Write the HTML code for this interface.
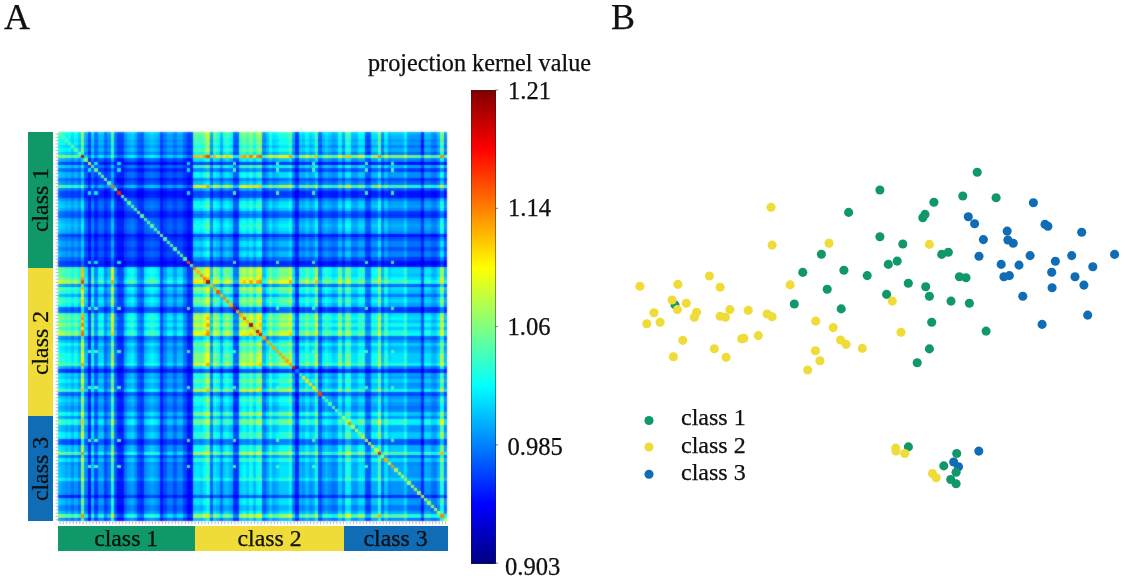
<!DOCTYPE html>
<html><head><meta charset="utf-8"><style>
html,body{margin:0;padding:0;background:#fff;}
body{width:1125px;height:580px;position:relative;overflow:hidden;font-family:"Liberation Serif","Times New Roman",serif;color:#111;}
.t{position:absolute;white-space:nowrap;line-height:1;-webkit-text-stroke:0.25px #000;}
.bar{position:absolute;}
</style></head><body>
<div class="t" style="left:4px;top:-1px;font-size:36px">A</div>
<div class="t" style="left:611px;top:-1px;font-size:36px">B</div>
<div class="t" style="left:368px;top:51px;font-size:24.2px">projection kernel value</div>
<div class="bar" style="left:471px;top:89.5px;width:25px;height:474px;background:linear-gradient(to bottom,#800000 0.0%,#ff0000 12.5%,#ff8000 25.0%,#ffff00 37.5%,#80ff80 50.0%,#00ffff 62.5%,#0080ff 75.0%,#0000ff 87.5%,#000080 100.0%);box-shadow:inset 0 0 0 1px rgba(30,30,30,0.45);"></div>
<div class="t" style="left:508px;top:78.5px;font-size:24.6px">1.21</div>
<div class="t" style="left:508px;top:196px;font-size:24.6px">1.14</div>
<div class="t" style="left:507.5px;top:315px;font-size:24.6px">1.06</div>
<div class="t" style="left:507.5px;top:434.5px;font-size:24.6px">0.985</div>
<div class="t" style="left:505px;top:554.5px;font-size:24.6px">0.903</div>
<div class="bar" style="left:28px;top:132.4px;width:25px;height:135.2px;background:#109868"></div>
<div class="bar" style="left:28px;top:267.6px;width:25px;height:148.4px;background:#efdc38"></div>
<div class="bar" style="left:28px;top:416px;width:25px;height:105.4px;background:#106db5"></div>
<div class="t" style="left:40.5px;top:200px;font-size:23.8px;transform:translate(-50%,-50%) rotate(-90deg)">class 1</div>
<div class="t" style="left:40.5px;top:342.8px;font-size:23.8px;transform:translate(-50%,-50%) rotate(-90deg)">class 2</div>
<div class="t" style="left:40.5px;top:468.7px;font-size:23.8px;transform:translate(-50%,-50%) rotate(-90deg)">class 3</div>
<div class="bar" style="left:58.4px;top:525.8px;width:136.4px;height:25px;background:#109868"></div>
<div class="bar" style="left:194.8px;top:525.8px;width:149px;height:25px;background:#efdc38"></div>
<div class="bar" style="left:343.8px;top:525.8px;width:104px;height:25px;background:#106db5"></div>
<div class="t" style="left:126.2px;top:538.6px;font-size:23.8px;transform:translate(-50%,-50%)">class 1</div>
<div class="t" style="left:269.6px;top:538.6px;font-size:23.8px;transform:translate(-50%,-50%)">class 2</div>
<div class="t" style="left:395.6px;top:538.6px;font-size:23.8px;transform:translate(-50%,-50%)">class 3</div>
<div style="position:absolute;left:58.4px;top:132.4px;width:389px;height:389px;filter:blur(0px)"><svg width="389" height="389" viewBox="0 0 389 389" style="display:block;overflow:visible" shape-rendering="crispEdges">
<defs>
<filter id="fA" x="0" y="0" width="389" height="389" filterUnits="userSpaceOnUse" color-interpolation-filters="sRGB"><feColorMatrix type="matrix" values="0.45113 0.45113 0.09775 0 0 0.45113 0.45113 0.09775 0 0 0.45113 0.45113 0.09775 0 0 0 0 0 1 0"/><feComponentTransfer><feFuncR type="table" tableValues="0.03124 0.03132 0.0314 0.03148 0.03157 0.03167 0.03177 0.03187 0.03199 0.03211 0.03223 0.03237 0.03251 0.03266 0.03282 0.03299 0.03317 0.03336 0.03357 0.03378 0.03401 0.03425 0.03451 0.03478 0.03507 0.03537 0.0357 0.03604 0.0364 0.03679 0.0372 0.03763 0.03809 0.03858 0.0391 0.03965 0.04023 0.04085 0.0415 0.04219 0.04293 0.04371 0.04453 0.04541 0.04634 0.04732 0.04837 0.04947 0.05065 0.05189 0.05321 0.05461 0.05609 0.05767 0.05934 0.06108 0.06284 0.0646 0.06635 0.06811 0.06986 0.07162 0.07338 0.07513 0.07689 0.07864 0.0804 0.08216 0.08391 0.08567 0.08742 0.08918 0.09094 0.09269 0.09445 0.0962 0.09796 0.09971 0.1015 0.1032 0.105 0.1067 0.1085 0.1103 0.112 0.1138 0.1155 0.1173 0.119 0.1208 0.1225 0.1243 0.1261 0.1278 0.1296 0.1313 0.1331 0.1348 0.1366 0.1383 0.1401 0.1419 0.1436 0.1454 0.1471 0.1489 0.1506 0.1524 0.1541 0.1559 0.1577 0.1594 0.1612 0.1629 0.1647 0.1664 0.1682 0.17 0.1717 0.1735 0.1752 0.177 0.1787 0.1805 0.1822 0.184 0.1858 0.1875 0.1893 0.191 0.1928 0.1945 0.1963 0.198 0.1998 0.2016 0.2033 0.2051 0.2068 0.2086 0.2103 0.2121 0.2139 0.2156 0.2174 0.2191 0.2209 0.2226 0.2244 0.2261 0.2279 0.2297 0.2314 0.2332 0.2349 0.2367 0.2384 0.2402 0.2419 0.2437 0.2455 0.2472 0.249 0.2507 0.2525 0.2542 0.256 0.2578 0.2595 0.2613 0.263 0.2648 0.2665 0.2683 0.27 0.2718 0.2736 0.2753 0.2771 0.2788 0.2806 0.2823 0.2841 0.2858 0.2876 0.2894 0.2911 0.2929 0.2946 0.2964 0.2981 0.2999 0.3016 0.3034 0.3052 0.3069 0.3087 0.3104 0.3122 0.3139 0.3157 0.3175 0.3192 0.321 0.3227 0.3245 0.3262 0.328 0.3297 0.3315 0.3333 0.335 0.3368 0.3385 0.3403 0.342 0.3438 0.3455 0.3473 0.3491 0.3508 0.3526 0.3543 0.3561 0.3578 0.3596 0.3614 0.3631 0.3649 0.3666 0.3684 0.3701 0.3719 0.3736 0.3754 0.3772 0.3789 0.3807 0.3824 0.3842 0.3859 0.3877 0.3894 0.3912 0.393 0.3947 0.3965 0.3982 0.4 0.4017 0.4035 0.4053 0.407 0.4088 0.4105 0.4123"/><feFuncG type="table" tableValues="0.03124 0.03132 0.0314 0.03148 0.03157 0.03167 0.03177 0.03187 0.03199 0.03211 0.03223 0.03237 0.03251 0.03266 0.03282 0.03299 0.03317 0.03336 0.03357 0.03378 0.03401 0.03425 0.03451 0.03478 0.03507 0.03537 0.0357 0.03604 0.0364 0.03679 0.0372 0.03763 0.03809 0.03858 0.0391 0.03965 0.04023 0.04085 0.0415 0.04219 0.04293 0.04371 0.04453 0.04541 0.04634 0.04732 0.04837 0.04947 0.05065 0.05189 0.05321 0.05461 0.05609 0.05767 0.05934 0.06108 0.06284 0.0646 0.06635 0.06811 0.06986 0.07162 0.07338 0.07513 0.07689 0.07864 0.0804 0.08216 0.08391 0.08567 0.08742 0.08918 0.09094 0.09269 0.09445 0.0962 0.09796 0.09971 0.1015 0.1032 0.105 0.1067 0.1085 0.1103 0.112 0.1138 0.1155 0.1173 0.119 0.1208 0.1225 0.1243 0.1261 0.1278 0.1296 0.1313 0.1331 0.1348 0.1366 0.1383 0.1401 0.1419 0.1436 0.1454 0.1471 0.1489 0.1506 0.1524 0.1541 0.1559 0.1577 0.1594 0.1612 0.1629 0.1647 0.1664 0.1682 0.17 0.1717 0.1735 0.1752 0.177 0.1787 0.1805 0.1822 0.184 0.1858 0.1875 0.1893 0.191 0.1928 0.1945 0.1963 0.198 0.1998 0.2016 0.2033 0.2051 0.2068 0.2086 0.2103 0.2121 0.2139 0.2156 0.2174 0.2191 0.2209 0.2226 0.2244 0.2261 0.2279 0.2297 0.2314 0.2332 0.2349 0.2367 0.2384 0.2402 0.2419 0.2437 0.2455 0.2472 0.249 0.2507 0.2525 0.2542 0.256 0.2578 0.2595 0.2613 0.263 0.2648 0.2665 0.2683 0.27 0.2718 0.2736 0.2753 0.2771 0.2788 0.2806 0.2823 0.2841 0.2858 0.2876 0.2894 0.2911 0.2929 0.2946 0.2964 0.2981 0.2999 0.3016 0.3034 0.3052 0.3069 0.3087 0.3104 0.3122 0.3139 0.3157 0.3175 0.3192 0.321 0.3227 0.3245 0.3262 0.328 0.3297 0.3315 0.3333 0.335 0.3368 0.3385 0.3403 0.342 0.3438 0.3455 0.3473 0.3491 0.3508 0.3526 0.3543 0.3561 0.3578 0.3596 0.3614 0.3631 0.3649 0.3666 0.3684 0.3701 0.3719 0.3736 0.3754 0.3772 0.3789 0.3807 0.3824 0.3842 0.3859 0.3877 0.3894 0.3912 0.393 0.3947 0.3965 0.3982 0.4 0.4017 0.4035 0.4053 0.407 0.4088 0.4105 0.4123"/><feFuncB type="table" tableValues="0.03124 0.03132 0.0314 0.03148 0.03157 0.03167 0.03177 0.03187 0.03199 0.03211 0.03223 0.03237 0.03251 0.03266 0.03282 0.03299 0.03317 0.03336 0.03357 0.03378 0.03401 0.03425 0.03451 0.03478 0.03507 0.03537 0.0357 0.03604 0.0364 0.03679 0.0372 0.03763 0.03809 0.03858 0.0391 0.03965 0.04023 0.04085 0.0415 0.04219 0.04293 0.04371 0.04453 0.04541 0.04634 0.04732 0.04837 0.04947 0.05065 0.05189 0.05321 0.05461 0.05609 0.05767 0.05934 0.06108 0.06284 0.0646 0.06635 0.06811 0.06986 0.07162 0.07338 0.07513 0.07689 0.07864 0.0804 0.08216 0.08391 0.08567 0.08742 0.08918 0.09094 0.09269 0.09445 0.0962 0.09796 0.09971 0.1015 0.1032 0.105 0.1067 0.1085 0.1103 0.112 0.1138 0.1155 0.1173 0.119 0.1208 0.1225 0.1243 0.1261 0.1278 0.1296 0.1313 0.1331 0.1348 0.1366 0.1383 0.1401 0.1419 0.1436 0.1454 0.1471 0.1489 0.1506 0.1524 0.1541 0.1559 0.1577 0.1594 0.1612 0.1629 0.1647 0.1664 0.1682 0.17 0.1717 0.1735 0.1752 0.177 0.1787 0.1805 0.1822 0.184 0.1858 0.1875 0.1893 0.191 0.1928 0.1945 0.1963 0.198 0.1998 0.2016 0.2033 0.2051 0.2068 0.2086 0.2103 0.2121 0.2139 0.2156 0.2174 0.2191 0.2209 0.2226 0.2244 0.2261 0.2279 0.2297 0.2314 0.2332 0.2349 0.2367 0.2384 0.2402 0.2419 0.2437 0.2455 0.2472 0.249 0.2507 0.2525 0.2542 0.256 0.2578 0.2595 0.2613 0.263 0.2648 0.2665 0.2683 0.27 0.2718 0.2736 0.2753 0.2771 0.2788 0.2806 0.2823 0.2841 0.2858 0.2876 0.2894 0.2911 0.2929 0.2946 0.2964 0.2981 0.2999 0.3016 0.3034 0.3052 0.3069 0.3087 0.3104 0.3122 0.3139 0.3157 0.3175 0.3192 0.321 0.3227 0.3245 0.3262 0.328 0.3297 0.3315 0.3333 0.335 0.3368 0.3385 0.3403 0.342 0.3438 0.3455 0.3473 0.3491 0.3508 0.3526 0.3543 0.3561 0.3578 0.3596 0.3614 0.3631 0.3649 0.3666 0.3684 0.3701 0.3719 0.3736 0.3754 0.3772 0.3789 0.3807 0.3824 0.3842 0.3859 0.3877 0.3894 0.3912 0.393 0.3947 0.3965 0.3982 0.4 0.4017 0.4035 0.4053 0.407 0.4088 0.4105 0.4123"/></feComponentTransfer></filter>
<filter id="fM" x="0" y="0" width="389" height="389" filterUnits="userSpaceOnUse" color-interpolation-filters="sRGB"><feColorMatrix type="matrix" values="0.43943 0.43943 0.12114 0 0 0.43943 0.43943 0.12114 0 0 0.43943 0.43943 0.12114 0 0 0 0 0 1 0"/><feComponentTransfer><feFuncR type="table" tableValues="0.06032 0.06033 0.06034 0.06035 0.06036 0.06037 0.06038 0.06039 0.06041 0.06042 0.06043 0.06045 0.06046 0.06048 0.06049 0.06051 0.06052 0.06054 0.06056 0.06058 0.0606 0.06061 0.06063 0.06065 0.06068 0.0607 0.06072 0.06074 0.06077 0.06079 0.06082 0.06084 0.06087 0.0609 0.06093 0.06096 0.06099 0.06102 0.06105 0.06108 0.06112 0.06115 0.06119 0.06123 0.06127 0.06131 0.06135 0.0614 0.06144 0.06149 0.06153 0.06158 0.06163 0.06169 0.06174 0.0618 0.06185 0.06191 0.06198 0.06204 0.0621 0.06217 0.06224 0.06231 0.06239 0.06246 0.06254 0.06263 0.06271 0.0628 0.06289 0.06298 0.06307 0.06317 0.06327 0.06338 0.06349 0.0636 0.06372 0.06383 0.06396 0.06408 0.06422 0.06435 0.06449 0.06463 0.06478 0.06494 0.0651 0.06526 0.06543 0.0656 0.06578 0.06597 0.06616 0.06636 0.06656 0.06677 0.06699 0.06721 0.06744 0.06768 0.06793 0.06818 0.06845 0.06872 0.069 0.06929 0.06958 0.06989 0.07021 0.07054 0.07087 0.07122 0.07158 0.07195 0.07234 0.07273 0.07314 0.07356 0.074 0.07445 0.07491 0.07539 0.07588 0.07639 0.07692 0.07746 0.07802 0.0786 0.0792 0.07981 0.08045 0.08111 0.08178 0.08248 0.0832 0.08395 0.08472 0.08551 0.08633 0.08717 0.08804 0.08894 0.08987 0.09083 0.09182 0.09284 0.09389 0.09498 0.0961 0.09726 0.09846 0.09969 0.101 0.1023 0.1036 0.105 0.1065 0.108 0.1095 0.1111 0.1127 0.1144 0.1162 0.118 0.1198 0.1218 0.1237 0.1258 0.1279 0.1301 0.1323 0.1346 0.137 0.1395 0.1421 0.1447 0.1474 0.1502 0.1531 0.1561 0.1592 0.1624 0.1657 0.169 0.1725 0.1762 0.1799 0.1837 0.1877 0.1918 0.196 0.2004 0.2049 0.2095 0.2143 0.2193 0.2244 0.2297 0.2351 0.2407 0.2465 0.2525 0.2587 0.2651 0.2717 0.2784 0.2855 0.2927 0.3002 0.3079 0.3158 0.324 0.3325 0.3412 0.3503 0.3596 0.3692 0.3791 0.3893 0.3999 0.4108 0.4221 0.4337 0.4457 0.458 0.4708 0.484 0.4976 0.5116 0.5261 0.5411 0.5565 0.5725 0.5889 0.6059 0.6234 0.6415 0.6601 0.6794 0.6992 0.7198 0.7409 0.7628 0.7853 0.8086 0.8326 0.8574 0.883 0.9094 0.9366 0.9648 0.9938 1.024 1.055"/><feFuncG type="table" tableValues="0.06032 0.06033 0.06034 0.06035 0.06036 0.06037 0.06038 0.06039 0.06041 0.06042 0.06043 0.06045 0.06046 0.06048 0.06049 0.06051 0.06052 0.06054 0.06056 0.06058 0.0606 0.06061 0.06063 0.06065 0.06068 0.0607 0.06072 0.06074 0.06077 0.06079 0.06082 0.06084 0.06087 0.0609 0.06093 0.06096 0.06099 0.06102 0.06105 0.06108 0.06112 0.06115 0.06119 0.06123 0.06127 0.06131 0.06135 0.0614 0.06144 0.06149 0.06153 0.06158 0.06163 0.06169 0.06174 0.0618 0.06185 0.06191 0.06198 0.06204 0.0621 0.06217 0.06224 0.06231 0.06239 0.06246 0.06254 0.06263 0.06271 0.0628 0.06289 0.06298 0.06307 0.06317 0.06327 0.06338 0.06349 0.0636 0.06372 0.06383 0.06396 0.06408 0.06422 0.06435 0.06449 0.06463 0.06478 0.06494 0.0651 0.06526 0.06543 0.0656 0.06578 0.06597 0.06616 0.06636 0.06656 0.06677 0.06699 0.06721 0.06744 0.06768 0.06793 0.06818 0.06845 0.06872 0.069 0.06929 0.06958 0.06989 0.07021 0.07054 0.07087 0.07122 0.07158 0.07195 0.07234 0.07273 0.07314 0.07356 0.074 0.07445 0.07491 0.07539 0.07588 0.07639 0.07692 0.07746 0.07802 0.0786 0.0792 0.07981 0.08045 0.08111 0.08178 0.08248 0.0832 0.08395 0.08472 0.08551 0.08633 0.08717 0.08804 0.08894 0.08987 0.09083 0.09182 0.09284 0.09389 0.09498 0.0961 0.09726 0.09846 0.09969 0.101 0.1023 0.1036 0.105 0.1065 0.108 0.1095 0.1111 0.1127 0.1144 0.1162 0.118 0.1198 0.1218 0.1237 0.1258 0.1279 0.1301 0.1323 0.1346 0.137 0.1395 0.1421 0.1447 0.1474 0.1502 0.1531 0.1561 0.1592 0.1624 0.1657 0.169 0.1725 0.1762 0.1799 0.1837 0.1877 0.1918 0.196 0.2004 0.2049 0.2095 0.2143 0.2193 0.2244 0.2297 0.2351 0.2407 0.2465 0.2525 0.2587 0.2651 0.2717 0.2784 0.2855 0.2927 0.3002 0.3079 0.3158 0.324 0.3325 0.3412 0.3503 0.3596 0.3692 0.3791 0.3893 0.3999 0.4108 0.4221 0.4337 0.4457 0.458 0.4708 0.484 0.4976 0.5116 0.5261 0.5411 0.5565 0.5725 0.5889 0.6059 0.6234 0.6415 0.6601 0.6794 0.6992 0.7198 0.7409 0.7628 0.7853 0.8086 0.8326 0.8574 0.883 0.9094 0.9366 0.9648 0.9938 1.024 1.055"/><feFuncB type="table" tableValues="0.06032 0.06033 0.06034 0.06035 0.06036 0.06037 0.06038 0.06039 0.06041 0.06042 0.06043 0.06045 0.06046 0.06048 0.06049 0.06051 0.06052 0.06054 0.06056 0.06058 0.0606 0.06061 0.06063 0.06065 0.06068 0.0607 0.06072 0.06074 0.06077 0.06079 0.06082 0.06084 0.06087 0.0609 0.06093 0.06096 0.06099 0.06102 0.06105 0.06108 0.06112 0.06115 0.06119 0.06123 0.06127 0.06131 0.06135 0.0614 0.06144 0.06149 0.06153 0.06158 0.06163 0.06169 0.06174 0.0618 0.06185 0.06191 0.06198 0.06204 0.0621 0.06217 0.06224 0.06231 0.06239 0.06246 0.06254 0.06263 0.06271 0.0628 0.06289 0.06298 0.06307 0.06317 0.06327 0.06338 0.06349 0.0636 0.06372 0.06383 0.06396 0.06408 0.06422 0.06435 0.06449 0.06463 0.06478 0.06494 0.0651 0.06526 0.06543 0.0656 0.06578 0.06597 0.06616 0.06636 0.06656 0.06677 0.06699 0.06721 0.06744 0.06768 0.06793 0.06818 0.06845 0.06872 0.069 0.06929 0.06958 0.06989 0.07021 0.07054 0.07087 0.07122 0.07158 0.07195 0.07234 0.07273 0.07314 0.07356 0.074 0.07445 0.07491 0.07539 0.07588 0.07639 0.07692 0.07746 0.07802 0.0786 0.0792 0.07981 0.08045 0.08111 0.08178 0.08248 0.0832 0.08395 0.08472 0.08551 0.08633 0.08717 0.08804 0.08894 0.08987 0.09083 0.09182 0.09284 0.09389 0.09498 0.0961 0.09726 0.09846 0.09969 0.101 0.1023 0.1036 0.105 0.1065 0.108 0.1095 0.1111 0.1127 0.1144 0.1162 0.118 0.1198 0.1218 0.1237 0.1258 0.1279 0.1301 0.1323 0.1346 0.137 0.1395 0.1421 0.1447 0.1474 0.1502 0.1531 0.1561 0.1592 0.1624 0.1657 0.169 0.1725 0.1762 0.1799 0.1837 0.1877 0.1918 0.196 0.2004 0.2049 0.2095 0.2143 0.2193 0.2244 0.2297 0.2351 0.2407 0.2465 0.2525 0.2587 0.2651 0.2717 0.2784 0.2855 0.2927 0.3002 0.3079 0.3158 0.324 0.3325 0.3412 0.3503 0.3596 0.3692 0.3791 0.3893 0.3999 0.4108 0.4221 0.4337 0.4457 0.458 0.4708 0.484 0.4976 0.5116 0.5261 0.5411 0.5565 0.5725 0.5889 0.6059 0.6234 0.6415 0.6601 0.6794 0.6992 0.7198 0.7409 0.7628 0.7853 0.8086 0.8326 0.8574 0.883 0.9094 0.9366 0.9648 0.9938 1.024 1.055"/></feComponentTransfer></filter>
<filter id="jet" x="0" y="0" width="389" height="389" filterUnits="userSpaceOnUse" color-interpolation-filters="sRGB"><feComponentTransfer result="cm"><feFuncR type="table" tableValues="0 0 0 0 0 0 0 0 0 0 0 0 0 0 0 0 0 0 0 0 0 0 0 0 0 0 0 0 0 0 0 0 0 0 0 0 0 0 0 0 0 0 0 0 0 0 0 0 0 0 0 0 0 0 0 0 0 0 0 0 0 0 0 0 0 0 0 0 0 0 0 0 0 0 0 0 0 0 0 0 0 0 0 0 0 0 0 0 0 0 0 0 0 0 0 0 0.005882 0.02157 0.03725 0.05294 0.06863 0.08431 0.1 0.1157 0.1314 0.1471 0.1627 0.1784 0.1941 0.2098 0.2255 0.2412 0.2569 0.2725 0.2882 0.3039 0.3196 0.3353 0.351 0.3667 0.3824 0.398 0.4137 0.4294 0.4451 0.4608 0.4765 0.4922 0.5078 0.5235 0.5392 0.5549 0.5706 0.5863 0.602 0.6176 0.6333 0.649 0.6647 0.6804 0.6961 0.7118 0.7275 0.7431 0.7588 0.7745 0.7902 0.8059 0.8216 0.8373 0.8529 0.8686 0.8843 0.9 0.9157 0.9314 0.9471 0.9627 0.9784 0.9941 1 1 1 1 1 1 1 1 1 1 1 1 1 1 1 1 1 1 1 1 1 1 1 1 1 1 1 1 1 1 1 1 1 1 1 1 1 1 1 1 1 1 1 1 1 1 1 1 1 1 1 1 1 1 1 1 1 1 1 1 1 1 1 1 0.9863 0.9706 0.9549 0.9392 0.9235 0.9078 0.8922 0.8765 0.8608 0.8451 0.8294 0.8137 0.798 0.7824 0.7667 0.751 0.7353 0.7196 0.7039 0.6882 0.6725 0.6569 0.6412 0.6255 0.6098 0.5941 0.5784 0.5627 0.5471 0.5314 0.5157 0.5"/><feFuncG type="table" tableValues="0 0 0 0 0 0 0 0 0 0 0 0 0 0 0 0 0 0 0 0 0 0 0 0 0 0 0 0 0 0 0 0 0.001961 0.01765 0.03333 0.04902 0.06471 0.08039 0.09608 0.1118 0.1275 0.1431 0.1588 0.1745 0.1902 0.2059 0.2216 0.2373 0.2529 0.2686 0.2843 0.3 0.3157 0.3314 0.3471 0.3627 0.3784 0.3941 0.4098 0.4255 0.4412 0.4569 0.4725 0.4882 0.5039 0.5196 0.5353 0.551 0.5667 0.5824 0.598 0.6137 0.6294 0.6451 0.6608 0.6765 0.6922 0.7078 0.7235 0.7392 0.7549 0.7706 0.7863 0.802 0.8176 0.8333 0.849 0.8647 0.8804 0.8961 0.9118 0.9275 0.9431 0.9588 0.9745 0.9902 1 1 1 1 1 1 1 1 1 1 1 1 1 1 1 1 1 1 1 1 1 1 1 1 1 1 1 1 1 1 1 1 1 1 1 1 1 1 1 1 1 1 1 1 1 1 1 1 1 1 1 1 1 1 1 1 1 1 1 1 1 1 1 1 0.9902 0.9745 0.9588 0.9431 0.9275 0.9118 0.8961 0.8804 0.8647 0.849 0.8333 0.8176 0.802 0.7863 0.7706 0.7549 0.7392 0.7235 0.7078 0.6922 0.6765 0.6608 0.6451 0.6294 0.6137 0.598 0.5824 0.5667 0.551 0.5353 0.5196 0.5039 0.4882 0.4725 0.4569 0.4412 0.4255 0.4098 0.3941 0.3784 0.3627 0.3471 0.3314 0.3157 0.3 0.2843 0.2686 0.2529 0.2373 0.2216 0.2059 0.1902 0.1745 0.1588 0.1431 0.1275 0.1118 0.09608 0.08039 0.06471 0.04902 0.03333 0.01765 0.001961 0 0 0 0 0 0 0 0 0 0 0 0 0 0 0 0 0 0 0 0 0 0 0 0 0 0 0 0 0 0 0 0"/><feFuncB type="table" tableValues="0.5 0.5157 0.5314 0.5471 0.5627 0.5784 0.5941 0.6098 0.6255 0.6412 0.6569 0.6725 0.6882 0.7039 0.7196 0.7353 0.751 0.7667 0.7824 0.798 0.8137 0.8294 0.8451 0.8608 0.8765 0.8922 0.9078 0.9235 0.9392 0.9549 0.9706 0.9863 1 1 1 1 1 1 1 1 1 1 1 1 1 1 1 1 1 1 1 1 1 1 1 1 1 1 1 1 1 1 1 1 1 1 1 1 1 1 1 1 1 1 1 1 1 1 1 1 1 1 1 1 1 1 1 1 1 1 1 1 1 1 1 1 0.9941 0.9784 0.9627 0.9471 0.9314 0.9157 0.9 0.8843 0.8686 0.8529 0.8373 0.8216 0.8059 0.7902 0.7745 0.7588 0.7431 0.7275 0.7118 0.6961 0.6804 0.6647 0.649 0.6333 0.6176 0.602 0.5863 0.5706 0.5549 0.5392 0.5235 0.5078 0.4922 0.4765 0.4608 0.4451 0.4294 0.4137 0.398 0.3824 0.3667 0.351 0.3353 0.3196 0.3039 0.2882 0.2725 0.2569 0.2412 0.2255 0.2098 0.1941 0.1784 0.1627 0.1471 0.1314 0.1157 0.1 0.08431 0.06863 0.05294 0.03725 0.02157 0.005882 0 0 0 0 0 0 0 0 0 0 0 0 0 0 0 0 0 0 0 0 0 0 0 0 0 0 0 0 0 0 0 0 0 0 0 0 0 0 0 0 0 0 0 0 0 0 0 0 0 0 0 0 0 0 0 0 0 0 0 0 0 0 0 0 0 0 0 0 0 0 0 0 0 0 0 0 0 0 0 0 0 0 0 0 0 0 0 0 0 0 0 0 0 0 0 0"/></feComponentTransfer></filter>
<filter id="soft" x="-3" y="-3" width="395" height="395" filterUnits="userSpaceOnUse" color-interpolation-filters="sRGB"><feGaussianBlur in="SourceGraphic" stdDeviation="0.9" result="bl"/><feComposite in="SourceGraphic" in2="bl" operator="arithmetic" k1="0" k2="0.400" k3="0.600" k4="0"/></filter>
</defs>
<g filter="url(#soft)">
<g filter="url(#jet)"><rect width="389" height="389" fill="#000"/>
<g filter="url(#fA)" style="mix-blend-mode:plus-lighter"><rect width="389" height="389" fill="#000"/><g>
<rect x="0.00" y="0.00" width="23.08" height="3.33" fill="rgb(138,0,0)"/>
<rect x="23.08" y="0.00" width="112.08" height="3.33" fill="rgb(138,0,0)"/>
<rect x="135.16" y="0.00" width="69.23" height="3.33" fill="rgb(153,0,0)"/>
<rect x="204.39" y="0.00" width="79.12" height="3.33" fill="rgb(153,0,0)"/>
<rect x="283.51" y="0.00" width="105.49" height="3.33" fill="rgb(153,0,0)"/>
<rect x="0.00" y="3.30" width="23.08" height="3.33" fill="rgb(130,0,0)"/>
<rect x="23.08" y="3.30" width="112.08" height="3.33" fill="rgb(130,0,0)"/>
<rect x="135.16" y="3.30" width="69.23" height="3.33" fill="rgb(141,0,0)"/>
<rect x="204.39" y="3.30" width="79.12" height="3.33" fill="rgb(141,0,0)"/>
<rect x="283.51" y="3.30" width="105.49" height="3.33" fill="rgb(141,0,0)"/>
<rect x="0.00" y="6.59" width="23.08" height="3.33" fill="rgb(119,0,0)"/>
<rect x="23.08" y="6.59" width="112.08" height="3.33" fill="rgb(119,0,0)"/>
<rect x="135.16" y="6.59" width="69.23" height="3.33" fill="rgb(124,0,0)"/>
<rect x="204.39" y="6.59" width="79.12" height="3.33" fill="rgb(124,0,0)"/>
<rect x="283.51" y="6.59" width="105.49" height="3.33" fill="rgb(124,0,0)"/>
<rect x="0.00" y="9.89" width="23.08" height="3.33" fill="rgb(126,0,0)"/>
<rect x="23.08" y="9.89" width="112.08" height="3.33" fill="rgb(126,0,0)"/>
<rect x="135.16" y="9.89" width="69.23" height="3.33" fill="rgb(136,0,0)"/>
<rect x="204.39" y="9.89" width="79.12" height="3.33" fill="rgb(136,0,0)"/>
<rect x="283.51" y="9.89" width="105.49" height="3.33" fill="rgb(136,0,0)"/>
<rect x="0.00" y="13.19" width="23.08" height="3.33" fill="rgb(107,0,0)"/>
<rect x="23.08" y="13.19" width="112.08" height="3.33" fill="rgb(107,0,0)"/>
<rect x="135.16" y="13.19" width="69.23" height="3.33" fill="rgb(107,0,0)"/>
<rect x="204.39" y="13.19" width="79.12" height="3.33" fill="rgb(107,0,0)"/>
<rect x="283.51" y="13.19" width="105.49" height="3.33" fill="rgb(107,0,0)"/>
<rect x="0.00" y="16.48" width="23.08" height="3.33" fill="rgb(126,0,0)"/>
<rect x="23.08" y="16.48" width="112.08" height="3.33" fill="rgb(126,0,0)"/>
<rect x="135.16" y="16.48" width="69.23" height="3.33" fill="rgb(136,0,0)"/>
<rect x="204.39" y="16.48" width="79.12" height="3.33" fill="rgb(136,0,0)"/>
<rect x="283.51" y="16.48" width="105.49" height="3.33" fill="rgb(136,0,0)"/>
<rect x="0.00" y="19.78" width="23.08" height="3.33" fill="rgb(100,0,0)"/>
<rect x="23.08" y="19.78" width="112.08" height="3.33" fill="rgb(100,0,0)"/>
<rect x="135.16" y="19.78" width="69.23" height="3.33" fill="rgb(96,0,0)"/>
<rect x="204.39" y="19.78" width="79.12" height="3.33" fill="rgb(96,0,0)"/>
<rect x="283.51" y="19.78" width="105.49" height="3.33" fill="rgb(96,0,0)"/>
<rect x="0.00" y="23.08" width="23.08" height="3.33" fill="rgb(206,0,0)"/>
<rect x="23.08" y="23.08" width="112.08" height="3.33" fill="rgb(206,0,0)"/>
<rect x="135.16" y="23.08" width="69.23" height="3.33" fill="rgb(255,0,0)"/>
<rect x="204.39" y="23.08" width="79.12" height="3.33" fill="rgb(255,0,0)"/>
<rect x="283.51" y="23.08" width="105.49" height="3.33" fill="rgb(255,0,0)"/>
<rect x="0.00" y="26.37" width="23.08" height="3.33" fill="rgb(100,0,0)"/>
<rect x="23.08" y="26.37" width="112.08" height="3.33" fill="rgb(100,0,0)"/>
<rect x="135.16" y="26.37" width="69.23" height="3.33" fill="rgb(96,0,0)"/>
<rect x="204.39" y="26.37" width="79.12" height="3.33" fill="rgb(96,0,0)"/>
<rect x="283.51" y="26.37" width="105.49" height="3.33" fill="rgb(96,0,0)"/>
<rect x="0.00" y="29.67" width="23.08" height="3.33" fill="rgb(47,0,0)"/>
<rect x="23.08" y="29.67" width="112.08" height="3.33" fill="rgb(47,0,0)"/>
<rect x="135.16" y="29.67" width="69.23" height="3.33" fill="rgb(16,0,0)"/>
<rect x="204.39" y="29.67" width="79.12" height="3.33" fill="rgb(16,0,0)"/>
<rect x="283.51" y="29.67" width="105.49" height="3.33" fill="rgb(16,0,0)"/>
<rect x="0.00" y="32.97" width="23.08" height="3.33" fill="rgb(122,0,0)"/>
<rect x="23.08" y="32.97" width="112.08" height="3.33" fill="rgb(122,0,0)"/>
<rect x="135.16" y="32.97" width="69.23" height="3.33" fill="rgb(130,0,0)"/>
<rect x="204.39" y="32.97" width="79.12" height="3.33" fill="rgb(130,0,0)"/>
<rect x="283.51" y="32.97" width="105.49" height="3.33" fill="rgb(130,0,0)"/>
<rect x="0.00" y="36.26" width="23.08" height="3.33" fill="rgb(69,0,0)"/>
<rect x="23.08" y="36.26" width="112.08" height="3.33" fill="rgb(69,0,0)"/>
<rect x="135.16" y="36.26" width="69.23" height="3.33" fill="rgb(50,0,0)"/>
<rect x="204.39" y="36.26" width="79.12" height="3.33" fill="rgb(50,0,0)"/>
<rect x="283.51" y="36.26" width="105.49" height="3.33" fill="rgb(50,0,0)"/>
<rect x="0.00" y="39.56" width="23.08" height="3.33" fill="rgb(107,0,0)"/>
<rect x="23.08" y="39.56" width="112.08" height="3.33" fill="rgb(107,0,0)"/>
<rect x="135.16" y="39.56" width="69.23" height="3.33" fill="rgb(107,0,0)"/>
<rect x="204.39" y="39.56" width="79.12" height="3.33" fill="rgb(107,0,0)"/>
<rect x="283.51" y="39.56" width="105.49" height="3.33" fill="rgb(107,0,0)"/>
<rect x="0.00" y="42.86" width="23.08" height="3.33" fill="rgb(107,0,0)"/>
<rect x="23.08" y="42.86" width="112.08" height="3.33" fill="rgb(107,0,0)"/>
<rect x="135.16" y="42.86" width="69.23" height="3.33" fill="rgb(107,0,0)"/>
<rect x="204.39" y="42.86" width="79.12" height="3.33" fill="rgb(107,0,0)"/>
<rect x="283.51" y="42.86" width="105.49" height="3.33" fill="rgb(107,0,0)"/>
<rect x="0.00" y="46.15" width="23.08" height="3.33" fill="rgb(69,0,0)"/>
<rect x="23.08" y="46.15" width="112.08" height="3.33" fill="rgb(69,0,0)"/>
<rect x="135.16" y="46.15" width="69.23" height="3.33" fill="rgb(50,0,0)"/>
<rect x="204.39" y="46.15" width="79.12" height="3.33" fill="rgb(50,0,0)"/>
<rect x="283.51" y="46.15" width="105.49" height="3.33" fill="rgb(50,0,0)"/>
<rect x="0.00" y="49.45" width="23.08" height="3.33" fill="rgb(88,0,0)"/>
<rect x="23.08" y="49.45" width="112.08" height="3.33" fill="rgb(88,0,0)"/>
<rect x="135.16" y="49.45" width="69.23" height="3.33" fill="rgb(79,0,0)"/>
<rect x="204.39" y="49.45" width="79.12" height="3.33" fill="rgb(79,0,0)"/>
<rect x="283.51" y="49.45" width="105.49" height="3.33" fill="rgb(79,0,0)"/>
<rect x="0.00" y="52.75" width="23.08" height="3.33" fill="rgb(175,0,0)"/>
<rect x="23.08" y="52.75" width="112.08" height="3.33" fill="rgb(175,0,0)"/>
<rect x="135.16" y="52.75" width="69.23" height="3.33" fill="rgb(210,0,0)"/>
<rect x="204.39" y="52.75" width="79.12" height="3.33" fill="rgb(210,0,0)"/>
<rect x="283.51" y="52.75" width="105.49" height="3.33" fill="rgb(210,0,0)"/>
<rect x="0.00" y="56.04" width="23.08" height="3.33" fill="rgb(77,0,0)"/>
<rect x="23.08" y="56.04" width="112.08" height="3.33" fill="rgb(77,0,0)"/>
<rect x="135.16" y="56.04" width="69.23" height="3.33" fill="rgb(62,0,0)"/>
<rect x="204.39" y="56.04" width="79.12" height="3.33" fill="rgb(62,0,0)"/>
<rect x="283.51" y="56.04" width="105.49" height="3.33" fill="rgb(62,0,0)"/>
<rect x="0.00" y="59.34" width="23.08" height="3.33" fill="rgb(50,0,0)"/>
<rect x="23.08" y="59.34" width="112.08" height="3.33" fill="rgb(50,0,0)"/>
<rect x="135.16" y="59.34" width="69.23" height="3.33" fill="rgb(22,0,0)"/>
<rect x="204.39" y="59.34" width="79.12" height="3.33" fill="rgb(22,0,0)"/>
<rect x="283.51" y="59.34" width="105.49" height="3.33" fill="rgb(22,0,0)"/>
<rect x="0.00" y="62.64" width="23.08" height="3.33" fill="rgb(50,0,0)"/>
<rect x="23.08" y="62.64" width="112.08" height="3.33" fill="rgb(50,0,0)"/>
<rect x="135.16" y="62.64" width="69.23" height="3.33" fill="rgb(22,0,0)"/>
<rect x="204.39" y="62.64" width="79.12" height="3.33" fill="rgb(22,0,0)"/>
<rect x="283.51" y="62.64" width="105.49" height="3.33" fill="rgb(22,0,0)"/>
<rect x="0.00" y="65.93" width="23.08" height="3.33" fill="rgb(88,0,0)"/>
<rect x="23.08" y="65.93" width="112.08" height="3.33" fill="rgb(88,0,0)"/>
<rect x="135.16" y="65.93" width="69.23" height="3.33" fill="rgb(79,0,0)"/>
<rect x="204.39" y="65.93" width="79.12" height="3.33" fill="rgb(79,0,0)"/>
<rect x="283.51" y="65.93" width="105.49" height="3.33" fill="rgb(79,0,0)"/>
<rect x="0.00" y="69.23" width="23.08" height="3.33" fill="rgb(107,0,0)"/>
<rect x="23.08" y="69.23" width="112.08" height="3.33" fill="rgb(107,0,0)"/>
<rect x="135.16" y="69.23" width="69.23" height="3.33" fill="rgb(107,0,0)"/>
<rect x="204.39" y="69.23" width="79.12" height="3.33" fill="rgb(107,0,0)"/>
<rect x="283.51" y="69.23" width="105.49" height="3.33" fill="rgb(107,0,0)"/>
<rect x="0.00" y="72.53" width="23.08" height="3.33" fill="rgb(115,0,0)"/>
<rect x="23.08" y="72.53" width="112.08" height="3.33" fill="rgb(115,0,0)"/>
<rect x="135.16" y="72.53" width="69.23" height="3.33" fill="rgb(119,0,0)"/>
<rect x="204.39" y="72.53" width="79.12" height="3.33" fill="rgb(119,0,0)"/>
<rect x="283.51" y="72.53" width="105.49" height="3.33" fill="rgb(119,0,0)"/>
<rect x="0.00" y="75.82" width="23.08" height="3.33" fill="rgb(100,0,0)"/>
<rect x="23.08" y="75.82" width="112.08" height="3.33" fill="rgb(100,0,0)"/>
<rect x="135.16" y="75.82" width="69.23" height="3.33" fill="rgb(96,0,0)"/>
<rect x="204.39" y="75.82" width="79.12" height="3.33" fill="rgb(96,0,0)"/>
<rect x="283.51" y="75.82" width="105.49" height="3.33" fill="rgb(96,0,0)"/>
<rect x="0.00" y="79.12" width="23.08" height="3.33" fill="rgb(69,0,0)"/>
<rect x="23.08" y="79.12" width="112.08" height="3.33" fill="rgb(69,0,0)"/>
<rect x="135.16" y="79.12" width="69.23" height="3.33" fill="rgb(50,0,0)"/>
<rect x="204.39" y="79.12" width="79.12" height="3.33" fill="rgb(50,0,0)"/>
<rect x="283.51" y="79.12" width="105.49" height="3.33" fill="rgb(50,0,0)"/>
<rect x="0.00" y="82.42" width="23.08" height="3.33" fill="rgb(62,0,0)"/>
<rect x="23.08" y="82.42" width="112.08" height="3.33" fill="rgb(62,0,0)"/>
<rect x="135.16" y="82.42" width="69.23" height="3.33" fill="rgb(39,0,0)"/>
<rect x="204.39" y="82.42" width="79.12" height="3.33" fill="rgb(39,0,0)"/>
<rect x="283.51" y="82.42" width="105.49" height="3.33" fill="rgb(39,0,0)"/>
<rect x="0.00" y="85.71" width="23.08" height="3.33" fill="rgb(100,0,0)"/>
<rect x="23.08" y="85.71" width="112.08" height="3.33" fill="rgb(100,0,0)"/>
<rect x="135.16" y="85.71" width="69.23" height="3.33" fill="rgb(96,0,0)"/>
<rect x="204.39" y="85.71" width="79.12" height="3.33" fill="rgb(96,0,0)"/>
<rect x="283.51" y="85.71" width="105.49" height="3.33" fill="rgb(96,0,0)"/>
<rect x="0.00" y="89.01" width="23.08" height="3.33" fill="rgb(107,0,0)"/>
<rect x="23.08" y="89.01" width="112.08" height="3.33" fill="rgb(107,0,0)"/>
<rect x="135.16" y="89.01" width="69.23" height="3.33" fill="rgb(107,0,0)"/>
<rect x="204.39" y="89.01" width="79.12" height="3.33" fill="rgb(107,0,0)"/>
<rect x="283.51" y="89.01" width="105.49" height="3.33" fill="rgb(107,0,0)"/>
<rect x="0.00" y="92.31" width="23.08" height="3.33" fill="rgb(115,0,0)"/>
<rect x="23.08" y="92.31" width="112.08" height="3.33" fill="rgb(115,0,0)"/>
<rect x="135.16" y="92.31" width="69.23" height="3.33" fill="rgb(119,0,0)"/>
<rect x="204.39" y="92.31" width="79.12" height="3.33" fill="rgb(119,0,0)"/>
<rect x="283.51" y="92.31" width="105.49" height="3.33" fill="rgb(119,0,0)"/>
<rect x="0.00" y="95.60" width="23.08" height="3.33" fill="rgb(107,0,0)"/>
<rect x="23.08" y="95.60" width="112.08" height="3.33" fill="rgb(107,0,0)"/>
<rect x="135.16" y="95.60" width="69.23" height="3.33" fill="rgb(107,0,0)"/>
<rect x="204.39" y="95.60" width="79.12" height="3.33" fill="rgb(107,0,0)"/>
<rect x="283.51" y="95.60" width="105.49" height="3.33" fill="rgb(107,0,0)"/>
<rect x="0.00" y="98.90" width="23.08" height="3.33" fill="rgb(100,0,0)"/>
<rect x="23.08" y="98.90" width="112.08" height="3.33" fill="rgb(100,0,0)"/>
<rect x="135.16" y="98.90" width="69.23" height="3.33" fill="rgb(96,0,0)"/>
<rect x="204.39" y="98.90" width="79.12" height="3.33" fill="rgb(96,0,0)"/>
<rect x="283.51" y="98.90" width="105.49" height="3.33" fill="rgb(96,0,0)"/>
<rect x="0.00" y="102.19" width="23.08" height="3.33" fill="rgb(50,0,0)"/>
<rect x="23.08" y="102.19" width="112.08" height="3.33" fill="rgb(50,0,0)"/>
<rect x="135.16" y="102.19" width="69.23" height="3.33" fill="rgb(22,0,0)"/>
<rect x="204.39" y="102.19" width="79.12" height="3.33" fill="rgb(22,0,0)"/>
<rect x="283.51" y="102.19" width="105.49" height="3.33" fill="rgb(22,0,0)"/>
<rect x="0.00" y="105.49" width="23.08" height="3.33" fill="rgb(77,0,0)"/>
<rect x="23.08" y="105.49" width="112.08" height="3.33" fill="rgb(77,0,0)"/>
<rect x="135.16" y="105.49" width="69.23" height="3.33" fill="rgb(62,0,0)"/>
<rect x="204.39" y="105.49" width="79.12" height="3.33" fill="rgb(62,0,0)"/>
<rect x="283.51" y="105.49" width="105.49" height="3.33" fill="rgb(62,0,0)"/>
<rect x="0.00" y="108.79" width="23.08" height="3.33" fill="rgb(96,0,0)"/>
<rect x="23.08" y="108.79" width="112.08" height="3.33" fill="rgb(96,0,0)"/>
<rect x="135.16" y="108.79" width="69.23" height="3.33" fill="rgb(90,0,0)"/>
<rect x="204.39" y="108.79" width="79.12" height="3.33" fill="rgb(90,0,0)"/>
<rect x="283.51" y="108.79" width="105.49" height="3.33" fill="rgb(90,0,0)"/>
<rect x="0.00" y="112.08" width="23.08" height="3.33" fill="rgb(96,0,0)"/>
<rect x="23.08" y="112.08" width="112.08" height="3.33" fill="rgb(96,0,0)"/>
<rect x="135.16" y="112.08" width="69.23" height="3.33" fill="rgb(90,0,0)"/>
<rect x="204.39" y="112.08" width="79.12" height="3.33" fill="rgb(90,0,0)"/>
<rect x="283.51" y="112.08" width="105.49" height="3.33" fill="rgb(90,0,0)"/>
<rect x="0.00" y="115.38" width="23.08" height="3.33" fill="rgb(77,0,0)"/>
<rect x="23.08" y="115.38" width="112.08" height="3.33" fill="rgb(77,0,0)"/>
<rect x="135.16" y="115.38" width="69.23" height="3.33" fill="rgb(62,0,0)"/>
<rect x="204.39" y="115.38" width="79.12" height="3.33" fill="rgb(62,0,0)"/>
<rect x="283.51" y="115.38" width="105.49" height="3.33" fill="rgb(62,0,0)"/>
<rect x="0.00" y="118.68" width="23.08" height="3.33" fill="rgb(96,0,0)"/>
<rect x="23.08" y="118.68" width="112.08" height="3.33" fill="rgb(96,0,0)"/>
<rect x="135.16" y="118.68" width="69.23" height="3.33" fill="rgb(90,0,0)"/>
<rect x="204.39" y="118.68" width="79.12" height="3.33" fill="rgb(90,0,0)"/>
<rect x="283.51" y="118.68" width="105.49" height="3.33" fill="rgb(90,0,0)"/>
<rect x="0.00" y="121.97" width="23.08" height="3.33" fill="rgb(96,0,0)"/>
<rect x="23.08" y="121.97" width="112.08" height="3.33" fill="rgb(96,0,0)"/>
<rect x="135.16" y="121.97" width="69.23" height="3.33" fill="rgb(90,0,0)"/>
<rect x="204.39" y="121.97" width="79.12" height="3.33" fill="rgb(90,0,0)"/>
<rect x="283.51" y="121.97" width="105.49" height="3.33" fill="rgb(90,0,0)"/>
<rect x="0.00" y="125.27" width="23.08" height="3.33" fill="rgb(69,0,0)"/>
<rect x="23.08" y="125.27" width="112.08" height="3.33" fill="rgb(69,0,0)"/>
<rect x="135.16" y="125.27" width="69.23" height="3.33" fill="rgb(50,0,0)"/>
<rect x="204.39" y="125.27" width="79.12" height="3.33" fill="rgb(50,0,0)"/>
<rect x="283.51" y="125.27" width="105.49" height="3.33" fill="rgb(50,0,0)"/>
<rect x="0.00" y="128.57" width="23.08" height="3.33" fill="rgb(43,0,0)"/>
<rect x="23.08" y="128.57" width="112.08" height="3.33" fill="rgb(43,0,0)"/>
<rect x="135.16" y="128.57" width="69.23" height="3.33" fill="rgb(11,0,0)"/>
<rect x="204.39" y="128.57" width="79.12" height="3.33" fill="rgb(11,0,0)"/>
<rect x="283.51" y="128.57" width="105.49" height="3.33" fill="rgb(11,0,0)"/>
<rect x="0.00" y="131.86" width="23.08" height="3.33" fill="rgb(47,0,0)"/>
<rect x="23.08" y="131.86" width="112.08" height="3.33" fill="rgb(47,0,0)"/>
<rect x="135.16" y="131.86" width="69.23" height="3.33" fill="rgb(16,0,0)"/>
<rect x="204.39" y="131.86" width="79.12" height="3.33" fill="rgb(16,0,0)"/>
<rect x="283.51" y="131.86" width="105.49" height="3.33" fill="rgb(16,0,0)"/>
<rect x="0.00" y="135.16" width="23.08" height="3.33" fill="rgb(183,0,0)"/>
<rect x="23.08" y="135.16" width="112.08" height="3.33" fill="rgb(141,0,0)"/>
<rect x="135.16" y="135.16" width="69.23" height="3.33" fill="rgb(175,0,0)"/>
<rect x="204.39" y="135.16" width="79.12" height="3.33" fill="rgb(175,0,0)"/>
<rect x="283.51" y="135.16" width="105.49" height="3.33" fill="rgb(153,0,0)"/>
<rect x="0.00" y="138.46" width="23.08" height="3.33" fill="rgb(183,0,0)"/>
<rect x="23.08" y="138.46" width="112.08" height="3.33" fill="rgb(141,0,0)"/>
<rect x="135.16" y="138.46" width="69.23" height="3.33" fill="rgb(175,0,0)"/>
<rect x="204.39" y="138.46" width="79.12" height="3.33" fill="rgb(175,0,0)"/>
<rect x="283.51" y="138.46" width="105.49" height="3.33" fill="rgb(153,0,0)"/>
<rect x="0.00" y="141.75" width="23.08" height="3.33" fill="rgb(170,0,0)"/>
<rect x="23.08" y="141.75" width="112.08" height="3.33" fill="rgb(136,0,0)"/>
<rect x="135.16" y="141.75" width="69.23" height="3.33" fill="rgb(164,0,0)"/>
<rect x="204.39" y="141.75" width="79.12" height="3.33" fill="rgb(164,0,0)"/>
<rect x="283.51" y="141.75" width="105.49" height="3.33" fill="rgb(145,0,0)"/>
<rect x="0.00" y="145.05" width="23.08" height="3.33" fill="rgb(202,0,0)"/>
<rect x="23.08" y="145.05" width="112.08" height="3.33" fill="rgb(150,0,0)"/>
<rect x="135.16" y="145.05" width="69.23" height="3.33" fill="rgb(193,0,0)"/>
<rect x="204.39" y="145.05" width="79.12" height="3.33" fill="rgb(193,0,0)"/>
<rect x="283.51" y="145.05" width="105.49" height="3.33" fill="rgb(164,0,0)"/>
<rect x="0.00" y="148.35" width="23.08" height="3.33" fill="rgb(246,0,0)"/>
<rect x="23.08" y="148.35" width="112.08" height="3.33" fill="rgb(170,0,0)"/>
<rect x="135.16" y="148.35" width="69.23" height="3.33" fill="rgb(232,0,0)"/>
<rect x="204.39" y="148.35" width="79.12" height="3.33" fill="rgb(232,0,0)"/>
<rect x="283.51" y="148.35" width="105.49" height="3.33" fill="rgb(191,0,0)"/>
<rect x="0.00" y="151.64" width="23.08" height="3.33" fill="rgb(69,0,0)"/>
<rect x="23.08" y="151.64" width="112.08" height="3.33" fill="rgb(90,0,0)"/>
<rect x="135.16" y="151.64" width="69.23" height="3.33" fill="rgb(73,0,0)"/>
<rect x="204.39" y="151.64" width="79.12" height="3.33" fill="rgb(73,0,0)"/>
<rect x="283.51" y="151.64" width="105.49" height="3.33" fill="rgb(85,0,0)"/>
<rect x="0.00" y="154.94" width="23.08" height="3.33" fill="rgb(183,0,0)"/>
<rect x="23.08" y="154.94" width="112.08" height="3.33" fill="rgb(141,0,0)"/>
<rect x="135.16" y="154.94" width="69.23" height="3.33" fill="rgb(175,0,0)"/>
<rect x="204.39" y="154.94" width="79.12" height="3.33" fill="rgb(175,0,0)"/>
<rect x="283.51" y="154.94" width="105.49" height="3.33" fill="rgb(153,0,0)"/>
<rect x="0.00" y="158.24" width="23.08" height="3.33" fill="rgb(158,0,0)"/>
<rect x="23.08" y="158.24" width="112.08" height="3.33" fill="rgb(130,0,0)"/>
<rect x="135.16" y="158.24" width="69.23" height="3.33" fill="rgb(153,0,0)"/>
<rect x="204.39" y="158.24" width="79.12" height="3.33" fill="rgb(153,0,0)"/>
<rect x="283.51" y="158.24" width="105.49" height="3.33" fill="rgb(138,0,0)"/>
<rect x="0.00" y="161.53" width="23.08" height="3.33" fill="rgb(88,0,0)"/>
<rect x="23.08" y="161.53" width="112.08" height="3.33" fill="rgb(99,0,0)"/>
<rect x="135.16" y="161.53" width="69.23" height="3.33" fill="rgb(90,0,0)"/>
<rect x="204.39" y="161.53" width="79.12" height="3.33" fill="rgb(90,0,0)"/>
<rect x="283.51" y="161.53" width="105.49" height="3.33" fill="rgb(96,0,0)"/>
<rect x="0.00" y="164.83" width="23.08" height="3.33" fill="rgb(158,0,0)"/>
<rect x="23.08" y="164.83" width="112.08" height="3.33" fill="rgb(130,0,0)"/>
<rect x="135.16" y="164.83" width="69.23" height="3.33" fill="rgb(153,0,0)"/>
<rect x="204.39" y="164.83" width="79.12" height="3.33" fill="rgb(153,0,0)"/>
<rect x="283.51" y="164.83" width="105.49" height="3.33" fill="rgb(138,0,0)"/>
<rect x="0.00" y="168.13" width="23.08" height="3.33" fill="rgb(170,0,0)"/>
<rect x="23.08" y="168.13" width="112.08" height="3.33" fill="rgb(136,0,0)"/>
<rect x="135.16" y="168.13" width="69.23" height="3.33" fill="rgb(164,0,0)"/>
<rect x="204.39" y="168.13" width="79.12" height="3.33" fill="rgb(164,0,0)"/>
<rect x="283.51" y="168.13" width="105.49" height="3.33" fill="rgb(145,0,0)"/>
<rect x="0.00" y="171.42" width="23.08" height="3.33" fill="rgb(139,0,0)"/>
<rect x="23.08" y="171.42" width="112.08" height="3.33" fill="rgb(122,0,0)"/>
<rect x="135.16" y="171.42" width="69.23" height="3.33" fill="rgb(136,0,0)"/>
<rect x="204.39" y="171.42" width="79.12" height="3.33" fill="rgb(136,0,0)"/>
<rect x="283.51" y="171.42" width="105.49" height="3.33" fill="rgb(126,0,0)"/>
<rect x="0.00" y="174.72" width="23.08" height="3.33" fill="rgb(32,0,0)"/>
<rect x="23.08" y="174.72" width="112.08" height="3.33" fill="rgb(73,0,0)"/>
<rect x="135.16" y="174.72" width="69.23" height="3.33" fill="rgb(39,0,0)"/>
<rect x="204.39" y="174.72" width="79.12" height="3.33" fill="rgb(39,0,0)"/>
<rect x="283.51" y="174.72" width="105.49" height="3.33" fill="rgb(62,0,0)"/>
<rect x="0.00" y="178.02" width="23.08" height="3.33" fill="rgb(32,0,0)"/>
<rect x="23.08" y="178.02" width="112.08" height="3.33" fill="rgb(73,0,0)"/>
<rect x="135.16" y="178.02" width="69.23" height="3.33" fill="rgb(39,0,0)"/>
<rect x="204.39" y="178.02" width="79.12" height="3.33" fill="rgb(39,0,0)"/>
<rect x="283.51" y="178.02" width="105.49" height="3.33" fill="rgb(62,0,0)"/>
<rect x="0.00" y="181.31" width="23.08" height="3.33" fill="rgb(183,0,0)"/>
<rect x="23.08" y="181.31" width="112.08" height="3.33" fill="rgb(141,0,0)"/>
<rect x="135.16" y="181.31" width="69.23" height="3.33" fill="rgb(175,0,0)"/>
<rect x="204.39" y="181.31" width="79.12" height="3.33" fill="rgb(175,0,0)"/>
<rect x="283.51" y="181.31" width="105.49" height="3.33" fill="rgb(153,0,0)"/>
<rect x="0.00" y="184.61" width="23.08" height="3.33" fill="rgb(202,0,0)"/>
<rect x="23.08" y="184.61" width="112.08" height="3.33" fill="rgb(150,0,0)"/>
<rect x="135.16" y="184.61" width="69.23" height="3.33" fill="rgb(193,0,0)"/>
<rect x="204.39" y="184.61" width="79.12" height="3.33" fill="rgb(193,0,0)"/>
<rect x="283.51" y="184.61" width="105.49" height="3.33" fill="rgb(164,0,0)"/>
<rect x="0.00" y="187.91" width="23.08" height="3.33" fill="rgb(170,0,0)"/>
<rect x="23.08" y="187.91" width="112.08" height="3.33" fill="rgb(136,0,0)"/>
<rect x="135.16" y="187.91" width="69.23" height="3.33" fill="rgb(164,0,0)"/>
<rect x="204.39" y="187.91" width="79.12" height="3.33" fill="rgb(164,0,0)"/>
<rect x="283.51" y="187.91" width="105.49" height="3.33" fill="rgb(145,0,0)"/>
<rect x="0.00" y="191.20" width="23.08" height="3.33" fill="rgb(215,0,0)"/>
<rect x="23.08" y="191.20" width="112.08" height="3.33" fill="rgb(156,0,0)"/>
<rect x="135.16" y="191.20" width="69.23" height="3.33" fill="rgb(204,0,0)"/>
<rect x="204.39" y="191.20" width="79.12" height="3.33" fill="rgb(204,0,0)"/>
<rect x="283.51" y="191.20" width="105.49" height="3.33" fill="rgb(172,0,0)"/>
<rect x="0.00" y="194.50" width="23.08" height="3.33" fill="rgb(158,0,0)"/>
<rect x="23.08" y="194.50" width="112.08" height="3.33" fill="rgb(130,0,0)"/>
<rect x="135.16" y="194.50" width="69.23" height="3.33" fill="rgb(153,0,0)"/>
<rect x="204.39" y="194.50" width="79.12" height="3.33" fill="rgb(153,0,0)"/>
<rect x="283.51" y="194.50" width="105.49" height="3.33" fill="rgb(138,0,0)"/>
<rect x="0.00" y="197.80" width="23.08" height="3.33" fill="rgb(215,0,0)"/>
<rect x="23.08" y="197.80" width="112.08" height="3.33" fill="rgb(156,0,0)"/>
<rect x="135.16" y="197.80" width="69.23" height="3.33" fill="rgb(204,0,0)"/>
<rect x="204.39" y="197.80" width="79.12" height="3.33" fill="rgb(204,0,0)"/>
<rect x="283.51" y="197.80" width="105.49" height="3.33" fill="rgb(172,0,0)"/>
<rect x="0.00" y="201.09" width="23.08" height="3.33" fill="rgb(234,0,0)"/>
<rect x="23.08" y="201.09" width="112.08" height="3.33" fill="rgb(164,0,0)"/>
<rect x="135.16" y="201.09" width="69.23" height="3.33" fill="rgb(221,0,0)"/>
<rect x="204.39" y="201.09" width="79.12" height="3.33" fill="rgb(221,0,0)"/>
<rect x="283.51" y="201.09" width="105.49" height="3.33" fill="rgb(183,0,0)"/>
<rect x="0.00" y="204.39" width="23.08" height="3.33" fill="rgb(57,0,0)"/>
<rect x="23.08" y="204.39" width="112.08" height="3.33" fill="rgb(85,0,0)"/>
<rect x="135.16" y="204.39" width="69.23" height="3.33" fill="rgb(62,0,0)"/>
<rect x="204.39" y="204.39" width="79.12" height="3.33" fill="rgb(62,0,0)"/>
<rect x="283.51" y="204.39" width="105.49" height="3.33" fill="rgb(77,0,0)"/>
<rect x="0.00" y="207.69" width="23.08" height="3.33" fill="rgb(95,0,0)"/>
<rect x="23.08" y="207.69" width="112.08" height="3.33" fill="rgb(102,0,0)"/>
<rect x="135.16" y="207.69" width="69.23" height="3.33" fill="rgb(96,0,0)"/>
<rect x="204.39" y="207.69" width="79.12" height="3.33" fill="rgb(96,0,0)"/>
<rect x="283.51" y="207.69" width="105.49" height="3.33" fill="rgb(100,0,0)"/>
<rect x="0.00" y="210.98" width="23.08" height="3.33" fill="rgb(145,0,0)"/>
<rect x="23.08" y="210.98" width="112.08" height="3.33" fill="rgb(124,0,0)"/>
<rect x="135.16" y="210.98" width="69.23" height="3.33" fill="rgb(141,0,0)"/>
<rect x="204.39" y="210.98" width="79.12" height="3.33" fill="rgb(141,0,0)"/>
<rect x="283.51" y="210.98" width="105.49" height="3.33" fill="rgb(130,0,0)"/>
<rect x="0.00" y="214.28" width="23.08" height="3.33" fill="rgb(107,0,0)"/>
<rect x="23.08" y="214.28" width="112.08" height="3.33" fill="rgb(107,0,0)"/>
<rect x="135.16" y="214.28" width="69.23" height="3.33" fill="rgb(107,0,0)"/>
<rect x="204.39" y="214.28" width="79.12" height="3.33" fill="rgb(107,0,0)"/>
<rect x="283.51" y="214.28" width="105.49" height="3.33" fill="rgb(107,0,0)"/>
<rect x="0.00" y="217.58" width="23.08" height="3.33" fill="rgb(120,0,0)"/>
<rect x="23.08" y="217.58" width="112.08" height="3.33" fill="rgb(113,0,0)"/>
<rect x="135.16" y="217.58" width="69.23" height="3.33" fill="rgb(119,0,0)"/>
<rect x="204.39" y="217.58" width="79.12" height="3.33" fill="rgb(119,0,0)"/>
<rect x="283.51" y="217.58" width="105.49" height="3.33" fill="rgb(115,0,0)"/>
<rect x="0.00" y="220.87" width="23.08" height="3.33" fill="rgb(145,0,0)"/>
<rect x="23.08" y="220.87" width="112.08" height="3.33" fill="rgb(124,0,0)"/>
<rect x="135.16" y="220.87" width="69.23" height="3.33" fill="rgb(141,0,0)"/>
<rect x="204.39" y="220.87" width="79.12" height="3.33" fill="rgb(141,0,0)"/>
<rect x="283.51" y="220.87" width="105.49" height="3.33" fill="rgb(130,0,0)"/>
<rect x="0.00" y="224.17" width="23.08" height="3.33" fill="rgb(145,0,0)"/>
<rect x="23.08" y="224.17" width="112.08" height="3.33" fill="rgb(124,0,0)"/>
<rect x="135.16" y="224.17" width="69.23" height="3.33" fill="rgb(141,0,0)"/>
<rect x="204.39" y="224.17" width="79.12" height="3.33" fill="rgb(141,0,0)"/>
<rect x="283.51" y="224.17" width="105.49" height="3.33" fill="rgb(130,0,0)"/>
<rect x="0.00" y="227.47" width="23.08" height="3.33" fill="rgb(145,0,0)"/>
<rect x="23.08" y="227.47" width="112.08" height="3.33" fill="rgb(124,0,0)"/>
<rect x="135.16" y="227.47" width="69.23" height="3.33" fill="rgb(141,0,0)"/>
<rect x="204.39" y="227.47" width="79.12" height="3.33" fill="rgb(141,0,0)"/>
<rect x="283.51" y="227.47" width="105.49" height="3.33" fill="rgb(130,0,0)"/>
<rect x="0.00" y="230.76" width="23.08" height="3.33" fill="rgb(183,0,0)"/>
<rect x="23.08" y="230.76" width="112.08" height="3.33" fill="rgb(141,0,0)"/>
<rect x="135.16" y="230.76" width="69.23" height="3.33" fill="rgb(175,0,0)"/>
<rect x="204.39" y="230.76" width="79.12" height="3.33" fill="rgb(175,0,0)"/>
<rect x="283.51" y="230.76" width="105.49" height="3.33" fill="rgb(153,0,0)"/>
<rect x="0.00" y="234.06" width="23.08" height="3.33" fill="rgb(76,0,0)"/>
<rect x="23.08" y="234.06" width="112.08" height="3.33" fill="rgb(93,0,0)"/>
<rect x="135.16" y="234.06" width="69.23" height="3.33" fill="rgb(79,0,0)"/>
<rect x="204.39" y="234.06" width="79.12" height="3.33" fill="rgb(79,0,0)"/>
<rect x="283.51" y="234.06" width="105.49" height="3.33" fill="rgb(88,0,0)"/>
<rect x="0.00" y="237.36" width="23.08" height="3.33" fill="rgb(0,0,0)"/>
<rect x="23.08" y="237.36" width="112.08" height="3.33" fill="rgb(59,0,0)"/>
<rect x="135.16" y="237.36" width="69.23" height="3.33" fill="rgb(11,0,0)"/>
<rect x="204.39" y="237.36" width="79.12" height="3.33" fill="rgb(11,0,0)"/>
<rect x="283.51" y="237.36" width="105.49" height="3.33" fill="rgb(43,0,0)"/>
<rect x="0.00" y="240.65" width="23.08" height="3.33" fill="rgb(107,0,0)"/>
<rect x="23.08" y="240.65" width="112.08" height="3.33" fill="rgb(107,0,0)"/>
<rect x="135.16" y="240.65" width="69.23" height="3.33" fill="rgb(107,0,0)"/>
<rect x="204.39" y="240.65" width="79.12" height="3.33" fill="rgb(107,0,0)"/>
<rect x="283.51" y="240.65" width="105.49" height="3.33" fill="rgb(107,0,0)"/>
<rect x="0.00" y="243.95" width="23.08" height="3.33" fill="rgb(95,0,0)"/>
<rect x="23.08" y="243.95" width="112.08" height="3.33" fill="rgb(102,0,0)"/>
<rect x="135.16" y="243.95" width="69.23" height="3.33" fill="rgb(96,0,0)"/>
<rect x="204.39" y="243.95" width="79.12" height="3.33" fill="rgb(96,0,0)"/>
<rect x="283.51" y="243.95" width="105.49" height="3.33" fill="rgb(100,0,0)"/>
<rect x="0.00" y="247.25" width="23.08" height="3.33" fill="rgb(126,0,0)"/>
<rect x="23.08" y="247.25" width="112.08" height="3.33" fill="rgb(116,0,0)"/>
<rect x="135.16" y="247.25" width="69.23" height="3.33" fill="rgb(124,0,0)"/>
<rect x="204.39" y="247.25" width="79.12" height="3.33" fill="rgb(124,0,0)"/>
<rect x="283.51" y="247.25" width="105.49" height="3.33" fill="rgb(119,0,0)"/>
<rect x="0.00" y="250.54" width="23.08" height="3.33" fill="rgb(95,0,0)"/>
<rect x="23.08" y="250.54" width="112.08" height="3.33" fill="rgb(102,0,0)"/>
<rect x="135.16" y="250.54" width="69.23" height="3.33" fill="rgb(96,0,0)"/>
<rect x="204.39" y="250.54" width="79.12" height="3.33" fill="rgb(96,0,0)"/>
<rect x="283.51" y="250.54" width="105.49" height="3.33" fill="rgb(100,0,0)"/>
<rect x="0.00" y="253.84" width="23.08" height="3.33" fill="rgb(107,0,0)"/>
<rect x="23.08" y="253.84" width="112.08" height="3.33" fill="rgb(107,0,0)"/>
<rect x="135.16" y="253.84" width="69.23" height="3.33" fill="rgb(107,0,0)"/>
<rect x="204.39" y="253.84" width="79.12" height="3.33" fill="rgb(107,0,0)"/>
<rect x="283.51" y="253.84" width="105.49" height="3.33" fill="rgb(107,0,0)"/>
<rect x="0.00" y="257.14" width="23.08" height="3.33" fill="rgb(170,0,0)"/>
<rect x="23.08" y="257.14" width="112.08" height="3.33" fill="rgb(136,0,0)"/>
<rect x="135.16" y="257.14" width="69.23" height="3.33" fill="rgb(164,0,0)"/>
<rect x="204.39" y="257.14" width="79.12" height="3.33" fill="rgb(164,0,0)"/>
<rect x="283.51" y="257.14" width="105.49" height="3.33" fill="rgb(145,0,0)"/>
<rect x="0.00" y="260.43" width="23.08" height="3.33" fill="rgb(32,0,0)"/>
<rect x="23.08" y="260.43" width="112.08" height="3.33" fill="rgb(73,0,0)"/>
<rect x="135.16" y="260.43" width="69.23" height="3.33" fill="rgb(39,0,0)"/>
<rect x="204.39" y="260.43" width="79.12" height="3.33" fill="rgb(39,0,0)"/>
<rect x="283.51" y="260.43" width="105.49" height="3.33" fill="rgb(62,0,0)"/>
<rect x="0.00" y="263.73" width="23.08" height="3.33" fill="rgb(88,0,0)"/>
<rect x="23.08" y="263.73" width="112.08" height="3.33" fill="rgb(99,0,0)"/>
<rect x="135.16" y="263.73" width="69.23" height="3.33" fill="rgb(90,0,0)"/>
<rect x="204.39" y="263.73" width="79.12" height="3.33" fill="rgb(90,0,0)"/>
<rect x="283.51" y="263.73" width="105.49" height="3.33" fill="rgb(96,0,0)"/>
<rect x="0.00" y="267.03" width="23.08" height="3.33" fill="rgb(107,0,0)"/>
<rect x="23.08" y="267.03" width="112.08" height="3.33" fill="rgb(107,0,0)"/>
<rect x="135.16" y="267.03" width="69.23" height="3.33" fill="rgb(107,0,0)"/>
<rect x="204.39" y="267.03" width="79.12" height="3.33" fill="rgb(107,0,0)"/>
<rect x="283.51" y="267.03" width="105.49" height="3.33" fill="rgb(107,0,0)"/>
<rect x="0.00" y="270.32" width="23.08" height="3.33" fill="rgb(88,0,0)"/>
<rect x="23.08" y="270.32" width="112.08" height="3.33" fill="rgb(99,0,0)"/>
<rect x="135.16" y="270.32" width="69.23" height="3.33" fill="rgb(90,0,0)"/>
<rect x="204.39" y="270.32" width="79.12" height="3.33" fill="rgb(90,0,0)"/>
<rect x="283.51" y="270.32" width="105.49" height="3.33" fill="rgb(96,0,0)"/>
<rect x="0.00" y="273.62" width="23.08" height="3.33" fill="rgb(69,0,0)"/>
<rect x="23.08" y="273.62" width="112.08" height="3.33" fill="rgb(90,0,0)"/>
<rect x="135.16" y="273.62" width="69.23" height="3.33" fill="rgb(73,0,0)"/>
<rect x="204.39" y="273.62" width="79.12" height="3.33" fill="rgb(73,0,0)"/>
<rect x="283.51" y="273.62" width="105.49" height="3.33" fill="rgb(85,0,0)"/>
<rect x="0.00" y="276.92" width="23.08" height="3.33" fill="rgb(76,0,0)"/>
<rect x="23.08" y="276.92" width="112.08" height="3.33" fill="rgb(93,0,0)"/>
<rect x="135.16" y="276.92" width="69.23" height="3.33" fill="rgb(79,0,0)"/>
<rect x="204.39" y="276.92" width="79.12" height="3.33" fill="rgb(79,0,0)"/>
<rect x="283.51" y="276.92" width="105.49" height="3.33" fill="rgb(88,0,0)"/>
<rect x="0.00" y="280.21" width="23.08" height="3.33" fill="rgb(139,0,0)"/>
<rect x="23.08" y="280.21" width="112.08" height="3.33" fill="rgb(122,0,0)"/>
<rect x="135.16" y="280.21" width="69.23" height="3.33" fill="rgb(136,0,0)"/>
<rect x="204.39" y="280.21" width="79.12" height="3.33" fill="rgb(136,0,0)"/>
<rect x="283.51" y="280.21" width="105.49" height="3.33" fill="rgb(126,0,0)"/>
<rect x="0.00" y="283.51" width="23.08" height="3.33" fill="rgb(95,0,0)"/>
<rect x="23.08" y="283.51" width="112.08" height="3.33" fill="rgb(102,0,0)"/>
<rect x="135.16" y="283.51" width="69.23" height="3.33" fill="rgb(100,0,0)"/>
<rect x="204.39" y="283.51" width="79.12" height="3.33" fill="rgb(100,0,0)"/>
<rect x="283.51" y="283.51" width="105.49" height="3.33" fill="rgb(98,0,0)"/>
<rect x="0.00" y="286.81" width="23.08" height="3.33" fill="rgb(183,0,0)"/>
<rect x="23.08" y="286.81" width="112.08" height="3.33" fill="rgb(141,0,0)"/>
<rect x="135.16" y="286.81" width="69.23" height="3.33" fill="rgb(153,0,0)"/>
<rect x="204.39" y="286.81" width="79.12" height="3.33" fill="rgb(153,0,0)"/>
<rect x="283.51" y="286.81" width="105.49" height="3.33" fill="rgb(164,0,0)"/>
<rect x="0.00" y="290.10" width="23.08" height="3.33" fill="rgb(183,0,0)"/>
<rect x="23.08" y="290.10" width="112.08" height="3.33" fill="rgb(141,0,0)"/>
<rect x="135.16" y="290.10" width="69.23" height="3.33" fill="rgb(153,0,0)"/>
<rect x="204.39" y="290.10" width="79.12" height="3.33" fill="rgb(153,0,0)"/>
<rect x="283.51" y="290.10" width="105.49" height="3.33" fill="rgb(164,0,0)"/>
<rect x="0.00" y="293.40" width="23.08" height="3.33" fill="rgb(107,0,0)"/>
<rect x="23.08" y="293.40" width="112.08" height="3.33" fill="rgb(107,0,0)"/>
<rect x="135.16" y="293.40" width="69.23" height="3.33" fill="rgb(107,0,0)"/>
<rect x="204.39" y="293.40" width="79.12" height="3.33" fill="rgb(107,0,0)"/>
<rect x="283.51" y="293.40" width="105.49" height="3.33" fill="rgb(107,0,0)"/>
<rect x="0.00" y="296.69" width="23.08" height="3.33" fill="rgb(107,0,0)"/>
<rect x="23.08" y="296.69" width="112.08" height="3.33" fill="rgb(107,0,0)"/>
<rect x="135.16" y="296.69" width="69.23" height="3.33" fill="rgb(107,0,0)"/>
<rect x="204.39" y="296.69" width="79.12" height="3.33" fill="rgb(107,0,0)"/>
<rect x="283.51" y="296.69" width="105.49" height="3.33" fill="rgb(107,0,0)"/>
<rect x="0.00" y="299.99" width="23.08" height="3.33" fill="rgb(145,0,0)"/>
<rect x="23.08" y="299.99" width="112.08" height="3.33" fill="rgb(124,0,0)"/>
<rect x="135.16" y="299.99" width="69.23" height="3.33" fill="rgb(130,0,0)"/>
<rect x="204.39" y="299.99" width="79.12" height="3.33" fill="rgb(130,0,0)"/>
<rect x="283.51" y="299.99" width="105.49" height="3.33" fill="rgb(136,0,0)"/>
<rect x="0.00" y="303.29" width="23.08" height="3.33" fill="rgb(145,0,0)"/>
<rect x="23.08" y="303.29" width="112.08" height="3.33" fill="rgb(124,0,0)"/>
<rect x="135.16" y="303.29" width="69.23" height="3.33" fill="rgb(130,0,0)"/>
<rect x="204.39" y="303.29" width="79.12" height="3.33" fill="rgb(130,0,0)"/>
<rect x="283.51" y="303.29" width="105.49" height="3.33" fill="rgb(136,0,0)"/>
<rect x="0.00" y="306.58" width="23.08" height="3.33" fill="rgb(44,0,0)"/>
<rect x="23.08" y="306.58" width="112.08" height="3.33" fill="rgb(79,0,0)"/>
<rect x="135.16" y="306.58" width="69.23" height="3.33" fill="rgb(69,0,0)"/>
<rect x="204.39" y="306.58" width="79.12" height="3.33" fill="rgb(69,0,0)"/>
<rect x="283.51" y="306.58" width="105.49" height="3.33" fill="rgb(60,0,0)"/>
<rect x="0.00" y="309.88" width="23.08" height="3.33" fill="rgb(44,0,0)"/>
<rect x="23.08" y="309.88" width="112.08" height="3.33" fill="rgb(79,0,0)"/>
<rect x="135.16" y="309.88" width="69.23" height="3.33" fill="rgb(69,0,0)"/>
<rect x="204.39" y="309.88" width="79.12" height="3.33" fill="rgb(69,0,0)"/>
<rect x="283.51" y="309.88" width="105.49" height="3.33" fill="rgb(60,0,0)"/>
<rect x="0.00" y="313.18" width="23.08" height="3.33" fill="rgb(126,0,0)"/>
<rect x="23.08" y="313.18" width="112.08" height="3.33" fill="rgb(116,0,0)"/>
<rect x="135.16" y="313.18" width="69.23" height="3.33" fill="rgb(119,0,0)"/>
<rect x="204.39" y="313.18" width="79.12" height="3.33" fill="rgb(119,0,0)"/>
<rect x="283.51" y="313.18" width="105.49" height="3.33" fill="rgb(122,0,0)"/>
<rect x="0.00" y="316.47" width="23.08" height="3.33" fill="rgb(126,0,0)"/>
<rect x="23.08" y="316.47" width="112.08" height="3.33" fill="rgb(116,0,0)"/>
<rect x="135.16" y="316.47" width="69.23" height="3.33" fill="rgb(119,0,0)"/>
<rect x="204.39" y="316.47" width="79.12" height="3.33" fill="rgb(119,0,0)"/>
<rect x="283.51" y="316.47" width="105.49" height="3.33" fill="rgb(122,0,0)"/>
<rect x="0.00" y="319.77" width="23.08" height="3.33" fill="rgb(221,0,0)"/>
<rect x="23.08" y="319.77" width="112.08" height="3.33" fill="rgb(158,0,0)"/>
<rect x="135.16" y="319.77" width="69.23" height="3.33" fill="rgb(175,0,0)"/>
<rect x="204.39" y="319.77" width="79.12" height="3.33" fill="rgb(175,0,0)"/>
<rect x="283.51" y="319.77" width="105.49" height="3.33" fill="rgb(193,0,0)"/>
<rect x="0.00" y="323.07" width="23.08" height="3.33" fill="rgb(76,0,0)"/>
<rect x="23.08" y="323.07" width="112.08" height="3.33" fill="rgb(93,0,0)"/>
<rect x="135.16" y="323.07" width="69.23" height="3.33" fill="rgb(88,0,0)"/>
<rect x="204.39" y="323.07" width="79.12" height="3.33" fill="rgb(88,0,0)"/>
<rect x="283.51" y="323.07" width="105.49" height="3.33" fill="rgb(84,0,0)"/>
<rect x="0.00" y="326.36" width="23.08" height="3.33" fill="rgb(145,0,0)"/>
<rect x="23.08" y="326.36" width="112.08" height="3.33" fill="rgb(124,0,0)"/>
<rect x="135.16" y="326.36" width="69.23" height="3.33" fill="rgb(130,0,0)"/>
<rect x="204.39" y="326.36" width="79.12" height="3.33" fill="rgb(130,0,0)"/>
<rect x="283.51" y="326.36" width="105.49" height="3.33" fill="rgb(136,0,0)"/>
<rect x="0.00" y="329.66" width="23.08" height="3.33" fill="rgb(95,0,0)"/>
<rect x="23.08" y="329.66" width="112.08" height="3.33" fill="rgb(102,0,0)"/>
<rect x="135.16" y="329.66" width="69.23" height="3.33" fill="rgb(100,0,0)"/>
<rect x="204.39" y="329.66" width="79.12" height="3.33" fill="rgb(100,0,0)"/>
<rect x="283.51" y="329.66" width="105.49" height="3.33" fill="rgb(98,0,0)"/>
<rect x="0.00" y="332.96" width="23.08" height="3.33" fill="rgb(107,0,0)"/>
<rect x="23.08" y="332.96" width="112.08" height="3.33" fill="rgb(107,0,0)"/>
<rect x="135.16" y="332.96" width="69.23" height="3.33" fill="rgb(107,0,0)"/>
<rect x="204.39" y="332.96" width="79.12" height="3.33" fill="rgb(107,0,0)"/>
<rect x="283.51" y="332.96" width="105.49" height="3.33" fill="rgb(107,0,0)"/>
<rect x="0.00" y="336.25" width="23.08" height="3.33" fill="rgb(107,0,0)"/>
<rect x="23.08" y="336.25" width="112.08" height="3.33" fill="rgb(107,0,0)"/>
<rect x="135.16" y="336.25" width="69.23" height="3.33" fill="rgb(107,0,0)"/>
<rect x="204.39" y="336.25" width="79.12" height="3.33" fill="rgb(107,0,0)"/>
<rect x="283.51" y="336.25" width="105.49" height="3.33" fill="rgb(107,0,0)"/>
<rect x="0.00" y="339.55" width="23.08" height="3.33" fill="rgb(107,0,0)"/>
<rect x="23.08" y="339.55" width="112.08" height="3.33" fill="rgb(107,0,0)"/>
<rect x="135.16" y="339.55" width="69.23" height="3.33" fill="rgb(107,0,0)"/>
<rect x="204.39" y="339.55" width="79.12" height="3.33" fill="rgb(107,0,0)"/>
<rect x="283.51" y="339.55" width="105.49" height="3.33" fill="rgb(107,0,0)"/>
<rect x="0.00" y="342.85" width="23.08" height="3.33" fill="rgb(107,0,0)"/>
<rect x="23.08" y="342.85" width="112.08" height="3.33" fill="rgb(107,0,0)"/>
<rect x="135.16" y="342.85" width="69.23" height="3.33" fill="rgb(107,0,0)"/>
<rect x="204.39" y="342.85" width="79.12" height="3.33" fill="rgb(107,0,0)"/>
<rect x="283.51" y="342.85" width="105.49" height="3.33" fill="rgb(107,0,0)"/>
<rect x="0.00" y="346.14" width="23.08" height="3.33" fill="rgb(145,0,0)"/>
<rect x="23.08" y="346.14" width="112.08" height="3.33" fill="rgb(124,0,0)"/>
<rect x="135.16" y="346.14" width="69.23" height="3.33" fill="rgb(130,0,0)"/>
<rect x="204.39" y="346.14" width="79.12" height="3.33" fill="rgb(130,0,0)"/>
<rect x="283.51" y="346.14" width="105.49" height="3.33" fill="rgb(136,0,0)"/>
<rect x="0.00" y="349.44" width="23.08" height="3.33" fill="rgb(88,0,0)"/>
<rect x="23.08" y="349.44" width="112.08" height="3.33" fill="rgb(99,0,0)"/>
<rect x="135.16" y="349.44" width="69.23" height="3.33" fill="rgb(96,0,0)"/>
<rect x="204.39" y="349.44" width="79.12" height="3.33" fill="rgb(96,0,0)"/>
<rect x="283.51" y="349.44" width="105.49" height="3.33" fill="rgb(93,0,0)"/>
<rect x="0.00" y="352.74" width="23.08" height="3.33" fill="rgb(88,0,0)"/>
<rect x="23.08" y="352.74" width="112.08" height="3.33" fill="rgb(99,0,0)"/>
<rect x="135.16" y="352.74" width="69.23" height="3.33" fill="rgb(96,0,0)"/>
<rect x="204.39" y="352.74" width="79.12" height="3.33" fill="rgb(96,0,0)"/>
<rect x="283.51" y="352.74" width="105.49" height="3.33" fill="rgb(93,0,0)"/>
<rect x="0.00" y="356.03" width="23.08" height="3.33" fill="rgb(88,0,0)"/>
<rect x="23.08" y="356.03" width="112.08" height="3.33" fill="rgb(99,0,0)"/>
<rect x="135.16" y="356.03" width="69.23" height="3.33" fill="rgb(96,0,0)"/>
<rect x="204.39" y="356.03" width="79.12" height="3.33" fill="rgb(96,0,0)"/>
<rect x="283.51" y="356.03" width="105.49" height="3.33" fill="rgb(93,0,0)"/>
<rect x="0.00" y="359.33" width="23.08" height="3.33" fill="rgb(88,0,0)"/>
<rect x="23.08" y="359.33" width="112.08" height="3.33" fill="rgb(99,0,0)"/>
<rect x="135.16" y="359.33" width="69.23" height="3.33" fill="rgb(96,0,0)"/>
<rect x="204.39" y="359.33" width="79.12" height="3.33" fill="rgb(96,0,0)"/>
<rect x="283.51" y="359.33" width="105.49" height="3.33" fill="rgb(93,0,0)"/>
<rect x="0.00" y="362.63" width="23.08" height="3.33" fill="rgb(13,0,0)"/>
<rect x="23.08" y="362.63" width="112.08" height="3.33" fill="rgb(65,0,0)"/>
<rect x="135.16" y="362.63" width="69.23" height="3.33" fill="rgb(50,0,0)"/>
<rect x="204.39" y="362.63" width="79.12" height="3.33" fill="rgb(50,0,0)"/>
<rect x="283.51" y="362.63" width="105.49" height="3.33" fill="rgb(36,0,0)"/>
<rect x="0.00" y="365.92" width="23.08" height="3.33" fill="rgb(107,0,0)"/>
<rect x="23.08" y="365.92" width="112.08" height="3.33" fill="rgb(107,0,0)"/>
<rect x="135.16" y="365.92" width="69.23" height="3.33" fill="rgb(107,0,0)"/>
<rect x="204.39" y="365.92" width="79.12" height="3.33" fill="rgb(107,0,0)"/>
<rect x="283.51" y="365.92" width="105.49" height="3.33" fill="rgb(107,0,0)"/>
<rect x="0.00" y="369.22" width="23.08" height="3.33" fill="rgb(107,0,0)"/>
<rect x="23.08" y="369.22" width="112.08" height="3.33" fill="rgb(107,0,0)"/>
<rect x="135.16" y="369.22" width="69.23" height="3.33" fill="rgb(107,0,0)"/>
<rect x="204.39" y="369.22" width="79.12" height="3.33" fill="rgb(107,0,0)"/>
<rect x="283.51" y="369.22" width="105.49" height="3.33" fill="rgb(107,0,0)"/>
<rect x="0.00" y="372.52" width="23.08" height="3.33" fill="rgb(76,0,0)"/>
<rect x="23.08" y="372.52" width="112.08" height="3.33" fill="rgb(93,0,0)"/>
<rect x="135.16" y="372.52" width="69.23" height="3.33" fill="rgb(88,0,0)"/>
<rect x="204.39" y="372.52" width="79.12" height="3.33" fill="rgb(88,0,0)"/>
<rect x="283.51" y="372.52" width="105.49" height="3.33" fill="rgb(84,0,0)"/>
<rect x="0.00" y="375.81" width="23.08" height="3.33" fill="rgb(76,0,0)"/>
<rect x="23.08" y="375.81" width="112.08" height="3.33" fill="rgb(93,0,0)"/>
<rect x="135.16" y="375.81" width="69.23" height="3.33" fill="rgb(88,0,0)"/>
<rect x="204.39" y="375.81" width="79.12" height="3.33" fill="rgb(88,0,0)"/>
<rect x="283.51" y="375.81" width="105.49" height="3.33" fill="rgb(84,0,0)"/>
<rect x="0.00" y="379.11" width="23.08" height="3.33" fill="rgb(107,0,0)"/>
<rect x="23.08" y="379.11" width="112.08" height="3.33" fill="rgb(107,0,0)"/>
<rect x="135.16" y="379.11" width="69.23" height="3.33" fill="rgb(107,0,0)"/>
<rect x="204.39" y="379.11" width="79.12" height="3.33" fill="rgb(107,0,0)"/>
<rect x="283.51" y="379.11" width="105.49" height="3.33" fill="rgb(107,0,0)"/>
<rect x="0.00" y="382.41" width="23.08" height="3.33" fill="rgb(221,0,0)"/>
<rect x="23.08" y="382.41" width="112.08" height="3.33" fill="rgb(158,0,0)"/>
<rect x="135.16" y="382.41" width="69.23" height="3.33" fill="rgb(175,0,0)"/>
<rect x="204.39" y="382.41" width="79.12" height="3.33" fill="rgb(175,0,0)"/>
<rect x="283.51" y="382.41" width="105.49" height="3.33" fill="rgb(193,0,0)"/>
<rect x="0.00" y="385.70" width="23.08" height="3.33" fill="rgb(76,0,0)"/>
<rect x="23.08" y="385.70" width="112.08" height="3.33" fill="rgb(93,0,0)"/>
<rect x="135.16" y="385.70" width="69.23" height="3.33" fill="rgb(88,0,0)"/>
<rect x="204.39" y="385.70" width="79.12" height="3.33" fill="rgb(88,0,0)"/>
<rect x="283.51" y="385.70" width="105.49" height="3.33" fill="rgb(84,0,0)"/>
</g><g style="mix-blend-mode:screen">
<rect x="0.00" y="0.00" width="3.33" height="23.08" fill="rgb(0,138,0)"/>
<rect x="0.00" y="23.08" width="3.33" height="112.08" fill="rgb(0,138,0)"/>
<rect x="0.00" y="135.16" width="3.33" height="69.23" fill="rgb(0,153,0)"/>
<rect x="0.00" y="204.39" width="3.33" height="79.12" fill="rgb(0,153,0)"/>
<rect x="0.00" y="283.51" width="3.33" height="105.49" fill="rgb(0,153,0)"/>
<rect x="3.30" y="0.00" width="3.33" height="23.08" fill="rgb(0,130,0)"/>
<rect x="3.30" y="23.08" width="3.33" height="112.08" fill="rgb(0,130,0)"/>
<rect x="3.30" y="135.16" width="3.33" height="69.23" fill="rgb(0,141,0)"/>
<rect x="3.30" y="204.39" width="3.33" height="79.12" fill="rgb(0,141,0)"/>
<rect x="3.30" y="283.51" width="3.33" height="105.49" fill="rgb(0,141,0)"/>
<rect x="6.59" y="0.00" width="3.33" height="23.08" fill="rgb(0,119,0)"/>
<rect x="6.59" y="23.08" width="3.33" height="112.08" fill="rgb(0,119,0)"/>
<rect x="6.59" y="135.16" width="3.33" height="69.23" fill="rgb(0,124,0)"/>
<rect x="6.59" y="204.39" width="3.33" height="79.12" fill="rgb(0,124,0)"/>
<rect x="6.59" y="283.51" width="3.33" height="105.49" fill="rgb(0,124,0)"/>
<rect x="9.89" y="0.00" width="3.33" height="23.08" fill="rgb(0,126,0)"/>
<rect x="9.89" y="23.08" width="3.33" height="112.08" fill="rgb(0,126,0)"/>
<rect x="9.89" y="135.16" width="3.33" height="69.23" fill="rgb(0,136,0)"/>
<rect x="9.89" y="204.39" width="3.33" height="79.12" fill="rgb(0,136,0)"/>
<rect x="9.89" y="283.51" width="3.33" height="105.49" fill="rgb(0,136,0)"/>
<rect x="13.19" y="0.00" width="3.33" height="23.08" fill="rgb(0,107,0)"/>
<rect x="13.19" y="23.08" width="3.33" height="112.08" fill="rgb(0,107,0)"/>
<rect x="13.19" y="135.16" width="3.33" height="69.23" fill="rgb(0,107,0)"/>
<rect x="13.19" y="204.39" width="3.33" height="79.12" fill="rgb(0,107,0)"/>
<rect x="13.19" y="283.51" width="3.33" height="105.49" fill="rgb(0,107,0)"/>
<rect x="16.48" y="0.00" width="3.33" height="23.08" fill="rgb(0,126,0)"/>
<rect x="16.48" y="23.08" width="3.33" height="112.08" fill="rgb(0,126,0)"/>
<rect x="16.48" y="135.16" width="3.33" height="69.23" fill="rgb(0,136,0)"/>
<rect x="16.48" y="204.39" width="3.33" height="79.12" fill="rgb(0,136,0)"/>
<rect x="16.48" y="283.51" width="3.33" height="105.49" fill="rgb(0,136,0)"/>
<rect x="19.78" y="0.00" width="3.33" height="23.08" fill="rgb(0,100,0)"/>
<rect x="19.78" y="23.08" width="3.33" height="112.08" fill="rgb(0,100,0)"/>
<rect x="19.78" y="135.16" width="3.33" height="69.23" fill="rgb(0,96,0)"/>
<rect x="19.78" y="204.39" width="3.33" height="79.12" fill="rgb(0,96,0)"/>
<rect x="19.78" y="283.51" width="3.33" height="105.49" fill="rgb(0,96,0)"/>
<rect x="23.08" y="0.00" width="3.33" height="23.08" fill="rgb(0,206,0)"/>
<rect x="23.08" y="23.08" width="3.33" height="112.08" fill="rgb(0,206,0)"/>
<rect x="23.08" y="135.16" width="3.33" height="69.23" fill="rgb(0,255,0)"/>
<rect x="23.08" y="204.39" width="3.33" height="79.12" fill="rgb(0,255,0)"/>
<rect x="23.08" y="283.51" width="3.33" height="105.49" fill="rgb(0,255,0)"/>
<rect x="26.37" y="0.00" width="3.33" height="23.08" fill="rgb(0,100,0)"/>
<rect x="26.37" y="23.08" width="3.33" height="112.08" fill="rgb(0,100,0)"/>
<rect x="26.37" y="135.16" width="3.33" height="69.23" fill="rgb(0,96,0)"/>
<rect x="26.37" y="204.39" width="3.33" height="79.12" fill="rgb(0,96,0)"/>
<rect x="26.37" y="283.51" width="3.33" height="105.49" fill="rgb(0,96,0)"/>
<rect x="29.67" y="0.00" width="3.33" height="23.08" fill="rgb(0,47,0)"/>
<rect x="29.67" y="23.08" width="3.33" height="112.08" fill="rgb(0,47,0)"/>
<rect x="29.67" y="135.16" width="3.33" height="69.23" fill="rgb(0,16,0)"/>
<rect x="29.67" y="204.39" width="3.33" height="79.12" fill="rgb(0,16,0)"/>
<rect x="29.67" y="283.51" width="3.33" height="105.49" fill="rgb(0,16,0)"/>
<rect x="32.97" y="0.00" width="3.33" height="23.08" fill="rgb(0,122,0)"/>
<rect x="32.97" y="23.08" width="3.33" height="112.08" fill="rgb(0,122,0)"/>
<rect x="32.97" y="135.16" width="3.33" height="69.23" fill="rgb(0,130,0)"/>
<rect x="32.97" y="204.39" width="3.33" height="79.12" fill="rgb(0,130,0)"/>
<rect x="32.97" y="283.51" width="3.33" height="105.49" fill="rgb(0,130,0)"/>
<rect x="36.26" y="0.00" width="3.33" height="23.08" fill="rgb(0,69,0)"/>
<rect x="36.26" y="23.08" width="3.33" height="112.08" fill="rgb(0,69,0)"/>
<rect x="36.26" y="135.16" width="3.33" height="69.23" fill="rgb(0,50,0)"/>
<rect x="36.26" y="204.39" width="3.33" height="79.12" fill="rgb(0,50,0)"/>
<rect x="36.26" y="283.51" width="3.33" height="105.49" fill="rgb(0,50,0)"/>
<rect x="39.56" y="0.00" width="3.33" height="23.08" fill="rgb(0,107,0)"/>
<rect x="39.56" y="23.08" width="3.33" height="112.08" fill="rgb(0,107,0)"/>
<rect x="39.56" y="135.16" width="3.33" height="69.23" fill="rgb(0,107,0)"/>
<rect x="39.56" y="204.39" width="3.33" height="79.12" fill="rgb(0,107,0)"/>
<rect x="39.56" y="283.51" width="3.33" height="105.49" fill="rgb(0,107,0)"/>
<rect x="42.86" y="0.00" width="3.33" height="23.08" fill="rgb(0,107,0)"/>
<rect x="42.86" y="23.08" width="3.33" height="112.08" fill="rgb(0,107,0)"/>
<rect x="42.86" y="135.16" width="3.33" height="69.23" fill="rgb(0,107,0)"/>
<rect x="42.86" y="204.39" width="3.33" height="79.12" fill="rgb(0,107,0)"/>
<rect x="42.86" y="283.51" width="3.33" height="105.49" fill="rgb(0,107,0)"/>
<rect x="46.15" y="0.00" width="3.33" height="23.08" fill="rgb(0,69,0)"/>
<rect x="46.15" y="23.08" width="3.33" height="112.08" fill="rgb(0,69,0)"/>
<rect x="46.15" y="135.16" width="3.33" height="69.23" fill="rgb(0,50,0)"/>
<rect x="46.15" y="204.39" width="3.33" height="79.12" fill="rgb(0,50,0)"/>
<rect x="46.15" y="283.51" width="3.33" height="105.49" fill="rgb(0,50,0)"/>
<rect x="49.45" y="0.00" width="3.33" height="23.08" fill="rgb(0,88,0)"/>
<rect x="49.45" y="23.08" width="3.33" height="112.08" fill="rgb(0,88,0)"/>
<rect x="49.45" y="135.16" width="3.33" height="69.23" fill="rgb(0,79,0)"/>
<rect x="49.45" y="204.39" width="3.33" height="79.12" fill="rgb(0,79,0)"/>
<rect x="49.45" y="283.51" width="3.33" height="105.49" fill="rgb(0,79,0)"/>
<rect x="52.75" y="0.00" width="3.33" height="23.08" fill="rgb(0,175,0)"/>
<rect x="52.75" y="23.08" width="3.33" height="112.08" fill="rgb(0,175,0)"/>
<rect x="52.75" y="135.16" width="3.33" height="69.23" fill="rgb(0,210,0)"/>
<rect x="52.75" y="204.39" width="3.33" height="79.12" fill="rgb(0,210,0)"/>
<rect x="52.75" y="283.51" width="3.33" height="105.49" fill="rgb(0,210,0)"/>
<rect x="56.04" y="0.00" width="3.33" height="23.08" fill="rgb(0,77,0)"/>
<rect x="56.04" y="23.08" width="3.33" height="112.08" fill="rgb(0,77,0)"/>
<rect x="56.04" y="135.16" width="3.33" height="69.23" fill="rgb(0,62,0)"/>
<rect x="56.04" y="204.39" width="3.33" height="79.12" fill="rgb(0,62,0)"/>
<rect x="56.04" y="283.51" width="3.33" height="105.49" fill="rgb(0,62,0)"/>
<rect x="59.34" y="0.00" width="3.33" height="23.08" fill="rgb(0,50,0)"/>
<rect x="59.34" y="23.08" width="3.33" height="112.08" fill="rgb(0,50,0)"/>
<rect x="59.34" y="135.16" width="3.33" height="69.23" fill="rgb(0,22,0)"/>
<rect x="59.34" y="204.39" width="3.33" height="79.12" fill="rgb(0,22,0)"/>
<rect x="59.34" y="283.51" width="3.33" height="105.49" fill="rgb(0,22,0)"/>
<rect x="62.64" y="0.00" width="3.33" height="23.08" fill="rgb(0,50,0)"/>
<rect x="62.64" y="23.08" width="3.33" height="112.08" fill="rgb(0,50,0)"/>
<rect x="62.64" y="135.16" width="3.33" height="69.23" fill="rgb(0,22,0)"/>
<rect x="62.64" y="204.39" width="3.33" height="79.12" fill="rgb(0,22,0)"/>
<rect x="62.64" y="283.51" width="3.33" height="105.49" fill="rgb(0,22,0)"/>
<rect x="65.93" y="0.00" width="3.33" height="23.08" fill="rgb(0,88,0)"/>
<rect x="65.93" y="23.08" width="3.33" height="112.08" fill="rgb(0,88,0)"/>
<rect x="65.93" y="135.16" width="3.33" height="69.23" fill="rgb(0,79,0)"/>
<rect x="65.93" y="204.39" width="3.33" height="79.12" fill="rgb(0,79,0)"/>
<rect x="65.93" y="283.51" width="3.33" height="105.49" fill="rgb(0,79,0)"/>
<rect x="69.23" y="0.00" width="3.33" height="23.08" fill="rgb(0,107,0)"/>
<rect x="69.23" y="23.08" width="3.33" height="112.08" fill="rgb(0,107,0)"/>
<rect x="69.23" y="135.16" width="3.33" height="69.23" fill="rgb(0,107,0)"/>
<rect x="69.23" y="204.39" width="3.33" height="79.12" fill="rgb(0,107,0)"/>
<rect x="69.23" y="283.51" width="3.33" height="105.49" fill="rgb(0,107,0)"/>
<rect x="72.53" y="0.00" width="3.33" height="23.08" fill="rgb(0,115,0)"/>
<rect x="72.53" y="23.08" width="3.33" height="112.08" fill="rgb(0,115,0)"/>
<rect x="72.53" y="135.16" width="3.33" height="69.23" fill="rgb(0,119,0)"/>
<rect x="72.53" y="204.39" width="3.33" height="79.12" fill="rgb(0,119,0)"/>
<rect x="72.53" y="283.51" width="3.33" height="105.49" fill="rgb(0,119,0)"/>
<rect x="75.82" y="0.00" width="3.33" height="23.08" fill="rgb(0,100,0)"/>
<rect x="75.82" y="23.08" width="3.33" height="112.08" fill="rgb(0,100,0)"/>
<rect x="75.82" y="135.16" width="3.33" height="69.23" fill="rgb(0,96,0)"/>
<rect x="75.82" y="204.39" width="3.33" height="79.12" fill="rgb(0,96,0)"/>
<rect x="75.82" y="283.51" width="3.33" height="105.49" fill="rgb(0,96,0)"/>
<rect x="79.12" y="0.00" width="3.33" height="23.08" fill="rgb(0,69,0)"/>
<rect x="79.12" y="23.08" width="3.33" height="112.08" fill="rgb(0,69,0)"/>
<rect x="79.12" y="135.16" width="3.33" height="69.23" fill="rgb(0,50,0)"/>
<rect x="79.12" y="204.39" width="3.33" height="79.12" fill="rgb(0,50,0)"/>
<rect x="79.12" y="283.51" width="3.33" height="105.49" fill="rgb(0,50,0)"/>
<rect x="82.42" y="0.00" width="3.33" height="23.08" fill="rgb(0,62,0)"/>
<rect x="82.42" y="23.08" width="3.33" height="112.08" fill="rgb(0,62,0)"/>
<rect x="82.42" y="135.16" width="3.33" height="69.23" fill="rgb(0,39,0)"/>
<rect x="82.42" y="204.39" width="3.33" height="79.12" fill="rgb(0,39,0)"/>
<rect x="82.42" y="283.51" width="3.33" height="105.49" fill="rgb(0,39,0)"/>
<rect x="85.71" y="0.00" width="3.33" height="23.08" fill="rgb(0,100,0)"/>
<rect x="85.71" y="23.08" width="3.33" height="112.08" fill="rgb(0,100,0)"/>
<rect x="85.71" y="135.16" width="3.33" height="69.23" fill="rgb(0,96,0)"/>
<rect x="85.71" y="204.39" width="3.33" height="79.12" fill="rgb(0,96,0)"/>
<rect x="85.71" y="283.51" width="3.33" height="105.49" fill="rgb(0,96,0)"/>
<rect x="89.01" y="0.00" width="3.33" height="23.08" fill="rgb(0,107,0)"/>
<rect x="89.01" y="23.08" width="3.33" height="112.08" fill="rgb(0,107,0)"/>
<rect x="89.01" y="135.16" width="3.33" height="69.23" fill="rgb(0,107,0)"/>
<rect x="89.01" y="204.39" width="3.33" height="79.12" fill="rgb(0,107,0)"/>
<rect x="89.01" y="283.51" width="3.33" height="105.49" fill="rgb(0,107,0)"/>
<rect x="92.31" y="0.00" width="3.33" height="23.08" fill="rgb(0,115,0)"/>
<rect x="92.31" y="23.08" width="3.33" height="112.08" fill="rgb(0,115,0)"/>
<rect x="92.31" y="135.16" width="3.33" height="69.23" fill="rgb(0,119,0)"/>
<rect x="92.31" y="204.39" width="3.33" height="79.12" fill="rgb(0,119,0)"/>
<rect x="92.31" y="283.51" width="3.33" height="105.49" fill="rgb(0,119,0)"/>
<rect x="95.60" y="0.00" width="3.33" height="23.08" fill="rgb(0,107,0)"/>
<rect x="95.60" y="23.08" width="3.33" height="112.08" fill="rgb(0,107,0)"/>
<rect x="95.60" y="135.16" width="3.33" height="69.23" fill="rgb(0,107,0)"/>
<rect x="95.60" y="204.39" width="3.33" height="79.12" fill="rgb(0,107,0)"/>
<rect x="95.60" y="283.51" width="3.33" height="105.49" fill="rgb(0,107,0)"/>
<rect x="98.90" y="0.00" width="3.33" height="23.08" fill="rgb(0,100,0)"/>
<rect x="98.90" y="23.08" width="3.33" height="112.08" fill="rgb(0,100,0)"/>
<rect x="98.90" y="135.16" width="3.33" height="69.23" fill="rgb(0,96,0)"/>
<rect x="98.90" y="204.39" width="3.33" height="79.12" fill="rgb(0,96,0)"/>
<rect x="98.90" y="283.51" width="3.33" height="105.49" fill="rgb(0,96,0)"/>
<rect x="102.19" y="0.00" width="3.33" height="23.08" fill="rgb(0,50,0)"/>
<rect x="102.19" y="23.08" width="3.33" height="112.08" fill="rgb(0,50,0)"/>
<rect x="102.19" y="135.16" width="3.33" height="69.23" fill="rgb(0,22,0)"/>
<rect x="102.19" y="204.39" width="3.33" height="79.12" fill="rgb(0,22,0)"/>
<rect x="102.19" y="283.51" width="3.33" height="105.49" fill="rgb(0,22,0)"/>
<rect x="105.49" y="0.00" width="3.33" height="23.08" fill="rgb(0,77,0)"/>
<rect x="105.49" y="23.08" width="3.33" height="112.08" fill="rgb(0,77,0)"/>
<rect x="105.49" y="135.16" width="3.33" height="69.23" fill="rgb(0,62,0)"/>
<rect x="105.49" y="204.39" width="3.33" height="79.12" fill="rgb(0,62,0)"/>
<rect x="105.49" y="283.51" width="3.33" height="105.49" fill="rgb(0,62,0)"/>
<rect x="108.79" y="0.00" width="3.33" height="23.08" fill="rgb(0,96,0)"/>
<rect x="108.79" y="23.08" width="3.33" height="112.08" fill="rgb(0,96,0)"/>
<rect x="108.79" y="135.16" width="3.33" height="69.23" fill="rgb(0,90,0)"/>
<rect x="108.79" y="204.39" width="3.33" height="79.12" fill="rgb(0,90,0)"/>
<rect x="108.79" y="283.51" width="3.33" height="105.49" fill="rgb(0,90,0)"/>
<rect x="112.08" y="0.00" width="3.33" height="23.08" fill="rgb(0,96,0)"/>
<rect x="112.08" y="23.08" width="3.33" height="112.08" fill="rgb(0,96,0)"/>
<rect x="112.08" y="135.16" width="3.33" height="69.23" fill="rgb(0,90,0)"/>
<rect x="112.08" y="204.39" width="3.33" height="79.12" fill="rgb(0,90,0)"/>
<rect x="112.08" y="283.51" width="3.33" height="105.49" fill="rgb(0,90,0)"/>
<rect x="115.38" y="0.00" width="3.33" height="23.08" fill="rgb(0,77,0)"/>
<rect x="115.38" y="23.08" width="3.33" height="112.08" fill="rgb(0,77,0)"/>
<rect x="115.38" y="135.16" width="3.33" height="69.23" fill="rgb(0,62,0)"/>
<rect x="115.38" y="204.39" width="3.33" height="79.12" fill="rgb(0,62,0)"/>
<rect x="115.38" y="283.51" width="3.33" height="105.49" fill="rgb(0,62,0)"/>
<rect x="118.68" y="0.00" width="3.33" height="23.08" fill="rgb(0,96,0)"/>
<rect x="118.68" y="23.08" width="3.33" height="112.08" fill="rgb(0,96,0)"/>
<rect x="118.68" y="135.16" width="3.33" height="69.23" fill="rgb(0,90,0)"/>
<rect x="118.68" y="204.39" width="3.33" height="79.12" fill="rgb(0,90,0)"/>
<rect x="118.68" y="283.51" width="3.33" height="105.49" fill="rgb(0,90,0)"/>
<rect x="121.97" y="0.00" width="3.33" height="23.08" fill="rgb(0,96,0)"/>
<rect x="121.97" y="23.08" width="3.33" height="112.08" fill="rgb(0,96,0)"/>
<rect x="121.97" y="135.16" width="3.33" height="69.23" fill="rgb(0,90,0)"/>
<rect x="121.97" y="204.39" width="3.33" height="79.12" fill="rgb(0,90,0)"/>
<rect x="121.97" y="283.51" width="3.33" height="105.49" fill="rgb(0,90,0)"/>
<rect x="125.27" y="0.00" width="3.33" height="23.08" fill="rgb(0,69,0)"/>
<rect x="125.27" y="23.08" width="3.33" height="112.08" fill="rgb(0,69,0)"/>
<rect x="125.27" y="135.16" width="3.33" height="69.23" fill="rgb(0,50,0)"/>
<rect x="125.27" y="204.39" width="3.33" height="79.12" fill="rgb(0,50,0)"/>
<rect x="125.27" y="283.51" width="3.33" height="105.49" fill="rgb(0,50,0)"/>
<rect x="128.57" y="0.00" width="3.33" height="23.08" fill="rgb(0,43,0)"/>
<rect x="128.57" y="23.08" width="3.33" height="112.08" fill="rgb(0,43,0)"/>
<rect x="128.57" y="135.16" width="3.33" height="69.23" fill="rgb(0,11,0)"/>
<rect x="128.57" y="204.39" width="3.33" height="79.12" fill="rgb(0,11,0)"/>
<rect x="128.57" y="283.51" width="3.33" height="105.49" fill="rgb(0,11,0)"/>
<rect x="131.86" y="0.00" width="3.33" height="23.08" fill="rgb(0,47,0)"/>
<rect x="131.86" y="23.08" width="3.33" height="112.08" fill="rgb(0,47,0)"/>
<rect x="131.86" y="135.16" width="3.33" height="69.23" fill="rgb(0,16,0)"/>
<rect x="131.86" y="204.39" width="3.33" height="79.12" fill="rgb(0,16,0)"/>
<rect x="131.86" y="283.51" width="3.33" height="105.49" fill="rgb(0,16,0)"/>
<rect x="135.16" y="0.00" width="3.33" height="23.08" fill="rgb(0,183,0)"/>
<rect x="135.16" y="23.08" width="3.33" height="112.08" fill="rgb(0,141,0)"/>
<rect x="135.16" y="135.16" width="3.33" height="69.23" fill="rgb(0,175,0)"/>
<rect x="135.16" y="204.39" width="3.33" height="79.12" fill="rgb(0,175,0)"/>
<rect x="135.16" y="283.51" width="3.33" height="105.49" fill="rgb(0,153,0)"/>
<rect x="138.46" y="0.00" width="3.33" height="23.08" fill="rgb(0,183,0)"/>
<rect x="138.46" y="23.08" width="3.33" height="112.08" fill="rgb(0,141,0)"/>
<rect x="138.46" y="135.16" width="3.33" height="69.23" fill="rgb(0,175,0)"/>
<rect x="138.46" y="204.39" width="3.33" height="79.12" fill="rgb(0,175,0)"/>
<rect x="138.46" y="283.51" width="3.33" height="105.49" fill="rgb(0,153,0)"/>
<rect x="141.75" y="0.00" width="3.33" height="23.08" fill="rgb(0,170,0)"/>
<rect x="141.75" y="23.08" width="3.33" height="112.08" fill="rgb(0,136,0)"/>
<rect x="141.75" y="135.16" width="3.33" height="69.23" fill="rgb(0,164,0)"/>
<rect x="141.75" y="204.39" width="3.33" height="79.12" fill="rgb(0,164,0)"/>
<rect x="141.75" y="283.51" width="3.33" height="105.49" fill="rgb(0,145,0)"/>
<rect x="145.05" y="0.00" width="3.33" height="23.08" fill="rgb(0,202,0)"/>
<rect x="145.05" y="23.08" width="3.33" height="112.08" fill="rgb(0,150,0)"/>
<rect x="145.05" y="135.16" width="3.33" height="69.23" fill="rgb(0,193,0)"/>
<rect x="145.05" y="204.39" width="3.33" height="79.12" fill="rgb(0,193,0)"/>
<rect x="145.05" y="283.51" width="3.33" height="105.49" fill="rgb(0,164,0)"/>
<rect x="148.35" y="0.00" width="3.33" height="23.08" fill="rgb(0,246,0)"/>
<rect x="148.35" y="23.08" width="3.33" height="112.08" fill="rgb(0,170,0)"/>
<rect x="148.35" y="135.16" width="3.33" height="69.23" fill="rgb(0,232,0)"/>
<rect x="148.35" y="204.39" width="3.33" height="79.12" fill="rgb(0,232,0)"/>
<rect x="148.35" y="283.51" width="3.33" height="105.49" fill="rgb(0,191,0)"/>
<rect x="151.64" y="0.00" width="3.33" height="23.08" fill="rgb(0,69,0)"/>
<rect x="151.64" y="23.08" width="3.33" height="112.08" fill="rgb(0,90,0)"/>
<rect x="151.64" y="135.16" width="3.33" height="69.23" fill="rgb(0,73,0)"/>
<rect x="151.64" y="204.39" width="3.33" height="79.12" fill="rgb(0,73,0)"/>
<rect x="151.64" y="283.51" width="3.33" height="105.49" fill="rgb(0,85,0)"/>
<rect x="154.94" y="0.00" width="3.33" height="23.08" fill="rgb(0,183,0)"/>
<rect x="154.94" y="23.08" width="3.33" height="112.08" fill="rgb(0,141,0)"/>
<rect x="154.94" y="135.16" width="3.33" height="69.23" fill="rgb(0,175,0)"/>
<rect x="154.94" y="204.39" width="3.33" height="79.12" fill="rgb(0,175,0)"/>
<rect x="154.94" y="283.51" width="3.33" height="105.49" fill="rgb(0,153,0)"/>
<rect x="158.24" y="0.00" width="3.33" height="23.08" fill="rgb(0,158,0)"/>
<rect x="158.24" y="23.08" width="3.33" height="112.08" fill="rgb(0,130,0)"/>
<rect x="158.24" y="135.16" width="3.33" height="69.23" fill="rgb(0,153,0)"/>
<rect x="158.24" y="204.39" width="3.33" height="79.12" fill="rgb(0,153,0)"/>
<rect x="158.24" y="283.51" width="3.33" height="105.49" fill="rgb(0,138,0)"/>
<rect x="161.53" y="0.00" width="3.33" height="23.08" fill="rgb(0,88,0)"/>
<rect x="161.53" y="23.08" width="3.33" height="112.08" fill="rgb(0,99,0)"/>
<rect x="161.53" y="135.16" width="3.33" height="69.23" fill="rgb(0,90,0)"/>
<rect x="161.53" y="204.39" width="3.33" height="79.12" fill="rgb(0,90,0)"/>
<rect x="161.53" y="283.51" width="3.33" height="105.49" fill="rgb(0,96,0)"/>
<rect x="164.83" y="0.00" width="3.33" height="23.08" fill="rgb(0,158,0)"/>
<rect x="164.83" y="23.08" width="3.33" height="112.08" fill="rgb(0,130,0)"/>
<rect x="164.83" y="135.16" width="3.33" height="69.23" fill="rgb(0,153,0)"/>
<rect x="164.83" y="204.39" width="3.33" height="79.12" fill="rgb(0,153,0)"/>
<rect x="164.83" y="283.51" width="3.33" height="105.49" fill="rgb(0,138,0)"/>
<rect x="168.13" y="0.00" width="3.33" height="23.08" fill="rgb(0,170,0)"/>
<rect x="168.13" y="23.08" width="3.33" height="112.08" fill="rgb(0,136,0)"/>
<rect x="168.13" y="135.16" width="3.33" height="69.23" fill="rgb(0,164,0)"/>
<rect x="168.13" y="204.39" width="3.33" height="79.12" fill="rgb(0,164,0)"/>
<rect x="168.13" y="283.51" width="3.33" height="105.49" fill="rgb(0,145,0)"/>
<rect x="171.42" y="0.00" width="3.33" height="23.08" fill="rgb(0,139,0)"/>
<rect x="171.42" y="23.08" width="3.33" height="112.08" fill="rgb(0,122,0)"/>
<rect x="171.42" y="135.16" width="3.33" height="69.23" fill="rgb(0,136,0)"/>
<rect x="171.42" y="204.39" width="3.33" height="79.12" fill="rgb(0,136,0)"/>
<rect x="171.42" y="283.51" width="3.33" height="105.49" fill="rgb(0,126,0)"/>
<rect x="174.72" y="0.00" width="3.33" height="23.08" fill="rgb(0,32,0)"/>
<rect x="174.72" y="23.08" width="3.33" height="112.08" fill="rgb(0,73,0)"/>
<rect x="174.72" y="135.16" width="3.33" height="69.23" fill="rgb(0,39,0)"/>
<rect x="174.72" y="204.39" width="3.33" height="79.12" fill="rgb(0,39,0)"/>
<rect x="174.72" y="283.51" width="3.33" height="105.49" fill="rgb(0,62,0)"/>
<rect x="178.02" y="0.00" width="3.33" height="23.08" fill="rgb(0,32,0)"/>
<rect x="178.02" y="23.08" width="3.33" height="112.08" fill="rgb(0,73,0)"/>
<rect x="178.02" y="135.16" width="3.33" height="69.23" fill="rgb(0,39,0)"/>
<rect x="178.02" y="204.39" width="3.33" height="79.12" fill="rgb(0,39,0)"/>
<rect x="178.02" y="283.51" width="3.33" height="105.49" fill="rgb(0,62,0)"/>
<rect x="181.31" y="0.00" width="3.33" height="23.08" fill="rgb(0,183,0)"/>
<rect x="181.31" y="23.08" width="3.33" height="112.08" fill="rgb(0,141,0)"/>
<rect x="181.31" y="135.16" width="3.33" height="69.23" fill="rgb(0,175,0)"/>
<rect x="181.31" y="204.39" width="3.33" height="79.12" fill="rgb(0,175,0)"/>
<rect x="181.31" y="283.51" width="3.33" height="105.49" fill="rgb(0,153,0)"/>
<rect x="184.61" y="0.00" width="3.33" height="23.08" fill="rgb(0,202,0)"/>
<rect x="184.61" y="23.08" width="3.33" height="112.08" fill="rgb(0,150,0)"/>
<rect x="184.61" y="135.16" width="3.33" height="69.23" fill="rgb(0,193,0)"/>
<rect x="184.61" y="204.39" width="3.33" height="79.12" fill="rgb(0,193,0)"/>
<rect x="184.61" y="283.51" width="3.33" height="105.49" fill="rgb(0,164,0)"/>
<rect x="187.91" y="0.00" width="3.33" height="23.08" fill="rgb(0,170,0)"/>
<rect x="187.91" y="23.08" width="3.33" height="112.08" fill="rgb(0,136,0)"/>
<rect x="187.91" y="135.16" width="3.33" height="69.23" fill="rgb(0,164,0)"/>
<rect x="187.91" y="204.39" width="3.33" height="79.12" fill="rgb(0,164,0)"/>
<rect x="187.91" y="283.51" width="3.33" height="105.49" fill="rgb(0,145,0)"/>
<rect x="191.20" y="0.00" width="3.33" height="23.08" fill="rgb(0,215,0)"/>
<rect x="191.20" y="23.08" width="3.33" height="112.08" fill="rgb(0,156,0)"/>
<rect x="191.20" y="135.16" width="3.33" height="69.23" fill="rgb(0,204,0)"/>
<rect x="191.20" y="204.39" width="3.33" height="79.12" fill="rgb(0,204,0)"/>
<rect x="191.20" y="283.51" width="3.33" height="105.49" fill="rgb(0,172,0)"/>
<rect x="194.50" y="0.00" width="3.33" height="23.08" fill="rgb(0,158,0)"/>
<rect x="194.50" y="23.08" width="3.33" height="112.08" fill="rgb(0,130,0)"/>
<rect x="194.50" y="135.16" width="3.33" height="69.23" fill="rgb(0,153,0)"/>
<rect x="194.50" y="204.39" width="3.33" height="79.12" fill="rgb(0,153,0)"/>
<rect x="194.50" y="283.51" width="3.33" height="105.49" fill="rgb(0,138,0)"/>
<rect x="197.80" y="0.00" width="3.33" height="23.08" fill="rgb(0,215,0)"/>
<rect x="197.80" y="23.08" width="3.33" height="112.08" fill="rgb(0,156,0)"/>
<rect x="197.80" y="135.16" width="3.33" height="69.23" fill="rgb(0,204,0)"/>
<rect x="197.80" y="204.39" width="3.33" height="79.12" fill="rgb(0,204,0)"/>
<rect x="197.80" y="283.51" width="3.33" height="105.49" fill="rgb(0,172,0)"/>
<rect x="201.09" y="0.00" width="3.33" height="23.08" fill="rgb(0,234,0)"/>
<rect x="201.09" y="23.08" width="3.33" height="112.08" fill="rgb(0,164,0)"/>
<rect x="201.09" y="135.16" width="3.33" height="69.23" fill="rgb(0,221,0)"/>
<rect x="201.09" y="204.39" width="3.33" height="79.12" fill="rgb(0,221,0)"/>
<rect x="201.09" y="283.51" width="3.33" height="105.49" fill="rgb(0,183,0)"/>
<rect x="204.39" y="0.00" width="3.33" height="23.08" fill="rgb(0,57,0)"/>
<rect x="204.39" y="23.08" width="3.33" height="112.08" fill="rgb(0,85,0)"/>
<rect x="204.39" y="135.16" width="3.33" height="69.23" fill="rgb(0,62,0)"/>
<rect x="204.39" y="204.39" width="3.33" height="79.12" fill="rgb(0,62,0)"/>
<rect x="204.39" y="283.51" width="3.33" height="105.49" fill="rgb(0,77,0)"/>
<rect x="207.69" y="0.00" width="3.33" height="23.08" fill="rgb(0,95,0)"/>
<rect x="207.69" y="23.08" width="3.33" height="112.08" fill="rgb(0,102,0)"/>
<rect x="207.69" y="135.16" width="3.33" height="69.23" fill="rgb(0,96,0)"/>
<rect x="207.69" y="204.39" width="3.33" height="79.12" fill="rgb(0,96,0)"/>
<rect x="207.69" y="283.51" width="3.33" height="105.49" fill="rgb(0,100,0)"/>
<rect x="210.98" y="0.00" width="3.33" height="23.08" fill="rgb(0,145,0)"/>
<rect x="210.98" y="23.08" width="3.33" height="112.08" fill="rgb(0,124,0)"/>
<rect x="210.98" y="135.16" width="3.33" height="69.23" fill="rgb(0,141,0)"/>
<rect x="210.98" y="204.39" width="3.33" height="79.12" fill="rgb(0,141,0)"/>
<rect x="210.98" y="283.51" width="3.33" height="105.49" fill="rgb(0,130,0)"/>
<rect x="214.28" y="0.00" width="3.33" height="23.08" fill="rgb(0,107,0)"/>
<rect x="214.28" y="23.08" width="3.33" height="112.08" fill="rgb(0,107,0)"/>
<rect x="214.28" y="135.16" width="3.33" height="69.23" fill="rgb(0,107,0)"/>
<rect x="214.28" y="204.39" width="3.33" height="79.12" fill="rgb(0,107,0)"/>
<rect x="214.28" y="283.51" width="3.33" height="105.49" fill="rgb(0,107,0)"/>
<rect x="217.58" y="0.00" width="3.33" height="23.08" fill="rgb(0,120,0)"/>
<rect x="217.58" y="23.08" width="3.33" height="112.08" fill="rgb(0,113,0)"/>
<rect x="217.58" y="135.16" width="3.33" height="69.23" fill="rgb(0,119,0)"/>
<rect x="217.58" y="204.39" width="3.33" height="79.12" fill="rgb(0,119,0)"/>
<rect x="217.58" y="283.51" width="3.33" height="105.49" fill="rgb(0,115,0)"/>
<rect x="220.87" y="0.00" width="3.33" height="23.08" fill="rgb(0,145,0)"/>
<rect x="220.87" y="23.08" width="3.33" height="112.08" fill="rgb(0,124,0)"/>
<rect x="220.87" y="135.16" width="3.33" height="69.23" fill="rgb(0,141,0)"/>
<rect x="220.87" y="204.39" width="3.33" height="79.12" fill="rgb(0,141,0)"/>
<rect x="220.87" y="283.51" width="3.33" height="105.49" fill="rgb(0,130,0)"/>
<rect x="224.17" y="0.00" width="3.33" height="23.08" fill="rgb(0,145,0)"/>
<rect x="224.17" y="23.08" width="3.33" height="112.08" fill="rgb(0,124,0)"/>
<rect x="224.17" y="135.16" width="3.33" height="69.23" fill="rgb(0,141,0)"/>
<rect x="224.17" y="204.39" width="3.33" height="79.12" fill="rgb(0,141,0)"/>
<rect x="224.17" y="283.51" width="3.33" height="105.49" fill="rgb(0,130,0)"/>
<rect x="227.47" y="0.00" width="3.33" height="23.08" fill="rgb(0,145,0)"/>
<rect x="227.47" y="23.08" width="3.33" height="112.08" fill="rgb(0,124,0)"/>
<rect x="227.47" y="135.16" width="3.33" height="69.23" fill="rgb(0,141,0)"/>
<rect x="227.47" y="204.39" width="3.33" height="79.12" fill="rgb(0,141,0)"/>
<rect x="227.47" y="283.51" width="3.33" height="105.49" fill="rgb(0,130,0)"/>
<rect x="230.76" y="0.00" width="3.33" height="23.08" fill="rgb(0,183,0)"/>
<rect x="230.76" y="23.08" width="3.33" height="112.08" fill="rgb(0,141,0)"/>
<rect x="230.76" y="135.16" width="3.33" height="69.23" fill="rgb(0,175,0)"/>
<rect x="230.76" y="204.39" width="3.33" height="79.12" fill="rgb(0,175,0)"/>
<rect x="230.76" y="283.51" width="3.33" height="105.49" fill="rgb(0,153,0)"/>
<rect x="234.06" y="0.00" width="3.33" height="23.08" fill="rgb(0,76,0)"/>
<rect x="234.06" y="23.08" width="3.33" height="112.08" fill="rgb(0,93,0)"/>
<rect x="234.06" y="135.16" width="3.33" height="69.23" fill="rgb(0,79,0)"/>
<rect x="234.06" y="204.39" width="3.33" height="79.12" fill="rgb(0,79,0)"/>
<rect x="234.06" y="283.51" width="3.33" height="105.49" fill="rgb(0,88,0)"/>
<rect x="237.36" y="0.00" width="3.33" height="23.08" fill="rgb(0,0,0)"/>
<rect x="237.36" y="23.08" width="3.33" height="112.08" fill="rgb(0,59,0)"/>
<rect x="237.36" y="135.16" width="3.33" height="69.23" fill="rgb(0,11,0)"/>
<rect x="237.36" y="204.39" width="3.33" height="79.12" fill="rgb(0,11,0)"/>
<rect x="237.36" y="283.51" width="3.33" height="105.49" fill="rgb(0,43,0)"/>
<rect x="240.65" y="0.00" width="3.33" height="23.08" fill="rgb(0,107,0)"/>
<rect x="240.65" y="23.08" width="3.33" height="112.08" fill="rgb(0,107,0)"/>
<rect x="240.65" y="135.16" width="3.33" height="69.23" fill="rgb(0,107,0)"/>
<rect x="240.65" y="204.39" width="3.33" height="79.12" fill="rgb(0,107,0)"/>
<rect x="240.65" y="283.51" width="3.33" height="105.49" fill="rgb(0,107,0)"/>
<rect x="243.95" y="0.00" width="3.33" height="23.08" fill="rgb(0,95,0)"/>
<rect x="243.95" y="23.08" width="3.33" height="112.08" fill="rgb(0,102,0)"/>
<rect x="243.95" y="135.16" width="3.33" height="69.23" fill="rgb(0,96,0)"/>
<rect x="243.95" y="204.39" width="3.33" height="79.12" fill="rgb(0,96,0)"/>
<rect x="243.95" y="283.51" width="3.33" height="105.49" fill="rgb(0,100,0)"/>
<rect x="247.25" y="0.00" width="3.33" height="23.08" fill="rgb(0,126,0)"/>
<rect x="247.25" y="23.08" width="3.33" height="112.08" fill="rgb(0,116,0)"/>
<rect x="247.25" y="135.16" width="3.33" height="69.23" fill="rgb(0,124,0)"/>
<rect x="247.25" y="204.39" width="3.33" height="79.12" fill="rgb(0,124,0)"/>
<rect x="247.25" y="283.51" width="3.33" height="105.49" fill="rgb(0,119,0)"/>
<rect x="250.54" y="0.00" width="3.33" height="23.08" fill="rgb(0,95,0)"/>
<rect x="250.54" y="23.08" width="3.33" height="112.08" fill="rgb(0,102,0)"/>
<rect x="250.54" y="135.16" width="3.33" height="69.23" fill="rgb(0,96,0)"/>
<rect x="250.54" y="204.39" width="3.33" height="79.12" fill="rgb(0,96,0)"/>
<rect x="250.54" y="283.51" width="3.33" height="105.49" fill="rgb(0,100,0)"/>
<rect x="253.84" y="0.00" width="3.33" height="23.08" fill="rgb(0,107,0)"/>
<rect x="253.84" y="23.08" width="3.33" height="112.08" fill="rgb(0,107,0)"/>
<rect x="253.84" y="135.16" width="3.33" height="69.23" fill="rgb(0,107,0)"/>
<rect x="253.84" y="204.39" width="3.33" height="79.12" fill="rgb(0,107,0)"/>
<rect x="253.84" y="283.51" width="3.33" height="105.49" fill="rgb(0,107,0)"/>
<rect x="257.14" y="0.00" width="3.33" height="23.08" fill="rgb(0,170,0)"/>
<rect x="257.14" y="23.08" width="3.33" height="112.08" fill="rgb(0,136,0)"/>
<rect x="257.14" y="135.16" width="3.33" height="69.23" fill="rgb(0,164,0)"/>
<rect x="257.14" y="204.39" width="3.33" height="79.12" fill="rgb(0,164,0)"/>
<rect x="257.14" y="283.51" width="3.33" height="105.49" fill="rgb(0,145,0)"/>
<rect x="260.43" y="0.00" width="3.33" height="23.08" fill="rgb(0,32,0)"/>
<rect x="260.43" y="23.08" width="3.33" height="112.08" fill="rgb(0,73,0)"/>
<rect x="260.43" y="135.16" width="3.33" height="69.23" fill="rgb(0,39,0)"/>
<rect x="260.43" y="204.39" width="3.33" height="79.12" fill="rgb(0,39,0)"/>
<rect x="260.43" y="283.51" width="3.33" height="105.49" fill="rgb(0,62,0)"/>
<rect x="263.73" y="0.00" width="3.33" height="23.08" fill="rgb(0,88,0)"/>
<rect x="263.73" y="23.08" width="3.33" height="112.08" fill="rgb(0,99,0)"/>
<rect x="263.73" y="135.16" width="3.33" height="69.23" fill="rgb(0,90,0)"/>
<rect x="263.73" y="204.39" width="3.33" height="79.12" fill="rgb(0,90,0)"/>
<rect x="263.73" y="283.51" width="3.33" height="105.49" fill="rgb(0,96,0)"/>
<rect x="267.03" y="0.00" width="3.33" height="23.08" fill="rgb(0,107,0)"/>
<rect x="267.03" y="23.08" width="3.33" height="112.08" fill="rgb(0,107,0)"/>
<rect x="267.03" y="135.16" width="3.33" height="69.23" fill="rgb(0,107,0)"/>
<rect x="267.03" y="204.39" width="3.33" height="79.12" fill="rgb(0,107,0)"/>
<rect x="267.03" y="283.51" width="3.33" height="105.49" fill="rgb(0,107,0)"/>
<rect x="270.32" y="0.00" width="3.33" height="23.08" fill="rgb(0,88,0)"/>
<rect x="270.32" y="23.08" width="3.33" height="112.08" fill="rgb(0,99,0)"/>
<rect x="270.32" y="135.16" width="3.33" height="69.23" fill="rgb(0,90,0)"/>
<rect x="270.32" y="204.39" width="3.33" height="79.12" fill="rgb(0,90,0)"/>
<rect x="270.32" y="283.51" width="3.33" height="105.49" fill="rgb(0,96,0)"/>
<rect x="273.62" y="0.00" width="3.33" height="23.08" fill="rgb(0,69,0)"/>
<rect x="273.62" y="23.08" width="3.33" height="112.08" fill="rgb(0,90,0)"/>
<rect x="273.62" y="135.16" width="3.33" height="69.23" fill="rgb(0,73,0)"/>
<rect x="273.62" y="204.39" width="3.33" height="79.12" fill="rgb(0,73,0)"/>
<rect x="273.62" y="283.51" width="3.33" height="105.49" fill="rgb(0,85,0)"/>
<rect x="276.92" y="0.00" width="3.33" height="23.08" fill="rgb(0,76,0)"/>
<rect x="276.92" y="23.08" width="3.33" height="112.08" fill="rgb(0,93,0)"/>
<rect x="276.92" y="135.16" width="3.33" height="69.23" fill="rgb(0,79,0)"/>
<rect x="276.92" y="204.39" width="3.33" height="79.12" fill="rgb(0,79,0)"/>
<rect x="276.92" y="283.51" width="3.33" height="105.49" fill="rgb(0,88,0)"/>
<rect x="280.21" y="0.00" width="3.33" height="23.08" fill="rgb(0,139,0)"/>
<rect x="280.21" y="23.08" width="3.33" height="112.08" fill="rgb(0,122,0)"/>
<rect x="280.21" y="135.16" width="3.33" height="69.23" fill="rgb(0,136,0)"/>
<rect x="280.21" y="204.39" width="3.33" height="79.12" fill="rgb(0,136,0)"/>
<rect x="280.21" y="283.51" width="3.33" height="105.49" fill="rgb(0,126,0)"/>
<rect x="283.51" y="0.00" width="3.33" height="23.08" fill="rgb(0,95,0)"/>
<rect x="283.51" y="23.08" width="3.33" height="112.08" fill="rgb(0,102,0)"/>
<rect x="283.51" y="135.16" width="3.33" height="69.23" fill="rgb(0,100,0)"/>
<rect x="283.51" y="204.39" width="3.33" height="79.12" fill="rgb(0,100,0)"/>
<rect x="283.51" y="283.51" width="3.33" height="105.49" fill="rgb(0,98,0)"/>
<rect x="286.81" y="0.00" width="3.33" height="23.08" fill="rgb(0,183,0)"/>
<rect x="286.81" y="23.08" width="3.33" height="112.08" fill="rgb(0,141,0)"/>
<rect x="286.81" y="135.16" width="3.33" height="69.23" fill="rgb(0,153,0)"/>
<rect x="286.81" y="204.39" width="3.33" height="79.12" fill="rgb(0,153,0)"/>
<rect x="286.81" y="283.51" width="3.33" height="105.49" fill="rgb(0,164,0)"/>
<rect x="290.10" y="0.00" width="3.33" height="23.08" fill="rgb(0,183,0)"/>
<rect x="290.10" y="23.08" width="3.33" height="112.08" fill="rgb(0,141,0)"/>
<rect x="290.10" y="135.16" width="3.33" height="69.23" fill="rgb(0,153,0)"/>
<rect x="290.10" y="204.39" width="3.33" height="79.12" fill="rgb(0,153,0)"/>
<rect x="290.10" y="283.51" width="3.33" height="105.49" fill="rgb(0,164,0)"/>
<rect x="293.40" y="0.00" width="3.33" height="23.08" fill="rgb(0,107,0)"/>
<rect x="293.40" y="23.08" width="3.33" height="112.08" fill="rgb(0,107,0)"/>
<rect x="293.40" y="135.16" width="3.33" height="69.23" fill="rgb(0,107,0)"/>
<rect x="293.40" y="204.39" width="3.33" height="79.12" fill="rgb(0,107,0)"/>
<rect x="293.40" y="283.51" width="3.33" height="105.49" fill="rgb(0,107,0)"/>
<rect x="296.69" y="0.00" width="3.33" height="23.08" fill="rgb(0,107,0)"/>
<rect x="296.69" y="23.08" width="3.33" height="112.08" fill="rgb(0,107,0)"/>
<rect x="296.69" y="135.16" width="3.33" height="69.23" fill="rgb(0,107,0)"/>
<rect x="296.69" y="204.39" width="3.33" height="79.12" fill="rgb(0,107,0)"/>
<rect x="296.69" y="283.51" width="3.33" height="105.49" fill="rgb(0,107,0)"/>
<rect x="299.99" y="0.00" width="3.33" height="23.08" fill="rgb(0,145,0)"/>
<rect x="299.99" y="23.08" width="3.33" height="112.08" fill="rgb(0,124,0)"/>
<rect x="299.99" y="135.16" width="3.33" height="69.23" fill="rgb(0,130,0)"/>
<rect x="299.99" y="204.39" width="3.33" height="79.12" fill="rgb(0,130,0)"/>
<rect x="299.99" y="283.51" width="3.33" height="105.49" fill="rgb(0,136,0)"/>
<rect x="303.29" y="0.00" width="3.33" height="23.08" fill="rgb(0,145,0)"/>
<rect x="303.29" y="23.08" width="3.33" height="112.08" fill="rgb(0,124,0)"/>
<rect x="303.29" y="135.16" width="3.33" height="69.23" fill="rgb(0,130,0)"/>
<rect x="303.29" y="204.39" width="3.33" height="79.12" fill="rgb(0,130,0)"/>
<rect x="303.29" y="283.51" width="3.33" height="105.49" fill="rgb(0,136,0)"/>
<rect x="306.58" y="0.00" width="3.33" height="23.08" fill="rgb(0,44,0)"/>
<rect x="306.58" y="23.08" width="3.33" height="112.08" fill="rgb(0,79,0)"/>
<rect x="306.58" y="135.16" width="3.33" height="69.23" fill="rgb(0,69,0)"/>
<rect x="306.58" y="204.39" width="3.33" height="79.12" fill="rgb(0,69,0)"/>
<rect x="306.58" y="283.51" width="3.33" height="105.49" fill="rgb(0,60,0)"/>
<rect x="309.88" y="0.00" width="3.33" height="23.08" fill="rgb(0,44,0)"/>
<rect x="309.88" y="23.08" width="3.33" height="112.08" fill="rgb(0,79,0)"/>
<rect x="309.88" y="135.16" width="3.33" height="69.23" fill="rgb(0,69,0)"/>
<rect x="309.88" y="204.39" width="3.33" height="79.12" fill="rgb(0,69,0)"/>
<rect x="309.88" y="283.51" width="3.33" height="105.49" fill="rgb(0,60,0)"/>
<rect x="313.18" y="0.00" width="3.33" height="23.08" fill="rgb(0,126,0)"/>
<rect x="313.18" y="23.08" width="3.33" height="112.08" fill="rgb(0,116,0)"/>
<rect x="313.18" y="135.16" width="3.33" height="69.23" fill="rgb(0,119,0)"/>
<rect x="313.18" y="204.39" width="3.33" height="79.12" fill="rgb(0,119,0)"/>
<rect x="313.18" y="283.51" width="3.33" height="105.49" fill="rgb(0,122,0)"/>
<rect x="316.47" y="0.00" width="3.33" height="23.08" fill="rgb(0,126,0)"/>
<rect x="316.47" y="23.08" width="3.33" height="112.08" fill="rgb(0,116,0)"/>
<rect x="316.47" y="135.16" width="3.33" height="69.23" fill="rgb(0,119,0)"/>
<rect x="316.47" y="204.39" width="3.33" height="79.12" fill="rgb(0,119,0)"/>
<rect x="316.47" y="283.51" width="3.33" height="105.49" fill="rgb(0,122,0)"/>
<rect x="319.77" y="0.00" width="3.33" height="23.08" fill="rgb(0,221,0)"/>
<rect x="319.77" y="23.08" width="3.33" height="112.08" fill="rgb(0,158,0)"/>
<rect x="319.77" y="135.16" width="3.33" height="69.23" fill="rgb(0,175,0)"/>
<rect x="319.77" y="204.39" width="3.33" height="79.12" fill="rgb(0,175,0)"/>
<rect x="319.77" y="283.51" width="3.33" height="105.49" fill="rgb(0,193,0)"/>
<rect x="323.07" y="0.00" width="3.33" height="23.08" fill="rgb(0,76,0)"/>
<rect x="323.07" y="23.08" width="3.33" height="112.08" fill="rgb(0,93,0)"/>
<rect x="323.07" y="135.16" width="3.33" height="69.23" fill="rgb(0,88,0)"/>
<rect x="323.07" y="204.39" width="3.33" height="79.12" fill="rgb(0,88,0)"/>
<rect x="323.07" y="283.51" width="3.33" height="105.49" fill="rgb(0,84,0)"/>
<rect x="326.36" y="0.00" width="3.33" height="23.08" fill="rgb(0,145,0)"/>
<rect x="326.36" y="23.08" width="3.33" height="112.08" fill="rgb(0,124,0)"/>
<rect x="326.36" y="135.16" width="3.33" height="69.23" fill="rgb(0,130,0)"/>
<rect x="326.36" y="204.39" width="3.33" height="79.12" fill="rgb(0,130,0)"/>
<rect x="326.36" y="283.51" width="3.33" height="105.49" fill="rgb(0,136,0)"/>
<rect x="329.66" y="0.00" width="3.33" height="23.08" fill="rgb(0,95,0)"/>
<rect x="329.66" y="23.08" width="3.33" height="112.08" fill="rgb(0,102,0)"/>
<rect x="329.66" y="135.16" width="3.33" height="69.23" fill="rgb(0,100,0)"/>
<rect x="329.66" y="204.39" width="3.33" height="79.12" fill="rgb(0,100,0)"/>
<rect x="329.66" y="283.51" width="3.33" height="105.49" fill="rgb(0,98,0)"/>
<rect x="332.96" y="0.00" width="3.33" height="23.08" fill="rgb(0,107,0)"/>
<rect x="332.96" y="23.08" width="3.33" height="112.08" fill="rgb(0,107,0)"/>
<rect x="332.96" y="135.16" width="3.33" height="69.23" fill="rgb(0,107,0)"/>
<rect x="332.96" y="204.39" width="3.33" height="79.12" fill="rgb(0,107,0)"/>
<rect x="332.96" y="283.51" width="3.33" height="105.49" fill="rgb(0,107,0)"/>
<rect x="336.25" y="0.00" width="3.33" height="23.08" fill="rgb(0,107,0)"/>
<rect x="336.25" y="23.08" width="3.33" height="112.08" fill="rgb(0,107,0)"/>
<rect x="336.25" y="135.16" width="3.33" height="69.23" fill="rgb(0,107,0)"/>
<rect x="336.25" y="204.39" width="3.33" height="79.12" fill="rgb(0,107,0)"/>
<rect x="336.25" y="283.51" width="3.33" height="105.49" fill="rgb(0,107,0)"/>
<rect x="339.55" y="0.00" width="3.33" height="23.08" fill="rgb(0,107,0)"/>
<rect x="339.55" y="23.08" width="3.33" height="112.08" fill="rgb(0,107,0)"/>
<rect x="339.55" y="135.16" width="3.33" height="69.23" fill="rgb(0,107,0)"/>
<rect x="339.55" y="204.39" width="3.33" height="79.12" fill="rgb(0,107,0)"/>
<rect x="339.55" y="283.51" width="3.33" height="105.49" fill="rgb(0,107,0)"/>
<rect x="342.85" y="0.00" width="3.33" height="23.08" fill="rgb(0,107,0)"/>
<rect x="342.85" y="23.08" width="3.33" height="112.08" fill="rgb(0,107,0)"/>
<rect x="342.85" y="135.16" width="3.33" height="69.23" fill="rgb(0,107,0)"/>
<rect x="342.85" y="204.39" width="3.33" height="79.12" fill="rgb(0,107,0)"/>
<rect x="342.85" y="283.51" width="3.33" height="105.49" fill="rgb(0,107,0)"/>
<rect x="346.14" y="0.00" width="3.33" height="23.08" fill="rgb(0,145,0)"/>
<rect x="346.14" y="23.08" width="3.33" height="112.08" fill="rgb(0,124,0)"/>
<rect x="346.14" y="135.16" width="3.33" height="69.23" fill="rgb(0,130,0)"/>
<rect x="346.14" y="204.39" width="3.33" height="79.12" fill="rgb(0,130,0)"/>
<rect x="346.14" y="283.51" width="3.33" height="105.49" fill="rgb(0,136,0)"/>
<rect x="349.44" y="0.00" width="3.33" height="23.08" fill="rgb(0,88,0)"/>
<rect x="349.44" y="23.08" width="3.33" height="112.08" fill="rgb(0,99,0)"/>
<rect x="349.44" y="135.16" width="3.33" height="69.23" fill="rgb(0,96,0)"/>
<rect x="349.44" y="204.39" width="3.33" height="79.12" fill="rgb(0,96,0)"/>
<rect x="349.44" y="283.51" width="3.33" height="105.49" fill="rgb(0,93,0)"/>
<rect x="352.74" y="0.00" width="3.33" height="23.08" fill="rgb(0,88,0)"/>
<rect x="352.74" y="23.08" width="3.33" height="112.08" fill="rgb(0,99,0)"/>
<rect x="352.74" y="135.16" width="3.33" height="69.23" fill="rgb(0,96,0)"/>
<rect x="352.74" y="204.39" width="3.33" height="79.12" fill="rgb(0,96,0)"/>
<rect x="352.74" y="283.51" width="3.33" height="105.49" fill="rgb(0,93,0)"/>
<rect x="356.03" y="0.00" width="3.33" height="23.08" fill="rgb(0,88,0)"/>
<rect x="356.03" y="23.08" width="3.33" height="112.08" fill="rgb(0,99,0)"/>
<rect x="356.03" y="135.16" width="3.33" height="69.23" fill="rgb(0,96,0)"/>
<rect x="356.03" y="204.39" width="3.33" height="79.12" fill="rgb(0,96,0)"/>
<rect x="356.03" y="283.51" width="3.33" height="105.49" fill="rgb(0,93,0)"/>
<rect x="359.33" y="0.00" width="3.33" height="23.08" fill="rgb(0,88,0)"/>
<rect x="359.33" y="23.08" width="3.33" height="112.08" fill="rgb(0,99,0)"/>
<rect x="359.33" y="135.16" width="3.33" height="69.23" fill="rgb(0,96,0)"/>
<rect x="359.33" y="204.39" width="3.33" height="79.12" fill="rgb(0,96,0)"/>
<rect x="359.33" y="283.51" width="3.33" height="105.49" fill="rgb(0,93,0)"/>
<rect x="362.63" y="0.00" width="3.33" height="23.08" fill="rgb(0,13,0)"/>
<rect x="362.63" y="23.08" width="3.33" height="112.08" fill="rgb(0,65,0)"/>
<rect x="362.63" y="135.16" width="3.33" height="69.23" fill="rgb(0,50,0)"/>
<rect x="362.63" y="204.39" width="3.33" height="79.12" fill="rgb(0,50,0)"/>
<rect x="362.63" y="283.51" width="3.33" height="105.49" fill="rgb(0,36,0)"/>
<rect x="365.92" y="0.00" width="3.33" height="23.08" fill="rgb(0,107,0)"/>
<rect x="365.92" y="23.08" width="3.33" height="112.08" fill="rgb(0,107,0)"/>
<rect x="365.92" y="135.16" width="3.33" height="69.23" fill="rgb(0,107,0)"/>
<rect x="365.92" y="204.39" width="3.33" height="79.12" fill="rgb(0,107,0)"/>
<rect x="365.92" y="283.51" width="3.33" height="105.49" fill="rgb(0,107,0)"/>
<rect x="369.22" y="0.00" width="3.33" height="23.08" fill="rgb(0,107,0)"/>
<rect x="369.22" y="23.08" width="3.33" height="112.08" fill="rgb(0,107,0)"/>
<rect x="369.22" y="135.16" width="3.33" height="69.23" fill="rgb(0,107,0)"/>
<rect x="369.22" y="204.39" width="3.33" height="79.12" fill="rgb(0,107,0)"/>
<rect x="369.22" y="283.51" width="3.33" height="105.49" fill="rgb(0,107,0)"/>
<rect x="372.52" y="0.00" width="3.33" height="23.08" fill="rgb(0,76,0)"/>
<rect x="372.52" y="23.08" width="3.33" height="112.08" fill="rgb(0,93,0)"/>
<rect x="372.52" y="135.16" width="3.33" height="69.23" fill="rgb(0,88,0)"/>
<rect x="372.52" y="204.39" width="3.33" height="79.12" fill="rgb(0,88,0)"/>
<rect x="372.52" y="283.51" width="3.33" height="105.49" fill="rgb(0,84,0)"/>
<rect x="375.81" y="0.00" width="3.33" height="23.08" fill="rgb(0,76,0)"/>
<rect x="375.81" y="23.08" width="3.33" height="112.08" fill="rgb(0,93,0)"/>
<rect x="375.81" y="135.16" width="3.33" height="69.23" fill="rgb(0,88,0)"/>
<rect x="375.81" y="204.39" width="3.33" height="79.12" fill="rgb(0,88,0)"/>
<rect x="375.81" y="283.51" width="3.33" height="105.49" fill="rgb(0,84,0)"/>
<rect x="379.11" y="0.00" width="3.33" height="23.08" fill="rgb(0,107,0)"/>
<rect x="379.11" y="23.08" width="3.33" height="112.08" fill="rgb(0,107,0)"/>
<rect x="379.11" y="135.16" width="3.33" height="69.23" fill="rgb(0,107,0)"/>
<rect x="379.11" y="204.39" width="3.33" height="79.12" fill="rgb(0,107,0)"/>
<rect x="379.11" y="283.51" width="3.33" height="105.49" fill="rgb(0,107,0)"/>
<rect x="382.41" y="0.00" width="3.33" height="23.08" fill="rgb(0,221,0)"/>
<rect x="382.41" y="23.08" width="3.33" height="112.08" fill="rgb(0,158,0)"/>
<rect x="382.41" y="135.16" width="3.33" height="69.23" fill="rgb(0,175,0)"/>
<rect x="382.41" y="204.39" width="3.33" height="79.12" fill="rgb(0,175,0)"/>
<rect x="382.41" y="283.51" width="3.33" height="105.49" fill="rgb(0,193,0)"/>
<rect x="385.70" y="0.00" width="3.33" height="23.08" fill="rgb(0,76,0)"/>
<rect x="385.70" y="23.08" width="3.33" height="112.08" fill="rgb(0,93,0)"/>
<rect x="385.70" y="135.16" width="3.33" height="69.23" fill="rgb(0,88,0)"/>
<rect x="385.70" y="204.39" width="3.33" height="79.12" fill="rgb(0,88,0)"/>
<rect x="385.70" y="283.51" width="3.33" height="105.49" fill="rgb(0,84,0)"/>
</g><g style="mix-blend-mode:screen">
<rect x="0.00" y="0.00" width="23.08" height="23.08" fill="rgb(0,0,183)"/>
<rect x="23.08" y="0.00" width="112.08" height="23.08" fill="rgb(0,0,122)"/>
<rect x="135.16" y="0.00" width="69.23" height="23.08" fill="rgb(0,0,240)"/>
<rect x="204.39" y="0.00" width="79.12" height="23.08" fill="rgb(0,0,255)"/>
<rect x="283.51" y="0.00" width="105.49" height="23.08" fill="rgb(0,0,10)"/>
<rect x="0.00" y="23.08" width="23.08" height="112.08" fill="rgb(0,0,122)"/>
<rect x="23.08" y="23.08" width="112.08" height="112.08" fill="rgb(0,0,36)"/>
<rect x="135.16" y="23.08" width="69.23" height="112.08" fill="rgb(0,0,148)"/>
<rect x="204.39" y="23.08" width="79.12" height="112.08" fill="rgb(0,0,149)"/>
<rect x="283.51" y="23.08" width="105.49" height="112.08" fill="rgb(0,0,62)"/>
<rect x="0.00" y="135.16" width="23.08" height="69.23" fill="rgb(0,0,240)"/>
<rect x="23.08" y="135.16" width="112.08" height="69.23" fill="rgb(0,0,148)"/>
<rect x="135.16" y="135.16" width="69.23" height="69.23" fill="rgb(0,0,81)"/>
<rect x="204.39" y="135.16" width="79.12" height="69.23" fill="rgb(0,0,145)"/>
<rect x="283.51" y="135.16" width="105.49" height="69.23" fill="rgb(0,0,0)"/>
<rect x="0.00" y="204.39" width="23.08" height="79.12" fill="rgb(0,0,255)"/>
<rect x="23.08" y="204.39" width="112.08" height="79.12" fill="rgb(0,0,149)"/>
<rect x="135.16" y="204.39" width="69.23" height="79.12" fill="rgb(0,0,145)"/>
<rect x="204.39" y="204.39" width="79.12" height="79.12" fill="rgb(0,0,200)"/>
<rect x="283.51" y="204.39" width="105.49" height="79.12" fill="rgb(0,0,97)"/>
<rect x="0.00" y="283.51" width="23.08" height="105.49" fill="rgb(0,0,10)"/>
<rect x="23.08" y="283.51" width="112.08" height="105.49" fill="rgb(0,0,62)"/>
<rect x="135.16" y="283.51" width="69.23" height="105.49" fill="rgb(0,0,0)"/>
<rect x="204.39" y="283.51" width="79.12" height="105.49" fill="rgb(0,0,97)"/>
<rect x="283.51" y="283.51" width="105.49" height="105.49" fill="rgb(0,0,96)"/>
</g></g>
<g filter="url(#fM)" style="mix-blend-mode:plus-lighter"><rect width="389" height="389" fill="#000"/><g>
<rect y="0.00" width="389" height="3.33" fill="rgb(190,0,0)"/>
<rect y="3.30" width="389" height="3.33" fill="rgb(184,0,0)"/>
<rect y="6.59" width="389" height="3.33" fill="rgb(175,0,0)"/>
<rect y="9.89" width="389" height="3.33" fill="rgb(181,0,0)"/>
<rect y="13.19" width="389" height="3.33" fill="rgb(164,0,0)"/>
<rect y="16.48" width="389" height="3.33" fill="rgb(181,0,0)"/>
<rect y="19.78" width="389" height="3.33" fill="rgb(155,0,0)"/>
<rect y="23.08" width="389" height="3.33" fill="rgb(228,0,0)"/>
<rect y="26.37" width="389" height="3.33" fill="rgb(155,0,0)"/>
<rect y="29.67" width="389" height="3.33" fill="rgb(5,0,0)"/>
<rect y="32.97" width="389" height="3.33" fill="rgb(178,0,0)"/>
<rect y="36.26" width="389" height="3.33" fill="rgb(105,0,0)"/>
<rect y="39.56" width="389" height="3.33" fill="rgb(164,0,0)"/>
<rect y="42.86" width="389" height="3.33" fill="rgb(164,0,0)"/>
<rect y="46.15" width="389" height="3.33" fill="rgb(105,0,0)"/>
<rect y="49.45" width="389" height="3.33" fill="rgb(140,0,0)"/>
<rect y="52.75" width="389" height="3.33" fill="rgb(214,0,0)"/>
<rect y="56.04" width="389" height="3.33" fill="rgb(121,0,0)"/>
<rect y="59.34" width="389" height="3.33" fill="rgb(34,0,0)"/>
<rect y="62.64" width="389" height="3.33" fill="rgb(34,0,0)"/>
<rect y="65.93" width="389" height="3.33" fill="rgb(140,0,0)"/>
<rect y="69.23" width="389" height="3.33" fill="rgb(164,0,0)"/>
<rect y="72.53" width="389" height="3.33" fill="rgb(171,0,0)"/>
<rect y="75.82" width="389" height="3.33" fill="rgb(155,0,0)"/>
<rect y="79.12" width="389" height="3.33" fill="rgb(105,0,0)"/>
<rect y="82.42" width="389" height="3.33" fill="rgb(84,0,0)"/>
<rect y="85.71" width="389" height="3.33" fill="rgb(155,0,0)"/>
<rect y="89.01" width="389" height="3.33" fill="rgb(164,0,0)"/>
<rect y="92.31" width="389" height="3.33" fill="rgb(171,0,0)"/>
<rect y="95.60" width="389" height="3.33" fill="rgb(164,0,0)"/>
<rect y="98.90" width="389" height="3.33" fill="rgb(155,0,0)"/>
<rect y="102.19" width="389" height="3.33" fill="rgb(34,0,0)"/>
<rect y="105.49" width="389" height="3.33" fill="rgb(121,0,0)"/>
<rect y="108.79" width="389" height="3.33" fill="rgb(150,0,0)"/>
<rect y="112.08" width="389" height="3.33" fill="rgb(150,0,0)"/>
<rect y="115.38" width="389" height="3.33" fill="rgb(121,0,0)"/>
<rect y="118.68" width="389" height="3.33" fill="rgb(150,0,0)"/>
<rect y="121.97" width="389" height="3.33" fill="rgb(150,0,0)"/>
<rect y="125.27" width="389" height="3.33" fill="rgb(105,0,0)"/>
<rect y="128.57" width="389" height="3.33" fill="rgb(0,0,0)"/>
<rect y="131.86" width="389" height="3.33" fill="rgb(5,0,0)"/>
<rect y="135.16" width="389" height="3.33" fill="rgb(234,0,0)"/>
<rect y="138.46" width="389" height="3.33" fill="rgb(234,0,0)"/>
<rect y="141.75" width="389" height="3.33" fill="rgb(229,0,0)"/>
<rect y="145.05" width="389" height="3.33" fill="rgb(241,0,0)"/>
<rect y="148.35" width="389" height="3.33" fill="rgb(255,0,0)"/>
<rect y="151.64" width="389" height="3.33" fill="rgb(168,0,0)"/>
<rect y="154.94" width="389" height="3.33" fill="rgb(234,0,0)"/>
<rect y="158.24" width="389" height="3.33" fill="rgb(224,0,0)"/>
<rect y="161.53" width="389" height="3.33" fill="rgb(184,0,0)"/>
<rect y="164.83" width="389" height="3.33" fill="rgb(224,0,0)"/>
<rect y="168.13" width="389" height="3.33" fill="rgb(229,0,0)"/>
<rect y="171.42" width="389" height="3.33" fill="rgb(215,0,0)"/>
<rect y="174.72" width="389" height="3.33" fill="rgb(118,0,0)"/>
<rect y="178.02" width="389" height="3.33" fill="rgb(118,0,0)"/>
<rect y="181.31" width="389" height="3.33" fill="rgb(234,0,0)"/>
<rect y="184.61" width="389" height="3.33" fill="rgb(241,0,0)"/>
<rect y="187.91" width="389" height="3.33" fill="rgb(229,0,0)"/>
<rect y="191.20" width="389" height="3.33" fill="rgb(245,0,0)"/>
<rect y="194.50" width="389" height="3.33" fill="rgb(224,0,0)"/>
<rect y="197.80" width="389" height="3.33" fill="rgb(245,0,0)"/>
<rect y="201.09" width="389" height="3.33" fill="rgb(251,0,0)"/>
<rect y="204.39" width="389" height="3.33" fill="rgb(155,0,0)"/>
<rect y="207.69" width="389" height="3.33" fill="rgb(189,0,0)"/>
<rect y="210.98" width="389" height="3.33" fill="rgb(218,0,0)"/>
<rect y="214.28" width="389" height="3.33" fill="rgb(197,0,0)"/>
<rect y="217.58" width="389" height="3.33" fill="rgb(205,0,0)"/>
<rect y="220.87" width="389" height="3.33" fill="rgb(218,0,0)"/>
<rect y="224.17" width="389" height="3.33" fill="rgb(218,0,0)"/>
<rect y="227.47" width="389" height="3.33" fill="rgb(218,0,0)"/>
<rect y="230.76" width="389" height="3.33" fill="rgb(234,0,0)"/>
<rect y="234.06" width="389" height="3.33" fill="rgb(174,0,0)"/>
<rect y="237.36" width="389" height="3.33" fill="rgb(0,0,0)"/>
<rect y="240.65" width="389" height="3.33" fill="rgb(197,0,0)"/>
<rect y="243.95" width="389" height="3.33" fill="rgb(189,0,0)"/>
<rect y="247.25" width="389" height="3.33" fill="rgb(209,0,0)"/>
<rect y="250.54" width="389" height="3.33" fill="rgb(189,0,0)"/>
<rect y="253.84" width="389" height="3.33" fill="rgb(197,0,0)"/>
<rect y="257.14" width="389" height="3.33" fill="rgb(229,0,0)"/>
<rect y="260.43" width="389" height="3.33" fill="rgb(118,0,0)"/>
<rect y="263.73" width="389" height="3.33" fill="rgb(184,0,0)"/>
<rect y="267.03" width="389" height="3.33" fill="rgb(197,0,0)"/>
<rect y="270.32" width="389" height="3.33" fill="rgb(184,0,0)"/>
<rect y="273.62" width="389" height="3.33" fill="rgb(168,0,0)"/>
<rect y="276.92" width="389" height="3.33" fill="rgb(174,0,0)"/>
<rect y="280.21" width="389" height="3.33" fill="rgb(215,0,0)"/>
<rect y="283.51" width="389" height="3.33" fill="rgb(189,0,0)"/>
<rect y="286.81" width="389" height="3.33" fill="rgb(234,0,0)"/>
<rect y="290.10" width="389" height="3.33" fill="rgb(234,0,0)"/>
<rect y="293.40" width="389" height="3.33" fill="rgb(197,0,0)"/>
<rect y="296.69" width="389" height="3.33" fill="rgb(197,0,0)"/>
<rect y="299.99" width="389" height="3.33" fill="rgb(218,0,0)"/>
<rect y="303.29" width="389" height="3.33" fill="rgb(218,0,0)"/>
<rect y="306.58" width="389" height="3.33" fill="rgb(139,0,0)"/>
<rect y="309.88" width="389" height="3.33" fill="rgb(139,0,0)"/>
<rect y="313.18" width="389" height="3.33" fill="rgb(209,0,0)"/>
<rect y="316.47" width="389" height="3.33" fill="rgb(209,0,0)"/>
<rect y="319.77" width="389" height="3.33" fill="rgb(247,0,0)"/>
<rect y="323.07" width="389" height="3.33" fill="rgb(174,0,0)"/>
<rect y="326.36" width="389" height="3.33" fill="rgb(218,0,0)"/>
<rect y="329.66" width="389" height="3.33" fill="rgb(189,0,0)"/>
<rect y="332.96" width="389" height="3.33" fill="rgb(197,0,0)"/>
<rect y="336.25" width="389" height="3.33" fill="rgb(197,0,0)"/>
<rect y="339.55" width="389" height="3.33" fill="rgb(197,0,0)"/>
<rect y="342.85" width="389" height="3.33" fill="rgb(197,0,0)"/>
<rect y="346.14" width="389" height="3.33" fill="rgb(218,0,0)"/>
<rect y="349.44" width="389" height="3.33" fill="rgb(184,0,0)"/>
<rect y="352.74" width="389" height="3.33" fill="rgb(184,0,0)"/>
<rect y="356.03" width="389" height="3.33" fill="rgb(184,0,0)"/>
<rect y="359.33" width="389" height="3.33" fill="rgb(184,0,0)"/>
<rect y="362.63" width="389" height="3.33" fill="rgb(68,0,0)"/>
<rect y="365.92" width="389" height="3.33" fill="rgb(197,0,0)"/>
<rect y="369.22" width="389" height="3.33" fill="rgb(197,0,0)"/>
<rect y="372.52" width="389" height="3.33" fill="rgb(174,0,0)"/>
<rect y="375.81" width="389" height="3.33" fill="rgb(174,0,0)"/>
<rect y="379.11" width="389" height="3.33" fill="rgb(197,0,0)"/>
<rect y="382.41" width="389" height="3.33" fill="rgb(247,0,0)"/>
<rect y="385.70" width="389" height="3.33" fill="rgb(174,0,0)"/>
</g><g style="mix-blend-mode:screen">
<rect x="0.00" width="3.33" height="389" fill="rgb(0,190,0)"/>
<rect x="3.30" width="3.33" height="389" fill="rgb(0,184,0)"/>
<rect x="6.59" width="3.33" height="389" fill="rgb(0,175,0)"/>
<rect x="9.89" width="3.33" height="389" fill="rgb(0,181,0)"/>
<rect x="13.19" width="3.33" height="389" fill="rgb(0,164,0)"/>
<rect x="16.48" width="3.33" height="389" fill="rgb(0,181,0)"/>
<rect x="19.78" width="3.33" height="389" fill="rgb(0,155,0)"/>
<rect x="23.08" width="3.33" height="389" fill="rgb(0,228,0)"/>
<rect x="26.37" width="3.33" height="389" fill="rgb(0,155,0)"/>
<rect x="29.67" width="3.33" height="389" fill="rgb(0,5,0)"/>
<rect x="32.97" width="3.33" height="389" fill="rgb(0,178,0)"/>
<rect x="36.26" width="3.33" height="389" fill="rgb(0,105,0)"/>
<rect x="39.56" width="3.33" height="389" fill="rgb(0,164,0)"/>
<rect x="42.86" width="3.33" height="389" fill="rgb(0,164,0)"/>
<rect x="46.15" width="3.33" height="389" fill="rgb(0,105,0)"/>
<rect x="49.45" width="3.33" height="389" fill="rgb(0,140,0)"/>
<rect x="52.75" width="3.33" height="389" fill="rgb(0,214,0)"/>
<rect x="56.04" width="3.33" height="389" fill="rgb(0,121,0)"/>
<rect x="59.34" width="3.33" height="389" fill="rgb(0,34,0)"/>
<rect x="62.64" width="3.33" height="389" fill="rgb(0,34,0)"/>
<rect x="65.93" width="3.33" height="389" fill="rgb(0,140,0)"/>
<rect x="69.23" width="3.33" height="389" fill="rgb(0,164,0)"/>
<rect x="72.53" width="3.33" height="389" fill="rgb(0,171,0)"/>
<rect x="75.82" width="3.33" height="389" fill="rgb(0,155,0)"/>
<rect x="79.12" width="3.33" height="389" fill="rgb(0,105,0)"/>
<rect x="82.42" width="3.33" height="389" fill="rgb(0,84,0)"/>
<rect x="85.71" width="3.33" height="389" fill="rgb(0,155,0)"/>
<rect x="89.01" width="3.33" height="389" fill="rgb(0,164,0)"/>
<rect x="92.31" width="3.33" height="389" fill="rgb(0,171,0)"/>
<rect x="95.60" width="3.33" height="389" fill="rgb(0,164,0)"/>
<rect x="98.90" width="3.33" height="389" fill="rgb(0,155,0)"/>
<rect x="102.19" width="3.33" height="389" fill="rgb(0,34,0)"/>
<rect x="105.49" width="3.33" height="389" fill="rgb(0,121,0)"/>
<rect x="108.79" width="3.33" height="389" fill="rgb(0,150,0)"/>
<rect x="112.08" width="3.33" height="389" fill="rgb(0,150,0)"/>
<rect x="115.38" width="3.33" height="389" fill="rgb(0,121,0)"/>
<rect x="118.68" width="3.33" height="389" fill="rgb(0,150,0)"/>
<rect x="121.97" width="3.33" height="389" fill="rgb(0,150,0)"/>
<rect x="125.27" width="3.33" height="389" fill="rgb(0,105,0)"/>
<rect x="128.57" width="3.33" height="389" fill="rgb(0,0,0)"/>
<rect x="131.86" width="3.33" height="389" fill="rgb(0,5,0)"/>
<rect x="135.16" width="3.33" height="389" fill="rgb(0,234,0)"/>
<rect x="138.46" width="3.33" height="389" fill="rgb(0,234,0)"/>
<rect x="141.75" width="3.33" height="389" fill="rgb(0,229,0)"/>
<rect x="145.05" width="3.33" height="389" fill="rgb(0,241,0)"/>
<rect x="148.35" width="3.33" height="389" fill="rgb(0,255,0)"/>
<rect x="151.64" width="3.33" height="389" fill="rgb(0,168,0)"/>
<rect x="154.94" width="3.33" height="389" fill="rgb(0,234,0)"/>
<rect x="158.24" width="3.33" height="389" fill="rgb(0,224,0)"/>
<rect x="161.53" width="3.33" height="389" fill="rgb(0,184,0)"/>
<rect x="164.83" width="3.33" height="389" fill="rgb(0,224,0)"/>
<rect x="168.13" width="3.33" height="389" fill="rgb(0,229,0)"/>
<rect x="171.42" width="3.33" height="389" fill="rgb(0,215,0)"/>
<rect x="174.72" width="3.33" height="389" fill="rgb(0,118,0)"/>
<rect x="178.02" width="3.33" height="389" fill="rgb(0,118,0)"/>
<rect x="181.31" width="3.33" height="389" fill="rgb(0,234,0)"/>
<rect x="184.61" width="3.33" height="389" fill="rgb(0,241,0)"/>
<rect x="187.91" width="3.33" height="389" fill="rgb(0,229,0)"/>
<rect x="191.20" width="3.33" height="389" fill="rgb(0,245,0)"/>
<rect x="194.50" width="3.33" height="389" fill="rgb(0,224,0)"/>
<rect x="197.80" width="3.33" height="389" fill="rgb(0,245,0)"/>
<rect x="201.09" width="3.33" height="389" fill="rgb(0,251,0)"/>
<rect x="204.39" width="3.33" height="389" fill="rgb(0,155,0)"/>
<rect x="207.69" width="3.33" height="389" fill="rgb(0,189,0)"/>
<rect x="210.98" width="3.33" height="389" fill="rgb(0,218,0)"/>
<rect x="214.28" width="3.33" height="389" fill="rgb(0,197,0)"/>
<rect x="217.58" width="3.33" height="389" fill="rgb(0,205,0)"/>
<rect x="220.87" width="3.33" height="389" fill="rgb(0,218,0)"/>
<rect x="224.17" width="3.33" height="389" fill="rgb(0,218,0)"/>
<rect x="227.47" width="3.33" height="389" fill="rgb(0,218,0)"/>
<rect x="230.76" width="3.33" height="389" fill="rgb(0,234,0)"/>
<rect x="234.06" width="3.33" height="389" fill="rgb(0,174,0)"/>
<rect x="237.36" width="3.33" height="389" fill="rgb(0,0,0)"/>
<rect x="240.65" width="3.33" height="389" fill="rgb(0,197,0)"/>
<rect x="243.95" width="3.33" height="389" fill="rgb(0,189,0)"/>
<rect x="247.25" width="3.33" height="389" fill="rgb(0,209,0)"/>
<rect x="250.54" width="3.33" height="389" fill="rgb(0,189,0)"/>
<rect x="253.84" width="3.33" height="389" fill="rgb(0,197,0)"/>
<rect x="257.14" width="3.33" height="389" fill="rgb(0,229,0)"/>
<rect x="260.43" width="3.33" height="389" fill="rgb(0,118,0)"/>
<rect x="263.73" width="3.33" height="389" fill="rgb(0,184,0)"/>
<rect x="267.03" width="3.33" height="389" fill="rgb(0,197,0)"/>
<rect x="270.32" width="3.33" height="389" fill="rgb(0,184,0)"/>
<rect x="273.62" width="3.33" height="389" fill="rgb(0,168,0)"/>
<rect x="276.92" width="3.33" height="389" fill="rgb(0,174,0)"/>
<rect x="280.21" width="3.33" height="389" fill="rgb(0,215,0)"/>
<rect x="283.51" width="3.33" height="389" fill="rgb(0,189,0)"/>
<rect x="286.81" width="3.33" height="389" fill="rgb(0,234,0)"/>
<rect x="290.10" width="3.33" height="389" fill="rgb(0,234,0)"/>
<rect x="293.40" width="3.33" height="389" fill="rgb(0,197,0)"/>
<rect x="296.69" width="3.33" height="389" fill="rgb(0,197,0)"/>
<rect x="299.99" width="3.33" height="389" fill="rgb(0,218,0)"/>
<rect x="303.29" width="3.33" height="389" fill="rgb(0,218,0)"/>
<rect x="306.58" width="3.33" height="389" fill="rgb(0,139,0)"/>
<rect x="309.88" width="3.33" height="389" fill="rgb(0,139,0)"/>
<rect x="313.18" width="3.33" height="389" fill="rgb(0,209,0)"/>
<rect x="316.47" width="3.33" height="389" fill="rgb(0,209,0)"/>
<rect x="319.77" width="3.33" height="389" fill="rgb(0,247,0)"/>
<rect x="323.07" width="3.33" height="389" fill="rgb(0,174,0)"/>
<rect x="326.36" width="3.33" height="389" fill="rgb(0,218,0)"/>
<rect x="329.66" width="3.33" height="389" fill="rgb(0,189,0)"/>
<rect x="332.96" width="3.33" height="389" fill="rgb(0,197,0)"/>
<rect x="336.25" width="3.33" height="389" fill="rgb(0,197,0)"/>
<rect x="339.55" width="3.33" height="389" fill="rgb(0,197,0)"/>
<rect x="342.85" width="3.33" height="389" fill="rgb(0,197,0)"/>
<rect x="346.14" width="3.33" height="389" fill="rgb(0,218,0)"/>
<rect x="349.44" width="3.33" height="389" fill="rgb(0,184,0)"/>
<rect x="352.74" width="3.33" height="389" fill="rgb(0,184,0)"/>
<rect x="356.03" width="3.33" height="389" fill="rgb(0,184,0)"/>
<rect x="359.33" width="3.33" height="389" fill="rgb(0,184,0)"/>
<rect x="362.63" width="3.33" height="389" fill="rgb(0,68,0)"/>
<rect x="365.92" width="3.33" height="389" fill="rgb(0,197,0)"/>
<rect x="369.22" width="3.33" height="389" fill="rgb(0,197,0)"/>
<rect x="372.52" width="3.33" height="389" fill="rgb(0,174,0)"/>
<rect x="375.81" width="3.33" height="389" fill="rgb(0,174,0)"/>
<rect x="379.11" width="3.33" height="389" fill="rgb(0,197,0)"/>
<rect x="382.41" width="3.33" height="389" fill="rgb(0,247,0)"/>
<rect x="385.70" width="3.33" height="389" fill="rgb(0,174,0)"/>
</g><g style="mix-blend-mode:screen">
<rect x="0.00" y="0.00" width="23.08" height="23.08" fill="rgb(0,0,255)"/>
<rect x="23.08" y="0.00" width="112.08" height="23.08" fill="rgb(0,0,195)"/>
<rect x="135.16" y="0.00" width="69.23" height="23.08" fill="rgb(0,0,83)"/>
<rect x="204.39" y="0.00" width="79.12" height="23.08" fill="rgb(0,0,86)"/>
<rect x="283.51" y="0.00" width="105.49" height="23.08" fill="rgb(0,0,96)"/>
<rect x="0.00" y="23.08" width="23.08" height="112.08" fill="rgb(0,0,195)"/>
<rect x="23.08" y="23.08" width="112.08" height="112.08" fill="rgb(0,0,50)"/>
<rect x="135.16" y="23.08" width="69.23" height="112.08" fill="rgb(0,0,138)"/>
<rect x="204.39" y="23.08" width="79.12" height="112.08" fill="rgb(0,0,161)"/>
<rect x="283.51" y="23.08" width="105.49" height="112.08" fill="rgb(0,0,138)"/>
<rect x="0.00" y="135.16" width="23.08" height="69.23" fill="rgb(0,0,83)"/>
<rect x="23.08" y="135.16" width="112.08" height="69.23" fill="rgb(0,0,138)"/>
<rect x="135.16" y="135.16" width="69.23" height="69.23" fill="rgb(0,0,0)"/>
<rect x="204.39" y="135.16" width="79.12" height="69.23" fill="rgb(0,0,51)"/>
<rect x="283.51" y="135.16" width="105.49" height="69.23" fill="rgb(0,0,5)"/>
<rect x="0.00" y="204.39" width="23.08" height="79.12" fill="rgb(0,0,86)"/>
<rect x="23.08" y="204.39" width="112.08" height="79.12" fill="rgb(0,0,161)"/>
<rect x="135.16" y="204.39" width="69.23" height="79.12" fill="rgb(0,0,51)"/>
<rect x="204.39" y="204.39" width="79.12" height="79.12" fill="rgb(0,0,120)"/>
<rect x="283.51" y="204.39" width="105.49" height="79.12" fill="rgb(0,0,64)"/>
<rect x="0.00" y="283.51" width="23.08" height="105.49" fill="rgb(0,0,96)"/>
<rect x="23.08" y="283.51" width="112.08" height="105.49" fill="rgb(0,0,138)"/>
<rect x="135.16" y="283.51" width="69.23" height="105.49" fill="rgb(0,0,5)"/>
<rect x="204.39" y="283.51" width="79.12" height="105.49" fill="rgb(0,0,64)"/>
<rect x="283.51" y="283.51" width="105.49" height="105.49" fill="rgb(0,0,42)"/>
</g></g>
</g>
<rect x="36.26" y="29.67" width="3.30" height="3.30" fill="#05fffa"/>
<rect x="29.67" y="36.26" width="3.30" height="3.30" fill="#05fffa"/>
<rect x="59.34" y="29.67" width="3.30" height="3.30" fill="#05fffa"/>
<rect x="29.67" y="59.34" width="3.30" height="3.30" fill="#05fffa"/>
<rect x="128.57" y="29.67" width="3.30" height="3.30" fill="#05fffa"/>
<rect x="29.67" y="128.57" width="3.30" height="3.30" fill="#05fffa"/>
<rect x="174.72" y="29.67" width="3.30" height="3.30" fill="#4dffb2"/>
<rect x="29.67" y="174.72" width="3.30" height="3.30" fill="#4dffb2"/>
<rect x="217.58" y="29.67" width="3.30" height="3.30" fill="#4dffb2"/>
<rect x="29.67" y="217.58" width="3.30" height="3.30" fill="#4dffb2"/>
<rect x="253.84" y="29.67" width="3.30" height="3.30" fill="#4dffb2"/>
<rect x="29.67" y="253.84" width="3.30" height="3.30" fill="#4dffb2"/>
<rect x="306.58" y="29.67" width="3.30" height="3.30" fill="#4dffb2"/>
<rect x="29.67" y="306.58" width="3.30" height="3.30" fill="#4dffb2"/>
<rect x="332.96" y="29.67" width="3.30" height="3.30" fill="#4dffb2"/>
<rect x="29.67" y="332.96" width="3.30" height="3.30" fill="#4dffb2"/>
<rect x="59.34" y="36.26" width="3.30" height="3.30" fill="#05fffa"/>
<rect x="36.26" y="59.34" width="3.30" height="3.30" fill="#05fffa"/>
<rect x="128.57" y="36.26" width="3.30" height="3.30" fill="#05fffa"/>
<rect x="36.26" y="128.57" width="3.30" height="3.30" fill="#05fffa"/>
<rect x="174.72" y="36.26" width="3.30" height="3.30" fill="#4dffb2"/>
<rect x="36.26" y="174.72" width="3.30" height="3.30" fill="#4dffb2"/>
<rect x="217.58" y="36.26" width="3.30" height="3.30" fill="#4dffb2"/>
<rect x="36.26" y="217.58" width="3.30" height="3.30" fill="#4dffb2"/>
<rect x="253.84" y="36.26" width="3.30" height="3.30" fill="#4dffb2"/>
<rect x="36.26" y="253.84" width="3.30" height="3.30" fill="#4dffb2"/>
<rect x="306.58" y="36.26" width="3.30" height="3.30" fill="#4dffb2"/>
<rect x="36.26" y="306.58" width="3.30" height="3.30" fill="#4dffb2"/>
<rect x="332.96" y="36.26" width="3.30" height="3.30" fill="#4dffb2"/>
<rect x="36.26" y="332.96" width="3.30" height="3.30" fill="#4dffb2"/>
<rect x="128.57" y="59.34" width="3.30" height="3.30" fill="#05fffa"/>
<rect x="59.34" y="128.57" width="3.30" height="3.30" fill="#05fffa"/>
<rect x="174.72" y="59.34" width="3.30" height="3.30" fill="#4dffb2"/>
<rect x="59.34" y="174.72" width="3.30" height="3.30" fill="#4dffb2"/>
<rect x="217.58" y="59.34" width="3.30" height="3.30" fill="#4dffb2"/>
<rect x="59.34" y="217.58" width="3.30" height="3.30" fill="#4dffb2"/>
<rect x="253.84" y="59.34" width="3.30" height="3.30" fill="#4dffb2"/>
<rect x="59.34" y="253.84" width="3.30" height="3.30" fill="#4dffb2"/>
<rect x="306.58" y="59.34" width="3.30" height="3.30" fill="#4dffb2"/>
<rect x="59.34" y="306.58" width="3.30" height="3.30" fill="#4dffb2"/>
<rect x="332.96" y="59.34" width="3.30" height="3.30" fill="#4dffb2"/>
<rect x="59.34" y="332.96" width="3.30" height="3.30" fill="#4dffb2"/>
<rect x="174.72" y="128.57" width="3.30" height="3.30" fill="#4dffb2"/>
<rect x="128.57" y="174.72" width="3.30" height="3.30" fill="#4dffb2"/>
<rect x="217.58" y="128.57" width="3.30" height="3.30" fill="#4dffb2"/>
<rect x="128.57" y="217.58" width="3.30" height="3.30" fill="#4dffb2"/>
<rect x="253.84" y="128.57" width="3.30" height="3.30" fill="#4dffb2"/>
<rect x="128.57" y="253.84" width="3.30" height="3.30" fill="#4dffb2"/>
<rect x="306.58" y="128.57" width="3.30" height="3.30" fill="#4dffb2"/>
<rect x="128.57" y="306.58" width="3.30" height="3.30" fill="#4dffb2"/>
<rect x="332.96" y="128.57" width="3.30" height="3.30" fill="#4dffb2"/>
<rect x="128.57" y="332.96" width="3.30" height="3.30" fill="#4dffb2"/>
<rect x="217.58" y="174.72" width="3.30" height="3.30" fill="#4dffb2"/>
<rect x="174.72" y="217.58" width="3.30" height="3.30" fill="#4dffb2"/>
<rect x="253.84" y="174.72" width="3.30" height="3.30" fill="#4dffb2"/>
<rect x="174.72" y="253.84" width="3.30" height="3.30" fill="#4dffb2"/>
<rect x="306.58" y="174.72" width="3.30" height="3.30" fill="#4dffb2"/>
<rect x="174.72" y="306.58" width="3.30" height="3.30" fill="#4dffb2"/>
<rect x="332.96" y="174.72" width="3.30" height="3.30" fill="#4dffb2"/>
<rect x="174.72" y="332.96" width="3.30" height="3.30" fill="#4dffb2"/>
<rect x="253.84" y="217.58" width="3.30" height="3.30" fill="#4dffb2"/>
<rect x="217.58" y="253.84" width="3.30" height="3.30" fill="#4dffb2"/>
<rect x="306.58" y="217.58" width="3.30" height="3.30" fill="#4dffb2"/>
<rect x="217.58" y="306.58" width="3.30" height="3.30" fill="#4dffb2"/>
<rect x="332.96" y="217.58" width="3.30" height="3.30" fill="#4dffb2"/>
<rect x="217.58" y="332.96" width="3.30" height="3.30" fill="#4dffb2"/>
<rect x="306.58" y="253.84" width="3.30" height="3.30" fill="#4dffb2"/>
<rect x="253.84" y="306.58" width="3.30" height="3.30" fill="#4dffb2"/>
<rect x="332.96" y="253.84" width="3.30" height="3.30" fill="#4dffb2"/>
<rect x="253.84" y="332.96" width="3.30" height="3.30" fill="#4dffb2"/>
<rect x="332.96" y="306.58" width="3.30" height="3.30" fill="#4dffb2"/>
<rect x="306.58" y="332.96" width="3.30" height="3.30" fill="#4dffb2"/>
<rect x="0.00" y="0.00" width="3.30" height="3.30" fill="#61ff9e"/>
<rect x="3.30" y="3.30" width="3.30" height="3.30" fill="#61ff9e"/>
<rect x="6.59" y="6.59" width="3.30" height="3.30" fill="#61ff9e"/>
<rect x="9.89" y="9.89" width="3.30" height="3.30" fill="#61ff9e"/>
<rect x="13.19" y="13.19" width="3.30" height="3.30" fill="#61ff9e"/>
<rect x="16.48" y="16.48" width="3.30" height="3.30" fill="#61ff9e"/>
<rect x="19.78" y="19.78" width="3.30" height="3.30" fill="#61ff9e"/>
<rect x="23.08" y="23.08" width="3.30" height="3.30" fill="#b30000"/>
<rect x="26.37" y="26.37" width="3.30" height="3.30" fill="#80ff80"/>
<rect x="29.67" y="29.67" width="3.30" height="3.30" fill="#e5ff1a"/>
<rect x="32.97" y="32.97" width="3.30" height="3.30" fill="#61ff9e"/>
<rect x="36.26" y="36.26" width="3.30" height="3.30" fill="#61ff9e"/>
<rect x="39.56" y="39.56" width="3.30" height="3.30" fill="#61ff9e"/>
<rect x="42.86" y="42.86" width="3.30" height="3.30" fill="#61ff9e"/>
<rect x="46.15" y="46.15" width="3.30" height="3.30" fill="#61ff9e"/>
<rect x="49.45" y="49.45" width="3.30" height="3.30" fill="#61ff9e"/>
<rect x="52.75" y="52.75" width="3.30" height="3.30" fill="#ff8000"/>
<rect x="56.04" y="56.04" width="3.30" height="3.30" fill="#61ff9e"/>
<rect x="59.34" y="59.34" width="3.30" height="3.30" fill="#ff1a00"/>
<rect x="62.64" y="62.64" width="3.30" height="3.30" fill="#61ff9e"/>
<rect x="65.93" y="65.93" width="3.30" height="3.30" fill="#61ff9e"/>
<rect x="69.23" y="69.23" width="3.30" height="3.30" fill="#61ff9e"/>
<rect x="72.53" y="72.53" width="3.30" height="3.30" fill="#61ff9e"/>
<rect x="75.82" y="75.82" width="3.30" height="3.30" fill="#61ff9e"/>
<rect x="79.12" y="79.12" width="3.30" height="3.30" fill="#61ff9e"/>
<rect x="82.42" y="82.42" width="3.30" height="3.30" fill="#61ff9e"/>
<rect x="85.71" y="85.71" width="3.30" height="3.30" fill="#61ff9e"/>
<rect x="89.01" y="89.01" width="3.30" height="3.30" fill="#61ff9e"/>
<rect x="92.31" y="92.31" width="3.30" height="3.30" fill="#61ff9e"/>
<rect x="95.60" y="95.60" width="3.30" height="3.30" fill="#61ff9e"/>
<rect x="98.90" y="98.90" width="3.30" height="3.30" fill="#61ff9e"/>
<rect x="102.19" y="102.19" width="3.30" height="3.30" fill="#61ff9e"/>
<rect x="105.49" y="105.49" width="3.30" height="3.30" fill="#61ff9e"/>
<rect x="108.79" y="108.79" width="3.30" height="3.30" fill="#61ff9e"/>
<rect x="112.08" y="112.08" width="3.30" height="3.30" fill="#61ff9e"/>
<rect x="115.38" y="115.38" width="3.30" height="3.30" fill="#61ff9e"/>
<rect x="118.68" y="118.68" width="3.30" height="3.30" fill="#61ff9e"/>
<rect x="121.97" y="121.97" width="3.30" height="3.30" fill="#61ff9e"/>
<rect x="125.27" y="125.27" width="3.30" height="3.30" fill="#61ff9e"/>
<rect x="128.57" y="128.57" width="3.30" height="3.30" fill="#ff4c00"/>
<rect x="131.86" y="131.86" width="3.30" height="3.30" fill="#61ff9e"/>
<rect x="135.16" y="135.16" width="3.30" height="3.30" fill="#ff8000"/>
<rect x="138.46" y="138.46" width="3.30" height="3.30" fill="#ffb300"/>
<rect x="141.75" y="141.75" width="3.30" height="3.30" fill="#ff8000"/>
<rect x="145.05" y="145.05" width="3.30" height="3.30" fill="#ff8000"/>
<rect x="148.35" y="148.35" width="3.30" height="3.30" fill="#b30000"/>
<rect x="151.64" y="151.64" width="3.30" height="3.30" fill="#ffb300"/>
<rect x="154.94" y="154.94" width="3.30" height="3.30" fill="#ffb300"/>
<rect x="158.24" y="158.24" width="3.30" height="3.30" fill="#ff4c00"/>
<rect x="161.53" y="161.53" width="3.30" height="3.30" fill="#ffb300"/>
<rect x="164.83" y="164.83" width="3.30" height="3.30" fill="#ff8000"/>
<rect x="168.13" y="168.13" width="3.30" height="3.30" fill="#ff8000"/>
<rect x="171.42" y="171.42" width="3.30" height="3.30" fill="#ffb300"/>
<rect x="174.72" y="174.72" width="3.30" height="3.30" fill="#b30000"/>
<rect x="178.02" y="178.02" width="3.30" height="3.30" fill="#ffb300"/>
<rect x="181.31" y="181.31" width="3.30" height="3.30" fill="#ffb300"/>
<rect x="184.61" y="184.61" width="3.30" height="3.30" fill="#ff4c00"/>
<rect x="187.91" y="187.91" width="3.30" height="3.30" fill="#ffb300"/>
<rect x="191.20" y="191.20" width="3.30" height="3.30" fill="#b30000"/>
<rect x="194.50" y="194.50" width="3.30" height="3.30" fill="#ffb300"/>
<rect x="197.80" y="197.80" width="3.30" height="3.30" fill="#b30000"/>
<rect x="201.09" y="201.09" width="3.30" height="3.30" fill="#e50000"/>
<rect x="204.39" y="204.39" width="3.30" height="3.30" fill="#ff9e00"/>
<rect x="207.69" y="207.69" width="3.30" height="3.30" fill="#ff9e00"/>
<rect x="210.98" y="210.98" width="3.30" height="3.30" fill="#ff9e00"/>
<rect x="214.28" y="214.28" width="3.30" height="3.30" fill="#ff9e00"/>
<rect x="217.58" y="217.58" width="3.30" height="3.30" fill="#ff9e00"/>
<rect x="220.87" y="220.87" width="3.30" height="3.30" fill="#ff9e00"/>
<rect x="224.17" y="224.17" width="3.30" height="3.30" fill="#ff9e00"/>
<rect x="227.47" y="227.47" width="3.30" height="3.30" fill="#ff9e00"/>
<rect x="230.76" y="230.76" width="3.30" height="3.30" fill="#ff9e00"/>
<rect x="234.06" y="234.06" width="3.30" height="3.30" fill="#fa0000"/>
<rect x="237.36" y="237.36" width="3.30" height="3.30" fill="#0080ff"/>
<rect x="240.65" y="240.65" width="3.30" height="3.30" fill="#2effd1"/>
<rect x="243.95" y="243.95" width="3.30" height="3.30" fill="#ffe500"/>
<rect x="247.25" y="247.25" width="3.30" height="3.30" fill="#ffe500"/>
<rect x="250.54" y="250.54" width="3.30" height="3.30" fill="#ffe500"/>
<rect x="253.84" y="253.84" width="3.30" height="3.30" fill="#ffe500"/>
<rect x="257.14" y="257.14" width="3.30" height="3.30" fill="#ffe500"/>
<rect x="260.43" y="260.43" width="3.30" height="3.30" fill="#ff3800"/>
<rect x="263.73" y="263.73" width="3.30" height="3.30" fill="#4dffb2"/>
<rect x="267.03" y="267.03" width="3.30" height="3.30" fill="#4dffb2"/>
<rect x="270.32" y="270.32" width="3.30" height="3.30" fill="#4dffb2"/>
<rect x="273.62" y="273.62" width="3.30" height="3.30" fill="#4dffb2"/>
<rect x="276.92" y="276.92" width="3.30" height="3.30" fill="#4dffb2"/>
<rect x="280.21" y="280.21" width="3.30" height="3.30" fill="#4dffb2"/>
<rect x="283.51" y="283.51" width="3.30" height="3.30" fill="#b3ff4c"/>
<rect x="286.81" y="286.81" width="3.30" height="3.30" fill="#b3ff4c"/>
<rect x="290.10" y="290.10" width="3.30" height="3.30" fill="#ff8000"/>
<rect x="293.40" y="293.40" width="3.30" height="3.30" fill="#b3ff4c"/>
<rect x="296.69" y="296.69" width="3.30" height="3.30" fill="#b3ff4c"/>
<rect x="299.99" y="299.99" width="3.30" height="3.30" fill="#b3ff4c"/>
<rect x="303.29" y="303.29" width="3.30" height="3.30" fill="#b3ff4c"/>
<rect x="306.58" y="306.58" width="3.30" height="3.30" fill="#b3ff4c"/>
<rect x="309.88" y="309.88" width="3.30" height="3.30" fill="#b3ff4c"/>
<rect x="313.18" y="313.18" width="3.30" height="3.30" fill="#b3ff4c"/>
<rect x="316.47" y="316.47" width="3.30" height="3.30" fill="#b3ff4c"/>
<rect x="319.77" y="319.77" width="3.30" height="3.30" fill="#fa0000"/>
<rect x="323.07" y="323.07" width="3.30" height="3.30" fill="#b3ff4c"/>
<rect x="326.36" y="326.36" width="3.30" height="3.30" fill="#ffb300"/>
<rect x="329.66" y="329.66" width="3.30" height="3.30" fill="#b3ff4c"/>
<rect x="332.96" y="332.96" width="3.30" height="3.30" fill="#ff9e00"/>
<rect x="336.25" y="336.25" width="3.30" height="3.30" fill="#b3ff4c"/>
<rect x="339.55" y="339.55" width="3.30" height="3.30" fill="#b3ff4c"/>
<rect x="342.85" y="342.85" width="3.30" height="3.30" fill="#b3ff4c"/>
<rect x="346.14" y="346.14" width="3.30" height="3.30" fill="#b3ff4c"/>
<rect x="349.44" y="349.44" width="3.30" height="3.30" fill="#b3ff4c"/>
<rect x="352.74" y="352.74" width="3.30" height="3.30" fill="#b3ff4c"/>
<rect x="356.03" y="356.03" width="3.30" height="3.30" fill="#b3ff4c"/>
<rect x="359.33" y="359.33" width="3.30" height="3.30" fill="#b3ff4c"/>
<rect x="362.63" y="362.63" width="3.30" height="3.30" fill="#b3ff4c"/>
<rect x="365.92" y="365.92" width="3.30" height="3.30" fill="#b3ff4c"/>
<rect x="369.22" y="369.22" width="3.30" height="3.30" fill="#b3ff4c"/>
<rect x="372.52" y="372.52" width="3.30" height="3.30" fill="#b3ff4c"/>
<rect x="375.81" y="375.81" width="3.30" height="3.30" fill="#b3ff4c"/>
<rect x="379.11" y="379.11" width="3.30" height="3.30" fill="#b3ff4c"/>
<rect x="382.41" y="382.41" width="3.30" height="3.30" fill="#ff8000"/>
<rect x="385.70" y="385.70" width="3.30" height="3.30" fill="#b3ff4c"/>
</g></svg></div>
<svg width="1125" height="580" style="position:absolute;left:0;top:0" stroke="#999" stroke-width="0.6"><line x1="55.5" y1="134.05" x2="58.4" y2="134.05"/><line x1="60.05" y1="521.4" x2="60.05" y2="524.3"/><line x1="55.5" y1="137.34" x2="58.4" y2="137.34"/><line x1="63.34" y1="521.4" x2="63.34" y2="524.3"/><line x1="55.5" y1="140.64" x2="58.4" y2="140.64"/><line x1="66.64" y1="521.4" x2="66.64" y2="524.3"/><line x1="55.5" y1="143.94" x2="58.4" y2="143.94"/><line x1="69.94" y1="521.4" x2="69.94" y2="524.3"/><line x1="55.5" y1="147.23" x2="58.4" y2="147.23"/><line x1="73.23" y1="521.4" x2="73.23" y2="524.3"/><line x1="55.5" y1="150.53" x2="58.4" y2="150.53"/><line x1="76.53" y1="521.4" x2="76.53" y2="524.3"/><line x1="55.5" y1="153.83" x2="58.4" y2="153.83"/><line x1="79.83" y1="521.4" x2="79.83" y2="524.3"/><line x1="55.5" y1="157.12" x2="58.4" y2="157.12"/><line x1="83.12" y1="521.4" x2="83.12" y2="524.3"/><line x1="55.5" y1="160.42" x2="58.4" y2="160.42"/><line x1="86.42" y1="521.4" x2="86.42" y2="524.3"/><line x1="55.5" y1="163.72" x2="58.4" y2="163.72"/><line x1="89.72" y1="521.4" x2="89.72" y2="524.3"/><line x1="55.5" y1="167.01" x2="58.4" y2="167.01"/><line x1="93.01" y1="521.4" x2="93.01" y2="524.3"/><line x1="55.5" y1="170.31" x2="58.4" y2="170.31"/><line x1="96.31" y1="521.4" x2="96.31" y2="524.3"/><line x1="55.5" y1="173.61" x2="58.4" y2="173.61"/><line x1="99.61" y1="521.4" x2="99.61" y2="524.3"/><line x1="55.5" y1="176.90" x2="58.4" y2="176.90"/><line x1="102.90" y1="521.4" x2="102.90" y2="524.3"/><line x1="55.5" y1="180.20" x2="58.4" y2="180.20"/><line x1="106.20" y1="521.4" x2="106.20" y2="524.3"/><line x1="55.5" y1="183.50" x2="58.4" y2="183.50"/><line x1="109.50" y1="521.4" x2="109.50" y2="524.3"/><line x1="55.5" y1="186.79" x2="58.4" y2="186.79"/><line x1="112.79" y1="521.4" x2="112.79" y2="524.3"/><line x1="55.5" y1="190.09" x2="58.4" y2="190.09"/><line x1="116.09" y1="521.4" x2="116.09" y2="524.3"/><line x1="55.5" y1="193.39" x2="58.4" y2="193.39"/><line x1="119.39" y1="521.4" x2="119.39" y2="524.3"/><line x1="55.5" y1="196.68" x2="58.4" y2="196.68"/><line x1="122.68" y1="521.4" x2="122.68" y2="524.3"/><line x1="55.5" y1="199.98" x2="58.4" y2="199.98"/><line x1="125.98" y1="521.4" x2="125.98" y2="524.3"/><line x1="55.5" y1="203.28" x2="58.4" y2="203.28"/><line x1="129.28" y1="521.4" x2="129.28" y2="524.3"/><line x1="55.5" y1="206.57" x2="58.4" y2="206.57"/><line x1="132.57" y1="521.4" x2="132.57" y2="524.3"/><line x1="55.5" y1="209.87" x2="58.4" y2="209.87"/><line x1="135.87" y1="521.4" x2="135.87" y2="524.3"/><line x1="55.5" y1="213.17" x2="58.4" y2="213.17"/><line x1="139.17" y1="521.4" x2="139.17" y2="524.3"/><line x1="55.5" y1="216.46" x2="58.4" y2="216.46"/><line x1="142.46" y1="521.4" x2="142.46" y2="524.3"/><line x1="55.5" y1="219.76" x2="58.4" y2="219.76"/><line x1="145.76" y1="521.4" x2="145.76" y2="524.3"/><line x1="55.5" y1="223.06" x2="58.4" y2="223.06"/><line x1="149.06" y1="521.4" x2="149.06" y2="524.3"/><line x1="55.5" y1="226.35" x2="58.4" y2="226.35"/><line x1="152.35" y1="521.4" x2="152.35" y2="524.3"/><line x1="55.5" y1="229.65" x2="58.4" y2="229.65"/><line x1="155.65" y1="521.4" x2="155.65" y2="524.3"/><line x1="55.5" y1="232.95" x2="58.4" y2="232.95"/><line x1="158.95" y1="521.4" x2="158.95" y2="524.3"/><line x1="55.5" y1="236.24" x2="58.4" y2="236.24"/><line x1="162.24" y1="521.4" x2="162.24" y2="524.3"/><line x1="55.5" y1="239.54" x2="58.4" y2="239.54"/><line x1="165.54" y1="521.4" x2="165.54" y2="524.3"/><line x1="55.5" y1="242.84" x2="58.4" y2="242.84"/><line x1="168.84" y1="521.4" x2="168.84" y2="524.3"/><line x1="55.5" y1="246.13" x2="58.4" y2="246.13"/><line x1="172.13" y1="521.4" x2="172.13" y2="524.3"/><line x1="55.5" y1="249.43" x2="58.4" y2="249.43"/><line x1="175.43" y1="521.4" x2="175.43" y2="524.3"/><line x1="55.5" y1="252.73" x2="58.4" y2="252.73"/><line x1="178.73" y1="521.4" x2="178.73" y2="524.3"/><line x1="55.5" y1="256.02" x2="58.4" y2="256.02"/><line x1="182.02" y1="521.4" x2="182.02" y2="524.3"/><line x1="55.5" y1="259.32" x2="58.4" y2="259.32"/><line x1="185.32" y1="521.4" x2="185.32" y2="524.3"/><line x1="55.5" y1="262.62" x2="58.4" y2="262.62"/><line x1="188.62" y1="521.4" x2="188.62" y2="524.3"/><line x1="55.5" y1="265.91" x2="58.4" y2="265.91"/><line x1="191.91" y1="521.4" x2="191.91" y2="524.3"/><line x1="55.5" y1="269.21" x2="58.4" y2="269.21"/><line x1="195.21" y1="521.4" x2="195.21" y2="524.3"/><line x1="55.5" y1="272.51" x2="58.4" y2="272.51"/><line x1="198.51" y1="521.4" x2="198.51" y2="524.3"/><line x1="55.5" y1="275.80" x2="58.4" y2="275.80"/><line x1="201.80" y1="521.4" x2="201.80" y2="524.3"/><line x1="55.5" y1="279.10" x2="58.4" y2="279.10"/><line x1="205.10" y1="521.4" x2="205.10" y2="524.3"/><line x1="55.5" y1="282.40" x2="58.4" y2="282.40"/><line x1="208.40" y1="521.4" x2="208.40" y2="524.3"/><line x1="55.5" y1="285.69" x2="58.4" y2="285.69"/><line x1="211.69" y1="521.4" x2="211.69" y2="524.3"/><line x1="55.5" y1="288.99" x2="58.4" y2="288.99"/><line x1="214.99" y1="521.4" x2="214.99" y2="524.3"/><line x1="55.5" y1="292.29" x2="58.4" y2="292.29"/><line x1="218.29" y1="521.4" x2="218.29" y2="524.3"/><line x1="55.5" y1="295.58" x2="58.4" y2="295.58"/><line x1="221.58" y1="521.4" x2="221.58" y2="524.3"/><line x1="55.5" y1="298.88" x2="58.4" y2="298.88"/><line x1="224.88" y1="521.4" x2="224.88" y2="524.3"/><line x1="55.5" y1="302.18" x2="58.4" y2="302.18"/><line x1="228.18" y1="521.4" x2="228.18" y2="524.3"/><line x1="55.5" y1="305.47" x2="58.4" y2="305.47"/><line x1="231.47" y1="521.4" x2="231.47" y2="524.3"/><line x1="55.5" y1="308.77" x2="58.4" y2="308.77"/><line x1="234.77" y1="521.4" x2="234.77" y2="524.3"/><line x1="55.5" y1="312.07" x2="58.4" y2="312.07"/><line x1="238.07" y1="521.4" x2="238.07" y2="524.3"/><line x1="55.5" y1="315.36" x2="58.4" y2="315.36"/><line x1="241.36" y1="521.4" x2="241.36" y2="524.3"/><line x1="55.5" y1="318.66" x2="58.4" y2="318.66"/><line x1="244.66" y1="521.4" x2="244.66" y2="524.3"/><line x1="55.5" y1="321.96" x2="58.4" y2="321.96"/><line x1="247.96" y1="521.4" x2="247.96" y2="524.3"/><line x1="55.5" y1="325.25" x2="58.4" y2="325.25"/><line x1="251.25" y1="521.4" x2="251.25" y2="524.3"/><line x1="55.5" y1="328.55" x2="58.4" y2="328.55"/><line x1="254.55" y1="521.4" x2="254.55" y2="524.3"/><line x1="55.5" y1="331.84" x2="58.4" y2="331.84"/><line x1="257.84" y1="521.4" x2="257.84" y2="524.3"/><line x1="55.5" y1="335.14" x2="58.4" y2="335.14"/><line x1="261.14" y1="521.4" x2="261.14" y2="524.3"/><line x1="55.5" y1="338.44" x2="58.4" y2="338.44"/><line x1="264.44" y1="521.4" x2="264.44" y2="524.3"/><line x1="55.5" y1="341.73" x2="58.4" y2="341.73"/><line x1="267.73" y1="521.4" x2="267.73" y2="524.3"/><line x1="55.5" y1="345.03" x2="58.4" y2="345.03"/><line x1="271.03" y1="521.4" x2="271.03" y2="524.3"/><line x1="55.5" y1="348.33" x2="58.4" y2="348.33"/><line x1="274.33" y1="521.4" x2="274.33" y2="524.3"/><line x1="55.5" y1="351.62" x2="58.4" y2="351.62"/><line x1="277.62" y1="521.4" x2="277.62" y2="524.3"/><line x1="55.5" y1="354.92" x2="58.4" y2="354.92"/><line x1="280.92" y1="521.4" x2="280.92" y2="524.3"/><line x1="55.5" y1="358.22" x2="58.4" y2="358.22"/><line x1="284.22" y1="521.4" x2="284.22" y2="524.3"/><line x1="55.5" y1="361.51" x2="58.4" y2="361.51"/><line x1="287.51" y1="521.4" x2="287.51" y2="524.3"/><line x1="55.5" y1="364.81" x2="58.4" y2="364.81"/><line x1="290.81" y1="521.4" x2="290.81" y2="524.3"/><line x1="55.5" y1="368.11" x2="58.4" y2="368.11"/><line x1="294.11" y1="521.4" x2="294.11" y2="524.3"/><line x1="55.5" y1="371.40" x2="58.4" y2="371.40"/><line x1="297.40" y1="521.4" x2="297.40" y2="524.3"/><line x1="55.5" y1="374.70" x2="58.4" y2="374.70"/><line x1="300.70" y1="521.4" x2="300.70" y2="524.3"/><line x1="55.5" y1="378.00" x2="58.4" y2="378.00"/><line x1="304.00" y1="521.4" x2="304.00" y2="524.3"/><line x1="55.5" y1="381.29" x2="58.4" y2="381.29"/><line x1="307.29" y1="521.4" x2="307.29" y2="524.3"/><line x1="55.5" y1="384.59" x2="58.4" y2="384.59"/><line x1="310.59" y1="521.4" x2="310.59" y2="524.3"/><line x1="55.5" y1="387.89" x2="58.4" y2="387.89"/><line x1="313.89" y1="521.4" x2="313.89" y2="524.3"/><line x1="55.5" y1="391.18" x2="58.4" y2="391.18"/><line x1="317.18" y1="521.4" x2="317.18" y2="524.3"/><line x1="55.5" y1="394.48" x2="58.4" y2="394.48"/><line x1="320.48" y1="521.4" x2="320.48" y2="524.3"/><line x1="55.5" y1="397.78" x2="58.4" y2="397.78"/><line x1="323.78" y1="521.4" x2="323.78" y2="524.3"/><line x1="55.5" y1="401.07" x2="58.4" y2="401.07"/><line x1="327.07" y1="521.4" x2="327.07" y2="524.3"/><line x1="55.5" y1="404.37" x2="58.4" y2="404.37"/><line x1="330.37" y1="521.4" x2="330.37" y2="524.3"/><line x1="55.5" y1="407.67" x2="58.4" y2="407.67"/><line x1="333.67" y1="521.4" x2="333.67" y2="524.3"/><line x1="55.5" y1="410.96" x2="58.4" y2="410.96"/><line x1="336.96" y1="521.4" x2="336.96" y2="524.3"/><line x1="55.5" y1="414.26" x2="58.4" y2="414.26"/><line x1="340.26" y1="521.4" x2="340.26" y2="524.3"/><line x1="55.5" y1="417.56" x2="58.4" y2="417.56"/><line x1="343.56" y1="521.4" x2="343.56" y2="524.3"/><line x1="55.5" y1="420.85" x2="58.4" y2="420.85"/><line x1="346.85" y1="521.4" x2="346.85" y2="524.3"/><line x1="55.5" y1="424.15" x2="58.4" y2="424.15"/><line x1="350.15" y1="521.4" x2="350.15" y2="524.3"/><line x1="55.5" y1="427.45" x2="58.4" y2="427.45"/><line x1="353.45" y1="521.4" x2="353.45" y2="524.3"/><line x1="55.5" y1="430.74" x2="58.4" y2="430.74"/><line x1="356.74" y1="521.4" x2="356.74" y2="524.3"/><line x1="55.5" y1="434.04" x2="58.4" y2="434.04"/><line x1="360.04" y1="521.4" x2="360.04" y2="524.3"/><line x1="55.5" y1="437.34" x2="58.4" y2="437.34"/><line x1="363.34" y1="521.4" x2="363.34" y2="524.3"/><line x1="55.5" y1="440.63" x2="58.4" y2="440.63"/><line x1="366.63" y1="521.4" x2="366.63" y2="524.3"/><line x1="55.5" y1="443.93" x2="58.4" y2="443.93"/><line x1="369.93" y1="521.4" x2="369.93" y2="524.3"/><line x1="55.5" y1="447.23" x2="58.4" y2="447.23"/><line x1="373.23" y1="521.4" x2="373.23" y2="524.3"/><line x1="55.5" y1="450.52" x2="58.4" y2="450.52"/><line x1="376.52" y1="521.4" x2="376.52" y2="524.3"/><line x1="55.5" y1="453.82" x2="58.4" y2="453.82"/><line x1="379.82" y1="521.4" x2="379.82" y2="524.3"/><line x1="55.5" y1="457.12" x2="58.4" y2="457.12"/><line x1="383.12" y1="521.4" x2="383.12" y2="524.3"/><line x1="55.5" y1="460.41" x2="58.4" y2="460.41"/><line x1="386.41" y1="521.4" x2="386.41" y2="524.3"/><line x1="55.5" y1="463.71" x2="58.4" y2="463.71"/><line x1="389.71" y1="521.4" x2="389.71" y2="524.3"/><line x1="55.5" y1="467.01" x2="58.4" y2="467.01"/><line x1="393.01" y1="521.4" x2="393.01" y2="524.3"/><line x1="55.5" y1="470.30" x2="58.4" y2="470.30"/><line x1="396.30" y1="521.4" x2="396.30" y2="524.3"/><line x1="55.5" y1="473.60" x2="58.4" y2="473.60"/><line x1="399.60" y1="521.4" x2="399.60" y2="524.3"/><line x1="55.5" y1="476.90" x2="58.4" y2="476.90"/><line x1="402.90" y1="521.4" x2="402.90" y2="524.3"/><line x1="55.5" y1="480.19" x2="58.4" y2="480.19"/><line x1="406.19" y1="521.4" x2="406.19" y2="524.3"/><line x1="55.5" y1="483.49" x2="58.4" y2="483.49"/><line x1="409.49" y1="521.4" x2="409.49" y2="524.3"/><line x1="55.5" y1="486.79" x2="58.4" y2="486.79"/><line x1="412.79" y1="521.4" x2="412.79" y2="524.3"/><line x1="55.5" y1="490.08" x2="58.4" y2="490.08"/><line x1="416.08" y1="521.4" x2="416.08" y2="524.3"/><line x1="55.5" y1="493.38" x2="58.4" y2="493.38"/><line x1="419.38" y1="521.4" x2="419.38" y2="524.3"/><line x1="55.5" y1="496.68" x2="58.4" y2="496.68"/><line x1="422.68" y1="521.4" x2="422.68" y2="524.3"/><line x1="55.5" y1="499.97" x2="58.4" y2="499.97"/><line x1="425.97" y1="521.4" x2="425.97" y2="524.3"/><line x1="55.5" y1="503.27" x2="58.4" y2="503.27"/><line x1="429.27" y1="521.4" x2="429.27" y2="524.3"/><line x1="55.5" y1="506.57" x2="58.4" y2="506.57"/><line x1="432.57" y1="521.4" x2="432.57" y2="524.3"/><line x1="55.5" y1="509.86" x2="58.4" y2="509.86"/><line x1="435.86" y1="521.4" x2="435.86" y2="524.3"/><line x1="55.5" y1="513.16" x2="58.4" y2="513.16"/><line x1="439.16" y1="521.4" x2="439.16" y2="524.3"/><line x1="55.5" y1="516.46" x2="58.4" y2="516.46"/><line x1="442.46" y1="521.4" x2="442.46" y2="524.3"/><line x1="55.5" y1="519.75" x2="58.4" y2="519.75"/><line x1="445.75" y1="521.4" x2="445.75" y2="524.3"/><line x1="495.2" y1="90.0" x2="498" y2="90.0" stroke="#555" stroke-width="0.8"/><line x1="495.2" y1="208.3" x2="498" y2="208.3" stroke="#555" stroke-width="0.8"/><line x1="495.2" y1="326.6" x2="498" y2="326.6" stroke="#555" stroke-width="0.8"/><line x1="495.2" y1="444.9" x2="498" y2="444.9" stroke="#555" stroke-width="0.8"/><line x1="495.2" y1="563.2" x2="498" y2="563.2" stroke="#555" stroke-width="0.8"/></svg>
<svg width="1125" height="580" style="position:absolute;left:0;top:0"><circle cx="1033.4" cy="202.7" r="4.55" fill="#106db5"/><circle cx="968.3" cy="216.7" r="4.55" fill="#106db5"/><circle cx="974.6" cy="223.8" r="4.55" fill="#106db5"/><circle cx="1045.0" cy="224.4" r="4.55" fill="#106db5"/><circle cx="1047.9" cy="226.2" r="4.55" fill="#106db5"/><circle cx="1007.2" cy="231.1" r="4.55" fill="#106db5"/><circle cx="1081.7" cy="232.2" r="4.55" fill="#106db5"/><circle cx="983.4" cy="239.6" r="4.55" fill="#106db5"/><circle cx="1007.9" cy="240.0" r="4.55" fill="#106db5"/><circle cx="1013.2" cy="243.3" r="4.55" fill="#106db5"/><circle cx="979.0" cy="256.2" r="4.55" fill="#106db5"/><circle cx="1030.1" cy="255.6" r="4.55" fill="#106db5"/><circle cx="1055.4" cy="261.3" r="4.55" fill="#106db5"/><circle cx="1071.7" cy="255.6" r="4.55" fill="#106db5"/><circle cx="1114.6" cy="254.4" r="4.55" fill="#106db5"/><circle cx="1001.2" cy="264.4" r="4.55" fill="#106db5"/><circle cx="1019.0" cy="265.1" r="4.55" fill="#106db5"/><circle cx="1092.8" cy="266.7" r="4.55" fill="#106db5"/><circle cx="1051.7" cy="272.2" r="4.55" fill="#106db5"/><circle cx="1075.0" cy="276.7" r="4.55" fill="#106db5"/><circle cx="1003.9" cy="276.7" r="4.55" fill="#106db5"/><circle cx="1009.4" cy="275.6" r="4.55" fill="#106db5"/><circle cx="1022.8" cy="296.2" r="4.55" fill="#106db5"/><circle cx="1052.1" cy="287.8" r="4.55" fill="#106db5"/><circle cx="1083.9" cy="285.1" r="4.55" fill="#106db5"/><circle cx="1087.7" cy="315.1" r="4.55" fill="#106db5"/><circle cx="1042.1" cy="324.4" r="4.55" fill="#106db5"/><circle cx="978.8" cy="451.1" r="4.55" fill="#106db5"/><circle cx="953.7" cy="462.0" r="4.55" fill="#106db5"/><circle cx="958.5" cy="466.8" r="4.55" fill="#106db5"/><circle cx="848.6" cy="212.4" r="4.55" fill="#109868"/><circle cx="821.4" cy="254.2" r="4.55" fill="#109868"/><circle cx="802.8" cy="272.4" r="4.55" fill="#109868"/><circle cx="843.9" cy="270.2" r="4.55" fill="#109868"/><circle cx="867.2" cy="275.6" r="4.55" fill="#109868"/><circle cx="977.2" cy="172.2" r="4.55" fill="#109868"/><circle cx="879.9" cy="190.0" r="4.55" fill="#109868"/><circle cx="962.8" cy="196.0" r="4.55" fill="#109868"/><circle cx="996.1" cy="197.8" r="4.55" fill="#109868"/><circle cx="933.9" cy="202.2" r="4.55" fill="#109868"/><circle cx="925.0" cy="214.4" r="4.55" fill="#109868"/><circle cx="922.8" cy="217.8" r="4.55" fill="#109868"/><circle cx="879.9" cy="236.7" r="4.55" fill="#109868"/><circle cx="902.8" cy="244.0" r="4.55" fill="#109868"/><circle cx="941.7" cy="254.4" r="4.55" fill="#109868"/><circle cx="948.3" cy="252.2" r="4.55" fill="#109868"/><circle cx="888.3" cy="264.4" r="4.55" fill="#109868"/><circle cx="897.2" cy="261.1" r="4.55" fill="#109868"/><circle cx="959.4" cy="276.7" r="4.55" fill="#109868"/><circle cx="966.0" cy="277.8" r="4.55" fill="#109868"/><circle cx="675.0" cy="304.9" r="4.55" fill="#109868"/><circle cx="794.3" cy="304.0" r="4.55" fill="#109868"/><circle cx="827.2" cy="289.3" r="4.55" fill="#109868"/><circle cx="841.2" cy="308.9" r="4.55" fill="#109868"/><circle cx="908.3" cy="283.3" r="4.55" fill="#109868"/><circle cx="925.7" cy="286.7" r="4.55" fill="#109868"/><circle cx="886.6" cy="294.4" r="4.55" fill="#109868"/><circle cx="929.4" cy="296.2" r="4.55" fill="#109868"/><circle cx="951.0" cy="301.1" r="4.55" fill="#109868"/><circle cx="969.4" cy="303.3" r="4.55" fill="#109868"/><circle cx="931.7" cy="322.2" r="4.55" fill="#109868"/><circle cx="986.1" cy="331.1" r="4.55" fill="#109868"/><circle cx="929.4" cy="348.9" r="4.55" fill="#109868"/><circle cx="917.2" cy="362.7" r="4.55" fill="#109868"/><circle cx="908.4" cy="446.9" r="4.55" fill="#109868"/><circle cx="956.7" cy="453.5" r="4.55" fill="#109868"/><circle cx="943.8" cy="465.9" r="4.55" fill="#109868"/><circle cx="956.1" cy="472.3" r="4.55" fill="#109868"/><circle cx="950.7" cy="479.5" r="4.55" fill="#109868"/><circle cx="956.1" cy="483.7" r="4.55" fill="#109868"/><circle cx="771.0" cy="207.3" r="4.55" fill="#efdc38"/><circle cx="772.1" cy="245.1" r="4.55" fill="#efdc38"/><circle cx="829.0" cy="243.3" r="4.55" fill="#efdc38"/><circle cx="709.4" cy="276.0" r="4.55" fill="#efdc38"/><circle cx="929.4" cy="244.4" r="4.55" fill="#efdc38"/><circle cx="639.9" cy="286.2" r="4.55" fill="#efdc38"/><circle cx="677.9" cy="284.4" r="4.55" fill="#efdc38"/><circle cx="720.1" cy="287.3" r="4.55" fill="#efdc38"/><circle cx="790.1" cy="284.9" r="4.55" fill="#efdc38"/><circle cx="672.1" cy="300.0" r="4.55" fill="#efdc38"/><circle cx="677.4" cy="309.6" r="4.55" fill="#efdc38"/><circle cx="686.3" cy="303.3" r="4.55" fill="#efdc38"/><circle cx="653.9" cy="312.7" r="4.55" fill="#efdc38"/><circle cx="646.8" cy="323.8" r="4.55" fill="#efdc38"/><circle cx="660.1" cy="322.2" r="4.55" fill="#efdc38"/><circle cx="696.6" cy="312.2" r="4.55" fill="#efdc38"/><circle cx="694.3" cy="317.3" r="4.55" fill="#efdc38"/><circle cx="720.1" cy="316.2" r="4.55" fill="#efdc38"/><circle cx="725.4" cy="317.3" r="4.55" fill="#efdc38"/><circle cx="729.9" cy="309.6" r="4.55" fill="#efdc38"/><circle cx="748.3" cy="310.4" r="4.55" fill="#efdc38"/><circle cx="767.2" cy="314.0" r="4.55" fill="#efdc38"/><circle cx="772.1" cy="316.7" r="4.55" fill="#efdc38"/><circle cx="682.8" cy="340.4" r="4.55" fill="#efdc38"/><circle cx="673.4" cy="356.7" r="4.55" fill="#efdc38"/><circle cx="714.3" cy="348.7" r="4.55" fill="#efdc38"/><circle cx="726.1" cy="357.3" r="4.55" fill="#efdc38"/><circle cx="741.7" cy="338.9" r="4.55" fill="#efdc38"/><circle cx="743.9" cy="338.2" r="4.55" fill="#efdc38"/><circle cx="758.3" cy="335.6" r="4.55" fill="#efdc38"/><circle cx="815.7" cy="321.1" r="4.55" fill="#efdc38"/><circle cx="833.2" cy="327.6" r="4.55" fill="#efdc38"/><circle cx="840.6" cy="340.0" r="4.55" fill="#efdc38"/><circle cx="846.1" cy="344.4" r="4.55" fill="#efdc38"/><circle cx="815.4" cy="350.7" r="4.55" fill="#efdc38"/><circle cx="819.9" cy="360.7" r="4.55" fill="#efdc38"/><circle cx="807.7" cy="370.0" r="4.55" fill="#efdc38"/><circle cx="862.3" cy="348.4" r="4.55" fill="#efdc38"/><circle cx="892.3" cy="301.1" r="4.55" fill="#efdc38"/><circle cx="901.0" cy="332.2" r="4.55" fill="#efdc38"/><circle cx="895.7" cy="448.1" r="4.55" fill="#efdc38"/><circle cx="896.0" cy="451.0" r="4.55" fill="#efdc38"/><circle cx="904.8" cy="453.5" r="4.55" fill="#efdc38"/><circle cx="932.5" cy="473.5" r="4.55" fill="#efdc38"/><circle cx="936.2" cy="477.7" r="4.55" fill="#efdc38"/><circle cx="649" cy="420.5" r="4.55" fill="#109868"/><circle cx="649" cy="447" r="4.55" fill="#efdc38"/><circle cx="649" cy="474.3" r="4.55" fill="#106db5"/></svg>
<div class="t" style="left:681px;top:404.7px;font-size:24px">class 1</div>
<div class="t" style="left:681px;top:432.6px;font-size:24px">class 2</div>
<div class="t" style="left:681px;top:459.6px;font-size:24px">class 3</div>
</body></html>
